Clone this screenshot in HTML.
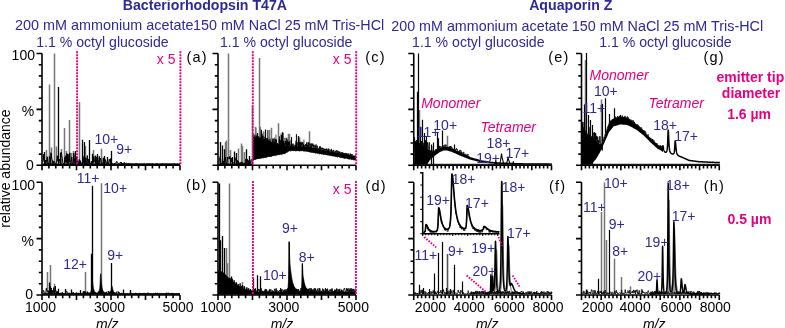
<!DOCTYPE html>
<html><head><meta charset="utf-8"><style>
html,body{margin:0;padding:0;background:#fff;overflow:hidden}
svg{display:block}
</style></head><body>
<svg width="785" height="328" viewBox="0 0 785 328" font-family="'Liberation Sans', sans-serif">
<rect width="785" height="328" fill="#fff"/>
<text x="122.8" y="9.9" font-size="14.15" fill="#2e2a95" font-weight="bold" font-style="normal" text-anchor="start" >Bacteriorhodopsin T47A</text>
<text x="529.15" y="9.9" font-size="14.15" fill="#2e2a95" font-weight="bold" font-style="normal" text-anchor="start" >Aquaporin Z</text>
<text x="15.1" y="30.45" font-size="14.4" fill="#2e2a95" font-weight="normal" font-style="normal" text-anchor="start" >200 mM ammonium acetate</text>
<text x="193.0" y="30.45" font-size="14.35" fill="#2e2a95" font-weight="normal" font-style="normal" text-anchor="start" >150 mM NaCl 25 mM Tris-HCl</text>
<text x="391.3" y="30.5" font-size="14.3" fill="#2e2a95" font-weight="normal" font-style="normal" text-anchor="start" >200 mM ammonium acetate</text>
<text x="571.8" y="30.5" font-size="14.35" fill="#2e2a95" font-weight="normal" font-style="normal" text-anchor="start" >150 mM NaCl 25 mM Tris-HCl</text>
<text x="36.2" y="47.3" font-size="14.1" fill="#2e2a95" font-weight="normal" font-style="normal" text-anchor="start" >1.1 % octyl glucoside</text>
<text x="220" y="47.3" font-size="14.1" fill="#2e2a95" font-weight="normal" font-style="normal" text-anchor="start" >1.1 % octyl glucoside</text>
<text x="412.1" y="47.3" font-size="14.1" fill="#2e2a95" font-weight="normal" font-style="normal" text-anchor="start" >1.1 % octyl glucoside</text>
<text x="599.2" y="47.3" font-size="14.1" fill="#2e2a95" font-weight="normal" font-style="normal" text-anchor="start" >1.1 % octyl glucoside</text>
<text x="11.6" y="59.8" font-size="14" fill="#000" font-weight="normal" font-style="normal" text-anchor="start" >100</text>
<text x="21.7" y="116.0" font-size="14" fill="#000" font-weight="normal" font-style="normal" text-anchor="start" >%</text>
<text x="26.05" y="169.9" font-size="14" fill="#000" font-weight="normal" font-style="normal" text-anchor="start" >0</text>
<text x="11.6" y="189.7" font-size="14" fill="#000" font-weight="normal" font-style="normal" text-anchor="start" >100</text>
<text x="21.6" y="246.1" font-size="14" fill="#000" font-weight="normal" font-style="normal" text-anchor="start" >%</text>
<text x="25.35" y="299.45" font-size="14" fill="#000" font-weight="normal" font-style="normal" text-anchor="start" >0</text>
<text x="10.4" y="168.5" font-size="14" fill="#000" text-anchor="middle" transform="rotate(-90 10.4 168.5)">relative abundance</text>
<text x="24.9" y="312.15" font-size="14" fill="#000" font-weight="normal" font-style="normal" text-anchor="start" >1000</text>
<text x="93.9" y="312.15" font-size="14" fill="#000" font-weight="normal" font-style="normal" text-anchor="start" >3000</text>
<text x="162.4" y="312.15" font-size="14" fill="#000" font-weight="normal" font-style="normal" text-anchor="start" >5000</text>
<text x="200.2" y="312.15" font-size="14" fill="#000" font-weight="normal" font-style="normal" text-anchor="start" >1000</text>
<text x="268.2" y="312.15" font-size="14" fill="#000" font-weight="normal" font-style="normal" text-anchor="start" >3000</text>
<text x="337.8" y="312.15" font-size="14" fill="#000" font-weight="normal" font-style="normal" text-anchor="start" >5000</text>
<text x="414.85" y="312.15" font-size="14" fill="#000" font-weight="normal" font-style="normal" text-anchor="start" >2000</text>
<text x="453.6" y="312.15" font-size="14" fill="#000" font-weight="normal" font-style="normal" text-anchor="start" >4000</text>
<text x="493.75" y="312.15" font-size="14" fill="#000" font-weight="normal" font-style="normal" text-anchor="start" >6000</text>
<text x="532.45" y="312.15" font-size="14" fill="#000" font-weight="normal" font-style="normal" text-anchor="start" >8000</text>
<text x="581.85" y="312.15" font-size="14" fill="#000" font-weight="normal" font-style="normal" text-anchor="start" >2000</text>
<text x="619.55" y="312.15" font-size="14" fill="#000" font-weight="normal" font-style="normal" text-anchor="start" >4000</text>
<text x="660.6" y="312.15" font-size="14" fill="#000" font-weight="normal" font-style="normal" text-anchor="start" >6000</text>
<text x="699.65" y="312.15" font-size="14" fill="#000" font-weight="normal" font-style="normal" text-anchor="start" >8000</text>
<text x="96.05" y="329.1" font-size="14" fill="#000" font-weight="normal" font-style="italic" text-anchor="start" >m/z</text>
<text x="270.7" y="329.1" font-size="14" fill="#000" font-weight="normal" font-style="italic" text-anchor="start" >m/z</text>
<text x="475.9" y="329.1" font-size="14" fill="#000" font-weight="normal" font-style="italic" text-anchor="start" >m/z</text>
<text x="642.95" y="329.1" font-size="14" fill="#000" font-weight="normal" font-style="italic" text-anchor="start" >m/z</text>
<text x="186.5" y="62.3" font-size="14.5" fill="#000" font-weight="normal" font-style="normal" text-anchor="start" letter-spacing="1.2">(a)</text>
<text x="365.2" y="62.3" font-size="14.5" fill="#000" font-weight="normal" font-style="normal" text-anchor="start" letter-spacing="1.2">(c)</text>
<text x="548.2" y="62.3" font-size="14.5" fill="#000" font-weight="normal" font-style="normal" text-anchor="start" letter-spacing="1.2">(e)</text>
<text x="703.5" y="62.3" font-size="14.5" fill="#000" font-weight="normal" font-style="normal" text-anchor="start" letter-spacing="1.2">(g)</text>
<text x="186.1" y="190.3" font-size="14.5" fill="#000" font-weight="normal" font-style="normal" text-anchor="start" letter-spacing="1.2">(b)</text>
<text x="365.4" y="190.5" font-size="14.5" fill="#000" font-weight="normal" font-style="normal" text-anchor="start" letter-spacing="1.2">(d)</text>
<text x="548.9" y="190.5" font-size="14.5" fill="#000" font-weight="normal" font-style="normal" text-anchor="start" letter-spacing="1.2">(f)</text>
<text x="703.7" y="190.5" font-size="14.5" fill="#000" font-weight="normal" font-style="normal" text-anchor="start" letter-spacing="1.2">(h)</text>
<text x="156.75" y="63.9" font-size="14" fill="#e5007e" font-weight="normal" font-style="normal" text-anchor="start" >x 5</text>
<text x="332.85" y="63.9" font-size="14" fill="#e5007e" font-weight="normal" font-style="normal" text-anchor="start" >x 5</text>
<text x="332.85" y="193.6" font-size="14" fill="#e5007e" font-weight="normal" font-style="normal" text-anchor="start" >x 5</text>
<text x="716.55" y="82.4" font-size="14" fill="#e5007e" font-weight="bold" font-style="normal" text-anchor="start" >emitter tip</text>
<text x="721.85" y="97.7" font-size="14" fill="#e5007e" font-weight="bold" font-style="normal" text-anchor="start" >diameter</text>
<text x="727.2" y="119.1" font-size="14" fill="#e5007e" font-weight="bold" font-style="normal" text-anchor="start" >1.6 µm</text>
<text x="727.5" y="223.8" font-size="14" fill="#e5007e" font-weight="bold" font-style="normal" text-anchor="start" >0.5 µm</text>
<path d="M42,53.5V165.3 M36.5,53.50H42 M38.8,64.68H42 M38.8,75.86H42 M38.8,87.04H42 M38.8,98.22H42 M36.5,109.40H42 M38.8,120.58H42 M38.8,131.76H42 M38.8,142.94H42 M38.8,154.12H42 M36.5,165.30H42 M36.5,165.3H180 M42.00,165.3V170.20000000000002 M48.90,165.3V168.60000000000002 M55.80,165.3V168.60000000000002 M62.70,165.3V168.60000000000002 M69.60,165.3V168.60000000000002 M76.50,165.3V170.20000000000002 M83.40,165.3V168.60000000000002 M90.30,165.3V168.60000000000002 M97.20,165.3V168.60000000000002 M104.10,165.3V168.60000000000002 M111.00,165.3V170.20000000000002 M117.90,165.3V168.60000000000002 M124.80,165.3V168.60000000000002 M131.70,165.3V168.60000000000002 M138.60,165.3V168.60000000000002 M145.50,165.3V170.20000000000002 M152.40,165.3V168.60000000000002 M159.30,165.3V168.60000000000002 M166.20,165.3V168.60000000000002 M173.10,165.3V168.60000000000002 M180.00,165.3V170.20000000000002" stroke="#000" stroke-width="1.6" fill="none"/>
<path d="M42,182.3V295.0 M36.5,182.30H42 M38.8,193.57H42 M38.8,204.84H42 M38.8,216.11H42 M38.8,227.38H42 M36.5,238.65H42 M38.8,249.92H42 M38.8,261.19H42 M38.8,272.46H42 M38.8,283.73H42 M36.5,295.00H42 M36.5,295.0H180 M42.00,295.0V299.9 M48.90,295.0V298.3 M55.80,295.0V298.3 M62.70,295.0V298.3 M69.60,295.0V298.3 M76.50,295.0V299.9 M83.40,295.0V298.3 M90.30,295.0V298.3 M97.20,295.0V298.3 M104.10,295.0V298.3 M111.00,295.0V299.9 M117.90,295.0V298.3 M124.80,295.0V298.3 M131.70,295.0V298.3 M138.60,295.0V298.3 M145.50,295.0V299.9 M152.40,295.0V298.3 M159.30,295.0V298.3 M166.20,295.0V298.3 M173.10,295.0V298.3 M180.00,295.0V299.9" stroke="#000" stroke-width="1.6" fill="none"/>
<path d="M218,53.5V165.3 M212.5,53.50H218 M214.8,64.68H218 M214.8,75.86H218 M214.8,87.04H218 M214.8,98.22H218 M212.5,109.40H218 M214.8,120.58H218 M214.8,131.76H218 M214.8,142.94H218 M214.8,154.12H218 M212.5,165.30H218 M212.5,165.3H356 M218.00,165.3V170.20000000000002 M224.90,165.3V168.60000000000002 M231.80,165.3V168.60000000000002 M238.70,165.3V168.60000000000002 M245.60,165.3V168.60000000000002 M252.50,165.3V170.20000000000002 M259.40,165.3V168.60000000000002 M266.30,165.3V168.60000000000002 M273.20,165.3V168.60000000000002 M280.10,165.3V168.60000000000002 M287.00,165.3V170.20000000000002 M293.90,165.3V168.60000000000002 M300.80,165.3V168.60000000000002 M307.70,165.3V168.60000000000002 M314.60,165.3V168.60000000000002 M321.50,165.3V170.20000000000002 M328.40,165.3V168.60000000000002 M335.30,165.3V168.60000000000002 M342.20,165.3V168.60000000000002 M349.10,165.3V168.60000000000002 M356.00,165.3V170.20000000000002" stroke="#000" stroke-width="1.6" fill="none"/>
<path d="M218,182.3V295.0 M212.5,182.30H218 M214.8,193.57H218 M214.8,204.84H218 M214.8,216.11H218 M214.8,227.38H218 M212.5,238.65H218 M214.8,249.92H218 M214.8,261.19H218 M214.8,272.46H218 M214.8,283.73H218 M212.5,295.00H218 M212.5,295.0H356 M218.00,295.0V299.9 M224.90,295.0V298.3 M231.80,295.0V298.3 M238.70,295.0V298.3 M245.60,295.0V298.3 M252.50,295.0V299.9 M259.40,295.0V298.3 M266.30,295.0V298.3 M273.20,295.0V298.3 M280.10,295.0V298.3 M287.00,295.0V299.9 M293.90,295.0V298.3 M300.80,295.0V298.3 M307.70,295.0V298.3 M314.60,295.0V298.3 M321.50,295.0V299.9 M328.40,295.0V298.3 M335.30,295.0V298.3 M342.20,295.0V298.3 M349.10,295.0V298.3 M356.00,295.0V299.9" stroke="#000" stroke-width="1.6" fill="none"/>
<path d="M413.75,53.5V165.3 M408.25,53.50H413.75 M410.55,64.68H413.75 M410.55,75.86H413.75 M410.55,87.04H413.75 M410.55,98.22H413.75 M408.25,109.40H413.75 M410.55,120.58H413.75 M410.55,131.76H413.75 M410.55,142.94H413.75 M410.55,154.12H413.75 M408.25,165.30H413.75 M408.25,165.3H551.5 M413.75,165.3V170.20000000000002 M417.69,165.3V168.60000000000002 M421.62,165.3V168.60000000000002 M425.56,165.3V168.60000000000002 M429.49,165.3V168.60000000000002 M433.43,165.3V170.20000000000002 M437.36,165.3V168.60000000000002 M441.30,165.3V168.60000000000002 M445.24,165.3V168.60000000000002 M449.17,165.3V168.60000000000002 M453.11,165.3V170.20000000000002 M457.04,165.3V168.60000000000002 M460.98,165.3V168.60000000000002 M464.91,165.3V168.60000000000002 M468.85,165.3V168.60000000000002 M472.79,165.3V170.20000000000002 M476.72,165.3V168.60000000000002 M480.66,165.3V168.60000000000002 M484.59,165.3V168.60000000000002 M488.53,165.3V168.60000000000002 M492.46,165.3V170.20000000000002 M496.40,165.3V168.60000000000002 M500.34,165.3V168.60000000000002 M504.27,165.3V168.60000000000002 M508.21,165.3V168.60000000000002 M512.14,165.3V170.20000000000002 M516.08,165.3V168.60000000000002 M520.01,165.3V168.60000000000002 M523.95,165.3V168.60000000000002 M527.89,165.3V168.60000000000002 M531.82,165.3V170.20000000000002 M535.76,165.3V168.60000000000002 M539.69,165.3V168.60000000000002 M543.63,165.3V168.60000000000002 M547.56,165.3V168.60000000000002 M551.50,165.3V170.20000000000002" stroke="#000" stroke-width="1.6" fill="none"/>
<path d="M413.75,182.3V295.0 M408.25,182.30H413.75 M410.55,193.57H413.75 M410.55,204.84H413.75 M410.55,216.11H413.75 M410.55,227.38H413.75 M408.25,238.65H413.75 M410.55,249.92H413.75 M410.55,261.19H413.75 M410.55,272.46H413.75 M410.55,283.73H413.75 M408.25,295.00H413.75 M408.25,295.0H551.5 M413.75,295.0V299.9 M417.69,295.0V298.3 M421.62,295.0V298.3 M425.56,295.0V298.3 M429.49,295.0V298.3 M433.43,295.0V299.9 M437.36,295.0V298.3 M441.30,295.0V298.3 M445.24,295.0V298.3 M449.17,295.0V298.3 M453.11,295.0V299.9 M457.04,295.0V298.3 M460.98,295.0V298.3 M464.91,295.0V298.3 M468.85,295.0V298.3 M472.79,295.0V299.9 M476.72,295.0V298.3 M480.66,295.0V298.3 M484.59,295.0V298.3 M488.53,295.0V298.3 M492.46,295.0V299.9 M496.40,295.0V298.3 M500.34,295.0V298.3 M504.27,295.0V298.3 M508.21,295.0V298.3 M512.14,295.0V299.9 M516.08,295.0V298.3 M520.01,295.0V298.3 M523.95,295.0V298.3 M527.89,295.0V298.3 M531.82,295.0V299.9 M535.76,295.0V298.3 M539.69,295.0V298.3 M543.63,295.0V298.3 M547.56,295.0V298.3 M551.50,295.0V299.9" stroke="#000" stroke-width="1.6" fill="none"/>
<path d="M581.5,53.5V165.3 M576.0,53.50H581.5 M578.3,64.68H581.5 M578.3,75.86H581.5 M578.3,87.04H581.5 M578.3,98.22H581.5 M576.0,109.40H581.5 M578.3,120.58H581.5 M578.3,131.76H581.5 M578.3,142.94H581.5 M578.3,154.12H581.5 M576.0,165.30H581.5 M576.0,165.3H719.25 M581.50,165.3V170.20000000000002 M585.44,165.3V168.60000000000002 M589.37,165.3V168.60000000000002 M593.31,165.3V168.60000000000002 M597.24,165.3V168.60000000000002 M601.18,165.3V170.20000000000002 M605.11,165.3V168.60000000000002 M609.05,165.3V168.60000000000002 M612.99,165.3V168.60000000000002 M616.92,165.3V168.60000000000002 M620.86,165.3V170.20000000000002 M624.79,165.3V168.60000000000002 M628.73,165.3V168.60000000000002 M632.66,165.3V168.60000000000002 M636.60,165.3V168.60000000000002 M640.54,165.3V170.20000000000002 M644.47,165.3V168.60000000000002 M648.41,165.3V168.60000000000002 M652.34,165.3V168.60000000000002 M656.28,165.3V168.60000000000002 M660.21,165.3V170.20000000000002 M664.15,165.3V168.60000000000002 M668.09,165.3V168.60000000000002 M672.02,165.3V168.60000000000002 M675.96,165.3V168.60000000000002 M679.89,165.3V170.20000000000002 M683.83,165.3V168.60000000000002 M687.76,165.3V168.60000000000002 M691.70,165.3V168.60000000000002 M695.64,165.3V168.60000000000002 M699.57,165.3V170.20000000000002 M703.51,165.3V168.60000000000002 M707.44,165.3V168.60000000000002 M711.38,165.3V168.60000000000002 M715.31,165.3V168.60000000000002 M719.25,165.3V170.20000000000002" stroke="#000" stroke-width="1.6" fill="none"/>
<path d="M581.5,182.3V295.0 M576.0,182.30H581.5 M578.3,193.57H581.5 M578.3,204.84H581.5 M578.3,216.11H581.5 M578.3,227.38H581.5 M576.0,238.65H581.5 M578.3,249.92H581.5 M578.3,261.19H581.5 M578.3,272.46H581.5 M578.3,283.73H581.5 M576.0,295.00H581.5 M576.0,295.0H719.25 M581.50,295.0V299.9 M585.44,295.0V298.3 M589.37,295.0V298.3 M593.31,295.0V298.3 M597.24,295.0V298.3 M601.18,295.0V299.9 M605.11,295.0V298.3 M609.05,295.0V298.3 M612.99,295.0V298.3 M616.92,295.0V298.3 M620.86,295.0V299.9 M624.79,295.0V298.3 M628.73,295.0V298.3 M632.66,295.0V298.3 M636.60,295.0V298.3 M640.54,295.0V299.9 M644.47,295.0V298.3 M648.41,295.0V298.3 M652.34,295.0V298.3 M656.28,295.0V298.3 M660.21,295.0V299.9 M664.15,295.0V298.3 M668.09,295.0V298.3 M672.02,295.0V298.3 M675.96,295.0V298.3 M679.89,295.0V299.9 M683.83,295.0V298.3 M687.76,295.0V298.3 M691.70,295.0V298.3 M695.64,295.0V298.3 M699.57,295.0V299.9 M703.51,295.0V298.3 M707.44,295.0V298.3 M711.38,295.0V298.3 M715.31,295.0V298.3 M719.25,295.0V299.9" stroke="#000" stroke-width="1.6" fill="none"/>
<path d="M49.50,164.30V84.50 M51.50,164.30V147.50 M54.50,164.30V53.50 M56.50,164.30V146.50 M64.50,164.30V128.00 M69.50,164.30V120.00 M73.50,164.30V151.00 M79.50,164.30V102.00 M85.50,164.30V145.90 M101.50,164.30V148.75 M46.50,164.30V150.00 M61.50,164.30V149.00 M66.50,164.30V151.00 M71.50,164.30V153.00 M93.50,164.30V150.00" stroke="#767676" stroke-width="1.5" fill="none"/>
<path d="M47.50,294.00V272.00 M50.50,294.00V265.00 M54.50,294.00V283.75 M85.50,294.00V272.00 M101.50,294.00V183.25" stroke="#767676" stroke-width="1.5" fill="none"/>
<path d="M225.50,164.30V142.00 M226.50,164.30V140.50 M228.50,164.30V53.50 M238.50,164.30V148.50 M241.50,164.30V143.40 M242.50,164.30V146.00 M230.50,164.30V150.00 M244.50,164.30V152.00" stroke="#767676" stroke-width="1.5" fill="none"/>
<path d="M299.69,148.82V139.42 M281.65,146.87V139.49 M282.82,147.07V135.16 M293.22,148.41V143.35 M296.05,148.61V142.61 M290.62,148.11V142.66 M260.19,140.53V126.80 M290.41,148.08V140.31 M280.99,146.76V133.50 M255.98,140.80V127.79 M291.57,148.22V142.86 M260.38,140.51V127.13 M275.87,145.82V134.54 M274.53,145.44V137.42 M267.80,143.53V137.55 M300.23,148.85V141.51 M303.88,149.06V139.43 M281.63,146.86V138.35 M283.48,147.18V133.04" stroke="#666" stroke-width="1.1" fill="none"/>
<path d="M252.50,164.30V105.50 M255.50,159.31V126.80 M263.50,157.79V131.20 M269.50,156.64V130.00 M271.50,156.25V127.70 M278.50,154.86V123.30 M282.50,154.07V132.10 M289.50,150.80V133.90 M299.50,150.73V137.40 M309.50,151.81V131.20 M288.50,151.52V133.75" stroke="#767676" stroke-width="1.5" fill="none"/>
<path d="M259.50,158.55V58.00" stroke="#767676" stroke-width="1.5" fill="none"/>
<path d="M226.50,294.00V248.00 M227.50,294.00V263.30 M229.50,294.00V183.50 M242.50,294.00V282.00" stroke="#767676" stroke-width="1.5" fill="none"/>
<path d="M447.50,147.14V135.70 M463.50,153.50V153.40 M419.50,164.30V110.00" stroke="#767676" stroke-width="1.5" fill="none"/>
<path d="M447.50,294.00V254.00" stroke="#555" stroke-width="1.6" fill="none"/>
<path d="M601.50,143.57V99.40 M585.50,164.30V60.00" stroke="#767676" stroke-width="1.5" fill="none"/>
<path d="M601.50,294.00V212.00 M604.50,294.00V182.50 M606.50,294.00V240.00 M614.50,294.00V258.75 M621.50,294.00V277.00 M630.50,294.00V286.25 M641.50,294.00V289.50" stroke="#767676" stroke-width="1.5" fill="none"/>
<path d="M42.80,161.84 L43.30,160.54 L43.80,154.05 L44.30,161.70 L44.80,161.21 L45.30,160.16 L45.80,163.89 L46.30,161.16 L46.80,159.54 L47.30,156.75 L47.80,164.19 L48.30,163.20 L48.80,164.20 L49.30,156.43 L49.80,158.53 L50.30,164.28 L50.80,152.72 L51.30,153.13 L51.80,159.17 L52.30,159.75 L52.80,164.00 L53.30,164.30 L53.80,160.95 L54.30,164.26 L54.80,163.87 L55.30,163.60 L55.80,164.29 L56.30,161.72 L56.80,161.97 L57.30,155.78 L57.80,161.07 L58.30,159.38 L58.80,161.30 L59.30,159.03 L59.80,161.79 L60.30,163.37 L60.80,152.36 L61.30,152.40 L61.80,155.83 L62.30,158.29 L62.80,163.11 L63.30,163.67 L63.80,163.30 L64.30,164.24 L64.80,157.25 L65.30,162.38 L65.80,155.70 L66.30,162.51 L66.80,153.29 L67.30,155.68 L67.80,164.30 L68.30,163.77 L68.80,154.36 L69.30,161.65 L69.80,152.77 L70.30,162.40 L70.80,164.24 L71.30,159.55 L71.80,157.03 L72.30,163.43 L72.80,164.21 L73.30,162.97 L73.80,153.15 L74.30,157.40 L74.80,164.13 L75.30,163.57 L75.80,164.18 L76.30,164.26 L76.80,156.68 L77.30,163.92 L77.80,160.55 L78.30,162.50 L78.80,163.97 L79.30,159.48 L79.80,164.15 L80.30,160.57 L80.80,164.18 L81.30,162.71 L81.80,163.89 L82.30,163.64 L82.80,155.82 L83.30,158.49 L83.80,163.47 L84.30,157.25 L84.80,163.90 L85.30,162.90 L85.80,157.73 L86.30,160.59 L86.80,164.21 L87.30,155.49 L87.80,163.89 L88.30,163.70 L88.80,158.93 L89.30,163.33 L89.80,163.51 L90.30,164.25 L90.80,164.23 L91.30,161.24 L91.80,163.77 L92.30,161.05 L92.80,163.06 L93.30,162.45 L93.80,156.02 L94.30,162.19 L94.80,161.33 L95.30,157.54 L95.80,164.00 L96.30,164.09 L96.80,156.87 L97.30,158.28 L97.80,163.74 L98.30,163.98 L98.80,159.38 L99.30,156.34 L99.80,163.95 L100.30,157.98 L100.80,158.85 L101.30,161.75 L101.80,163.06 L102.30,164.22 L102.80,164.29 L103.30,157.81 L103.80,163.90 L104.30,160.82 L104.80,163.84 L105.30,159.55 L105.80,161.81 L106.30,163.70 L106.80,164.08 L107.30,160.67 L107.80,164.27 L108.30,163.93 L108.80,162.11 L109.30,159.21 L109.80,161.66 L110.30,163.75 L110.80,158.41 L111.30,164.01 L111.80,164.30 L112.30,164.01 L112.80,163.53 L113.30,164.29 L113.80,164.19 L114.30,163.81 L114.80,163.15 L115.30,164.24 L115.80,163.86 L116.30,161.71 L116.80,161.24 L117.30,162.96 L117.80,162.86 L118.30,163.30 L118.80,164.24 L119.30,164.30 L119.80,164.30 L120.30,162.16 L120.80,163.07 L121.30,162.06 L121.80,164.30 L122.30,163.39 L122.80,163.80 L123.30,163.19 L123.80,164.10 L124.30,162.39 L124.80,164.29 L125.30,163.78 L125.80,163.40 L126.30,163.03 L126.80,163.49 L127.30,163.61 L127.80,163.47 L128.30,163.27 L128.80,164.16 L129.30,163.80 L129.80,163.51 L130.30,163.62 L130.80,164.14 L131.30,163.74 L131.80,163.63 L132.30,164.00 L132.80,163.95 L133.30,164.17 L133.80,163.99 L134.30,163.97 L134.80,164.29 L135.30,163.93 L135.80,163.41 L136.30,163.60 L136.80,163.82 L137.30,164.16 L137.80,163.81 L138.30,164.00 L138.80,164.13 L139.30,163.67 L139.80,164.29 L140.30,163.79 L140.80,164.30 L141.30,163.97 L141.80,164.09 L142.30,164.25 L142.80,163.86 L143.30,164.08 L143.80,163.96 L144.30,163.54 L144.80,164.24 L145.30,164.30 L145.80,164.22 L146.30,163.89 L146.80,164.26 L147.30,164.27 L147.80,163.56 L148.30,163.91 L148.80,164.12 L149.30,163.58 L149.80,164.20 L150.30,163.90 L150.80,164.26 L151.30,164.13 L151.80,163.72 L152.30,163.55 L152.80,163.60 L153.30,164.17 L153.80,163.99 L154.30,164.21 L154.80,164.28 L155.30,164.08 L155.80,163.67 L156.30,163.65 L156.80,163.84 L157.30,163.49 L157.80,164.23 L158.30,164.27 L158.80,164.12 L159.30,164.23 L159.80,164.26 L160.30,164.15 L160.80,163.95 L161.30,164.08 L161.80,164.21 L162.30,163.67 L162.80,163.43 L163.30,164.12 L163.80,164.29 L164.30,164.30 L164.80,163.61 L165.30,164.30 L165.80,163.85 L166.30,164.01 L166.80,164.21 L167.30,163.74 L167.80,164.30 L168.30,164.28 L168.80,164.11 L169.30,164.30 L169.80,163.68 L170.30,164.25 L170.80,164.28 L171.30,164.30 L171.80,163.94 L172.30,164.12 L172.80,163.94 L173.30,163.91 L173.80,163.71 L174.30,163.47 L174.80,163.88 L175.30,164.26 L175.80,164.10 L176.30,164.27 L176.80,164.30 L177.30,164.10 L177.80,163.84 L178.30,164.27 L178.80,164.23 L179.30,164.19 L179.80,163.86" stroke="#000" stroke-width="1.0" fill="none" stroke-linejoin="round"/>
<path d="M58.50,164.30V87.00 M82.50,164.30V139.80 M84.50,164.30V142.00 M89.50,164.30V140.00 M92.50,164.30V153.75 M95.50,164.30V155.50 M111.50,164.30V151.00 M97.50,164.30V154.00 M104.50,164.30V156.00 M107.50,164.30V157.00 M44.50,164.30V152.00 M60.50,164.30V153.00 M67.50,164.30V154.00 M75.50,164.30V151.00" stroke="#000" stroke-width="1.3" fill="none"/>
<path d="M42.8,164.3H180" stroke="#000" stroke-width="1.4"/>
<path d="M77.1,51.3V165" stroke="#e5007e" stroke-width="1.9" stroke-dasharray="1.9 1.1" fill="none"/>
<path d="M180.4,51.3V165" stroke="#e5007e" stroke-width="1.9" stroke-dasharray="1.9 1.1" fill="none"/>
<path d="M42.80,292.56 L43.30,290.64 L43.80,290.52 L44.30,293.94 L44.80,294.00 L45.30,293.22 L45.80,293.65 L46.30,288.21 L46.80,290.18 L47.30,291.33 L47.80,291.80 L48.30,290.59 L48.80,293.93 L49.30,292.82 L49.80,293.91 L50.30,286.26 L50.80,293.99 L51.30,288.05 L51.80,293.99 L52.30,290.23 L52.80,293.41 L53.30,293.05 L53.80,287.60 L54.30,294.00 L54.80,293.99 L55.30,286.06 L55.80,292.27 L56.30,293.99 L56.80,291.10 L57.30,291.40 L57.80,293.99 L58.30,293.68 L58.80,293.98 L59.30,293.85 L59.80,293.13 L60.30,293.97 L60.80,292.83 L61.30,294.00 L61.80,293.97 L62.30,292.23 L62.80,293.72 L63.30,293.69 L63.80,293.22 L64.30,293.56 L64.80,293.75 L65.30,294.00 L65.80,292.69 L66.30,291.25 L66.80,291.18 L67.30,292.97 L67.80,293.79 L68.30,293.78 L68.80,292.86 L69.30,292.93 L69.80,293.99 L70.30,293.93 L70.80,293.78 L71.30,293.48 L71.80,292.26 L72.30,293.51 L72.80,294.00 L73.30,292.19 L73.80,293.67 L74.30,293.45 L74.80,293.94 L75.30,293.67 L75.80,293.74 L76.30,292.47 L76.80,293.99 L77.30,293.37 L77.80,293.97 L78.30,292.83 L78.80,294.00 L79.30,293.89 L79.80,293.81 L80.30,293.07 L80.80,294.00 L81.30,293.60 L81.80,293.95 L82.30,293.89 L82.80,293.56 L83.30,291.31 L83.80,293.55 L84.30,291.33 L84.80,293.97 L85.30,291.56 L85.80,293.78 L86.30,293.96 L86.80,292.59 L87.30,291.64 L87.80,294.00 L88.30,293.90 L88.80,292.48 L89.30,293.82 L89.80,293.93 L90.30,294.00 L90.80,294.00 L91.30,293.14 L91.80,291.12 L92.30,291.01 L92.80,293.50 L93.30,294.00 L93.80,293.84 L94.30,292.39 L94.80,292.14 L95.30,293.06 L95.80,293.93 L96.30,293.43 L96.80,293.56 L97.30,293.11 L97.80,293.91 L98.30,291.40 L98.80,291.76 L99.30,293.97 L99.80,293.88 L100.30,291.89 L100.80,293.89 L101.30,291.42 L101.80,293.47 L102.30,292.83 L102.80,292.79 L103.30,293.95 L103.80,293.89 L104.30,293.91 L104.80,292.89 L105.30,292.84 L105.80,293.98 L106.30,291.81 L106.80,293.68 L107.30,293.93 L107.80,293.65 L108.30,291.16 L108.80,293.34 L109.30,293.12 L109.80,291.59 L110.30,291.29 L110.80,292.53 L111.30,293.69 L111.80,293.24 L112.30,291.71 L112.80,292.38 L113.30,293.27 L113.80,293.81 L114.30,293.78 L114.80,292.65 L115.30,293.33 L115.80,294.00 L116.30,292.77 L116.80,291.69 L117.30,292.33 L117.80,291.74 L118.30,291.65 L118.80,293.41 L119.30,292.38 L119.80,293.76 L120.30,294.00 L120.80,293.91 L121.30,293.93 L121.80,292.83 L122.30,293.47 L122.80,293.72 L123.30,293.59 L123.80,293.99 L124.30,293.73 L124.80,293.44 L125.30,293.88 L125.80,293.96 L126.30,293.86 L126.80,293.93 L127.30,293.48 L127.80,293.99 L128.30,294.00 L128.80,293.93 L129.30,293.45 L129.80,293.32 L130.30,293.53 L130.80,292.83 L131.30,293.90 L131.80,294.00 L132.30,293.78 L132.80,293.83 L133.30,293.98 L133.80,293.51 L134.30,293.91 L134.80,293.97 L135.30,293.92 L135.80,292.80 L136.30,294.00 L136.80,293.90 L137.30,293.95 L137.80,293.98 L138.30,293.84 L138.80,293.97 L139.30,292.88 L139.80,293.77 L140.30,293.45 L140.80,293.99 L141.30,293.81 L141.80,293.62 L142.30,293.10 L142.80,293.96 L143.30,293.81 L143.80,293.07 L144.30,293.13 L144.80,293.97 L145.30,293.72 L145.80,293.31 L146.30,293.87 L146.80,293.50 L147.30,293.52 L147.80,292.70 L148.30,293.70 L148.80,293.48 L149.30,293.91 L149.80,293.38 L150.30,293.93 L150.80,293.77 L151.30,293.90 L151.80,293.93 L152.30,293.99 L152.80,293.97 L153.30,293.71 L153.80,293.96 L154.30,294.00 L154.80,293.21 L155.30,293.95 L155.80,292.82 L156.30,293.63 L156.80,293.88 L157.30,293.02 L157.80,292.94 L158.30,293.93 L158.80,293.99 L159.30,293.56 L159.80,293.10 L160.30,293.62 L160.80,293.26 L161.30,293.86 L161.80,293.60 L162.30,293.96 L162.80,293.86 L163.30,293.89 L163.80,293.88 L164.30,293.87 L164.80,293.20 L165.30,293.99 L165.80,293.98 L166.30,293.96 L166.80,292.70 L167.30,293.74 L167.80,294.00 L168.30,293.12 L168.80,293.01 L169.30,293.16 L169.80,293.90 L170.30,293.37 L170.80,293.94 L171.30,293.99 L171.80,293.04 L172.30,293.13 L172.80,293.98 L173.30,293.00 L173.80,294.00 L174.30,293.93 L174.80,294.00 L175.30,293.99 L175.80,293.99 L176.30,293.41 L176.80,293.94 L177.30,293.98 L177.80,293.98 L178.30,293.93 L178.80,293.05 L179.30,293.62 L179.80,294.00" stroke="#000" stroke-width="1.0" fill="none" stroke-linejoin="round"/>
<path d="M49.50,294.00V282.50 M58.50,294.00V288.75 M65.50,294.00V289.00 M71.50,294.00V289.50 M80.50,294.00V290.00 M91.50,294.00V253.75 M92.50,294.00V185.75 M111.50,294.00V263.00 M123.50,294.00V289.50 M130.50,294.00V290.00" stroke="#000" stroke-width="1.3" fill="none"/>
<path d="M88.00,293.68 L88.05,293.67 L88.09,293.66 L88.14,293.66 L88.18,293.65 L88.22,293.64 L88.27,293.63 L88.31,293.63 L88.36,293.62 L88.41,293.61 L88.45,293.60 L88.50,293.59 L88.54,293.58 L88.58,293.57 L88.63,293.56 L88.67,293.55 L88.72,293.54 L88.77,293.53 L88.81,293.52 L88.86,293.51 L88.90,293.49 L88.94,293.48 L88.99,293.47 L89.03,293.45 L89.08,293.44 L89.12,293.42 L89.17,293.41 L89.22,293.39 L89.26,293.38 L89.31,293.36 L89.35,293.34 L89.39,293.32 L89.44,293.30 L89.48,293.28 L89.53,293.26 L89.58,293.23 L89.62,293.21 L89.67,293.19 L89.71,293.16 L89.75,293.13 L89.80,293.10 L89.84,293.07 L89.89,293.04 L89.94,293.01 L89.98,292.97 L90.03,292.94 L90.07,292.90 L90.11,292.86 L90.16,292.81 L90.20,292.77 L90.25,292.72 L90.30,292.67 L90.34,292.62 L90.39,292.56 L90.43,292.50 L90.47,292.44 L90.52,292.37 L90.56,292.30 L90.61,292.22 L90.66,292.14 L90.70,292.06 L90.75,291.96 L90.79,291.87 L90.83,291.76 L90.88,291.65 L90.92,291.53 L90.97,291.40 L91.02,291.26 L91.06,291.11 L91.11,290.96 L91.15,290.78 L91.19,290.60 L91.24,290.40 L91.28,290.19 L91.33,289.96 L91.38,289.71 L91.42,289.44 L91.47,289.15 L91.51,288.83 L91.56,288.49 L91.60,288.12 L91.64,287.73 L91.69,287.30 L91.73,286.84 L91.78,286.35 L91.83,285.83 L91.87,285.28 L91.92,284.71 L91.96,284.12 L92.00,283.52 L92.05,282.93 L92.09,282.38 L92.14,281.88 L92.19,281.48 L92.23,281.18 L92.28,281.02 L92.32,281.01 L92.36,281.06 L92.41,281.17 L92.45,281.33 L92.50,281.54 L92.55,281.79 L92.59,282.07 L92.64,282.38 L92.68,282.71 L92.72,283.06 L92.77,283.41 L92.81,283.77 L92.86,284.13 L92.91,284.49 L92.95,284.84 L93.00,285.18 L93.04,285.51 L93.08,285.84 L93.13,286.15 L93.17,286.45 L93.22,286.73 L93.27,287.01 L93.31,287.27 L93.36,287.53 L93.40,287.77 L93.44,288.00 L93.49,288.22 L93.53,288.44 L93.58,288.64 L93.62,288.83 L93.67,289.02 L93.72,289.19 L93.76,289.36 L93.81,289.52 L93.85,289.68 L93.89,289.82 L93.94,289.96 L93.98,290.10 L94.03,290.23 L94.08,290.35 L94.12,290.47 L94.17,290.58 L94.21,290.69 L94.25,290.80 L94.30,290.89 L94.34,290.99 L94.39,291.08 L94.44,291.17 L94.48,291.25 L94.53,291.33 L94.57,291.41 L94.61,291.49 L94.66,291.56 L94.70,291.63 L94.75,291.69 L94.80,291.76 L94.84,291.82 L94.89,291.88 L94.93,291.93 L94.97,291.99 L95.02,292.04 L95.06,292.09 L95.11,292.14 L95.16,292.19 L95.20,292.23 L95.25,292.28 L95.29,292.32 L95.33,292.36 L95.38,292.40 L95.42,292.44 L95.47,292.48 L95.52,292.51 L95.56,292.55 L95.61,292.58 L95.65,292.61 L95.69,292.64 L95.74,292.67 L95.78,292.70 L95.83,292.73 L95.88,292.76 L95.92,292.79 L95.97,292.81 L96.01,292.84 L96.06,292.86 L96.10,292.89 L96.14,292.91 L96.19,292.93 L96.23,292.95 L96.28,292.97 L96.33,292.99 L96.37,293.01 L96.41,293.03 L96.46,293.05 L96.50,293.07 L96.55,293.09 L96.59,293.10 L96.64,293.12 L96.69,293.14 L96.73,293.15 L96.78,293.17 L96.82,293.18 L96.86,293.20 L96.91,293.21 L96.95,293.23 L97.00,293.24Z" fill="#000" stroke="#000" stroke-width="0.7"/>
<path d="M97.00,293.38 L97.05,293.36 L97.09,293.34 L97.14,293.33 L97.18,293.31 L97.22,293.29 L97.27,293.28 L97.31,293.26 L97.36,293.24 L97.41,293.22 L97.45,293.20 L97.50,293.17 L97.54,293.15 L97.58,293.13 L97.63,293.10 L97.67,293.08 L97.72,293.05 L97.77,293.02 L97.81,292.99 L97.86,292.96 L97.90,292.93 L97.94,292.90 L97.99,292.86 L98.03,292.82 L98.08,292.79 L98.12,292.74 L98.17,292.70 L98.22,292.66 L98.26,292.61 L98.31,292.56 L98.35,292.51 L98.39,292.46 L98.44,292.40 L98.48,292.34 L98.53,292.27 L98.58,292.21 L98.62,292.14 L98.67,292.06 L98.71,291.98 L98.75,291.90 L98.80,291.81 L98.84,291.71 L98.89,291.61 L98.94,291.51 L98.98,291.39 L99.03,291.27 L99.07,291.14 L99.11,291.00 L99.16,290.85 L99.20,290.70 L99.25,290.53 L99.30,290.35 L99.34,290.15 L99.39,289.94 L99.43,289.72 L99.47,289.48 L99.52,289.21 L99.56,288.93 L99.61,288.63 L99.66,288.30 L99.70,287.95 L99.75,287.56 L99.79,287.14 L99.83,286.69 L99.88,286.20 L99.92,285.66 L99.97,285.07 L100.02,284.44 L100.06,283.74 L100.11,282.98 L100.15,282.16 L100.19,281.26 L100.24,280.30 L100.28,279.28 L100.33,278.22 L100.38,277.15 L100.42,276.11 L100.47,275.17 L100.51,274.42 L100.56,273.92 L100.60,273.75 L100.64,273.81 L100.69,273.98 L100.73,274.25 L100.78,274.62 L100.83,275.07 L100.87,275.58 L100.92,276.14 L100.96,276.73 L101.00,277.35 L101.05,277.97 L101.09,278.60 L101.14,279.21 L101.19,279.82 L101.23,280.40 L101.28,280.97 L101.32,281.51 L101.36,282.03 L101.41,282.53 L101.45,283.01 L101.50,283.46 L101.55,283.90 L101.59,284.31 L101.64,284.70 L101.68,285.07 L101.72,285.42 L101.77,285.76 L101.81,286.08 L101.86,286.39 L101.91,286.67 L101.95,286.95 L102.00,287.21 L102.04,287.46 L102.08,287.70 L102.13,287.93 L102.17,288.14 L102.22,288.35 L102.27,288.55 L102.31,288.73 L102.36,288.91 L102.40,289.08 L102.44,289.25 L102.49,289.40 L102.53,289.55 L102.58,289.70 L102.62,289.83 L102.67,289.96 L102.72,290.09 L102.76,290.21 L102.81,290.33 L102.85,290.44 L102.89,290.54 L102.94,290.64 L102.98,290.74 L103.03,290.83 L103.08,290.92 L103.12,291.01 L103.17,291.09 L103.21,291.17 L103.25,291.25 L103.30,291.32 L103.34,291.40 L103.39,291.46 L103.44,291.53 L103.48,291.59 L103.53,291.66 L103.57,291.71 L103.61,291.77 L103.66,291.83 L103.70,291.88 L103.75,291.93 L103.80,291.98 L103.84,292.03 L103.89,292.07 L103.93,292.12 L103.97,292.16 L104.02,292.20 L104.06,292.25 L104.11,292.28 L104.16,292.32 L104.20,292.36 L104.25,292.39 L104.29,292.43 L104.33,292.46 L104.38,292.50 L104.42,292.53 L104.47,292.56 L104.52,292.59 L104.56,292.62 L104.61,292.64 L104.65,292.67 L104.69,292.70 L104.74,292.72 L104.78,292.75 L104.83,292.77 L104.88,292.79 L104.92,292.82 L104.97,292.84 L105.01,292.86 L105.06,292.88 L105.10,292.90 L105.14,292.92 L105.19,292.94 L105.23,292.96 L105.28,292.98 L105.33,293.00 L105.37,293.01 L105.41,293.03 L105.46,293.05 L105.50,293.06 L105.55,293.08 L105.59,293.10 L105.64,293.11 L105.69,293.13 L105.73,293.14 L105.78,293.15 L105.82,293.17 L105.86,293.18 L105.91,293.19 L105.95,293.21 L106.00,293.22Z" fill="#000" stroke="#000" stroke-width="0.7"/>
<path d="M108.50,293.74 L108.54,293.74 L108.58,293.73 L108.61,293.73 L108.65,293.72 L108.69,293.71 L108.72,293.71 L108.76,293.70 L108.80,293.69 L108.84,293.68 L108.88,293.68 L108.91,293.67 L108.95,293.66 L108.99,293.65 L109.03,293.64 L109.06,293.63 L109.10,293.62 L109.14,293.61 L109.17,293.60 L109.21,293.59 L109.25,293.58 L109.29,293.57 L109.33,293.56 L109.36,293.54 L109.40,293.53 L109.44,293.52 L109.47,293.50 L109.51,293.49 L109.55,293.47 L109.59,293.45 L109.62,293.43 L109.66,293.42 L109.70,293.40 L109.74,293.38 L109.78,293.35 L109.81,293.33 L109.85,293.31 L109.89,293.28 L109.92,293.26 L109.96,293.23 L110.00,293.20 L110.04,293.17 L110.08,293.14 L110.11,293.10 L110.15,293.07 L110.19,293.03 L110.22,292.99 L110.26,292.94 L110.30,292.90 L110.34,292.85 L110.38,292.80 L110.41,292.74 L110.45,292.68 L110.49,292.62 L110.53,292.55 L110.56,292.48 L110.60,292.40 L110.64,292.32 L110.67,292.23 L110.71,292.13 L110.75,292.03 L110.79,291.92 L110.83,291.80 L110.86,291.68 L110.90,291.54 L110.94,291.39 L110.97,291.23 L111.01,291.06 L111.05,290.88 L111.09,290.68 L111.12,290.47 L111.16,290.24 L111.20,290.00 L111.24,289.74 L111.28,289.47 L111.31,289.18 L111.35,288.88 L111.39,288.57 L111.42,288.25 L111.46,287.92 L111.50,287.60 L111.54,287.29 L111.58,286.99 L111.61,286.71 L111.65,286.47 L111.69,286.27 L111.72,286.12 L111.76,286.03 L111.80,286.00 L111.84,286.01 L111.88,286.03 L111.91,286.07 L111.95,286.12 L111.99,286.19 L112.03,286.27 L112.06,286.37 L112.10,286.47 L112.14,286.59 L112.17,286.71 L112.21,286.85 L112.25,286.99 L112.29,287.13 L112.33,287.29 L112.36,287.44 L112.40,287.60 L112.44,287.76 L112.47,287.92 L112.51,288.09 L112.55,288.25 L112.59,288.41 L112.62,288.57 L112.66,288.73 L112.70,288.88 L112.74,289.03 L112.78,289.18 L112.81,289.33 L112.85,289.47 L112.89,289.61 L112.92,289.74 L112.96,289.87 L113.00,290.00 L113.04,290.12 L113.08,290.24 L113.11,290.36 L113.15,290.47 L113.19,290.58 L113.22,290.68 L113.26,290.78 L113.30,290.88 L113.34,290.97 L113.38,291.06 L113.41,291.15 L113.45,291.23 L113.49,291.31 L113.53,291.39 L113.56,291.47 L113.60,291.54 L113.64,291.61 L113.67,291.68 L113.71,291.74 L113.75,291.80 L113.79,291.86 L113.83,291.92 L113.86,291.98 L113.90,292.03 L113.94,292.08 L113.97,292.13 L114.01,292.18 L114.05,292.23 L114.09,292.27 L114.12,292.32 L114.16,292.36 L114.20,292.40 L114.24,292.44 L114.28,292.48 L114.31,292.51 L114.35,292.55 L114.39,292.58 L114.42,292.62 L114.46,292.65 L114.50,292.68 L114.54,292.71 L114.58,292.74 L114.61,292.77 L114.65,292.80 L114.69,292.82 L114.72,292.85 L114.76,292.87 L114.80,292.90 L114.84,292.92 L114.88,292.94 L114.91,292.96 L114.95,292.99 L114.99,293.01 L115.03,293.03 L115.06,293.05 L115.10,293.07 L115.14,293.08 L115.17,293.10 L115.21,293.12 L115.25,293.14 L115.29,293.15 L115.33,293.17 L115.36,293.18 L115.40,293.20 L115.44,293.21 L115.47,293.23 L115.51,293.24 L115.55,293.26 L115.59,293.27 L115.62,293.28 L115.66,293.30 L115.70,293.31 L115.74,293.32 L115.78,293.33 L115.81,293.34 L115.85,293.35 L115.89,293.37 L115.92,293.38 L115.96,293.39 L116.00,293.40Z" fill="#000" stroke="#000" stroke-width="0.7"/>
<path d="M42.8,294.0H180" stroke="#000" stroke-width="1.4"/>
<path d="M219.00,163.27 L219.45,158.42 L219.90,158.50 L220.35,155.83 L220.80,163.76 L221.25,163.51 L221.70,163.95 L222.15,163.56 L222.60,158.14 L223.05,164.03 L223.50,160.94 L223.95,163.65 L224.40,163.16 L224.85,162.07 L225.30,157.02 L225.75,160.26 L226.20,164.30 L226.65,163.35 L227.10,164.00 L227.55,156.97 L228.00,157.96 L228.45,158.09 L228.90,157.90 L229.35,159.06 L229.80,156.30 L230.25,158.59 L230.70,163.56 L231.15,158.02 L231.60,162.03 L232.05,159.37 L232.50,161.43 L232.95,162.57 L233.40,163.03 L233.85,162.62 L234.30,163.36 L234.75,164.14 L235.20,159.19 L235.65,159.51 L236.10,157.42 L236.55,160.73 L237.00,161.94 L237.45,160.33 L237.90,164.12 L238.35,161.11 L238.80,162.84 L239.25,164.03 L239.70,163.96 L240.15,162.43 L240.60,163.79 L241.05,162.82 L241.50,161.87 L241.95,163.17 L242.40,164.15 L242.85,162.63 L243.30,163.86 L243.75,163.86 L244.20,163.99 L244.65,163.32 L245.10,164.25 L245.55,161.53 L246.00,158.79 L246.45,163.20 L246.90,160.99 L247.35,159.00 L247.80,164.28 L248.25,164.12 L248.70,160.23 L249.15,159.93 L249.60,161.62 L250.05,164.08 L250.50,163.08 L250.95,159.65 L251.40,159.47 L251.85,160.26 L252.30,163.96" stroke="#000" stroke-width="1.0" fill="none" stroke-linejoin="round"/>
<path d="M220.50,164.30V142.00 M222.50,164.30V145.60 M224.50,164.30V149.30 M232.50,164.30V157.00 M234.50,164.30V151.50 M236.50,164.30V153.00 M246.50,164.30V149.30 M249.50,164.30V156.00" stroke="#000" stroke-width="1.3" fill="none"/>
<path d="M253.00,139.20 L253.50,139.17 L254.00,139.13 L254.50,139.10 L255.00,139.07 L255.50,139.04 L256.00,139.00 L256.50,138.97 L257.00,138.94 L257.50,138.90 L258.00,138.87 L258.50,138.84 L259.00,138.81 L259.50,138.77 L260.00,138.74 L260.50,138.71 L261.00,138.87 L261.50,139.08 L262.00,139.29 L262.50,139.50 L263.00,139.71 L263.50,139.93 L264.00,140.14 L264.50,140.35 L265.00,140.56 L265.50,140.77 L266.00,140.98 L266.50,141.19 L267.00,141.40 L267.50,141.62 L268.00,141.79 L268.50,141.93 L269.00,142.07 L269.50,142.21 L270.00,142.35 L270.50,142.50 L271.00,142.64 L271.50,142.78 L272.00,142.92 L272.50,143.06 L273.00,143.21 L273.50,143.35 L274.00,143.49 L274.50,143.63 L275.00,143.77 L275.50,143.92 L276.00,144.06 L276.50,144.20 L277.00,144.28 L277.50,144.37 L278.00,144.45 L278.50,144.54 L279.00,144.62 L279.50,144.71 L280.00,144.79 L280.50,144.87 L281.00,144.96 L281.50,145.04 L282.00,145.13 L282.50,145.21 L283.00,145.30 L283.50,145.38 L284.00,145.46 L284.50,145.55 L285.00,145.63 L285.50,145.71 L286.00,145.77 L286.50,145.83 L287.00,145.89 L287.50,145.94 L288.00,146.00 L288.50,146.06 L289.00,146.12 L289.50,146.18 L290.00,146.23 L290.50,146.29 L291.00,146.35 L291.50,146.41 L292.00,146.47 L292.50,146.53 L293.00,146.58 L293.50,146.64 L294.00,146.70 L294.50,146.73 L295.00,146.76 L295.50,146.78 L296.00,146.81 L296.50,146.84 L297.00,146.87 L297.50,146.89 L298.00,146.92 L298.50,146.95 L299.00,146.98 L299.50,147.01 L300.00,146.13 L300.50,146.16 L301.00,146.19 L301.50,146.22 L302.00,146.24 L302.50,146.27 L303.00,146.30 L303.50,146.34 L304.00,146.37 L304.50,146.41 L305.00,146.44 L305.50,146.48 L306.00,146.51 L306.50,146.55 L307.00,146.59 L307.50,146.62 L308.00,146.66 L308.50,146.69 L309.00,146.73 L309.50,146.76 L310.00,146.80 L310.50,146.90 L311.00,147.00 L311.50,147.10 L312.00,147.20 L312.50,147.30 L313.00,147.40 L313.50,147.50 L314.00,147.60 L314.50,147.70 L315.00,147.80 L315.50,147.90 L316.00,148.00 L316.50,148.10 L317.00,148.20 L317.50,148.30 L318.00,148.42 L318.50,148.54 L319.00,148.66 L319.50,148.78 L320.00,148.90 L320.50,149.02 L321.00,149.14 L321.50,149.26 L322.00,149.38 L322.50,149.50 L323.00,149.62 L323.50,149.74 L324.00,149.86 L324.50,149.98 L325.00,150.10 L325.50,150.22 L326.00,150.34 L326.50,150.46 L327.00,150.58 L327.50,150.70 L328.00,150.82 L328.50,150.94 L329.00,151.06 L329.50,151.18 L330.00,151.30 L330.50,151.40 L331.00,151.49 L331.50,151.59 L332.00,151.68 L332.50,151.78 L333.00,151.88 L333.50,151.97 L334.00,152.07 L334.50,152.16 L335.00,152.26 L335.50,152.36 L336.00,152.45 L336.50,152.55 L337.00,152.64 L337.50,152.74 L338.00,152.84 L338.50,152.93 L339.00,153.03 L339.50,153.12 L340.00,153.22 L340.50,153.32 L341.00,153.41 L341.50,153.51 L342.00,153.60 L342.50,153.70 L343.00,153.80 L343.50,153.89 L344.00,153.99 L344.50,154.08 L345.00,154.18 L345.50,154.28 L346.00,154.37 L346.50,154.47 L347.00,154.56 L347.50,154.66 L348.00,154.76 L348.50,154.85 L349.00,154.95 L349.50,155.04 L350.00,155.14 L350.50,155.24 L351.00,155.33 L351.50,155.43 L352.00,155.52 L352.50,155.62 L353.00,155.72 L353.50,155.81 L354.00,155.91 L354.50,156.00 L355.00,156.10 L355.50,156.10 L356.00,156.10 L356.00,160.00 L355.50,160.00 L355.00,160.00 L354.50,159.91 L354.00,159.82 L353.50,159.73 L353.00,159.64 L352.50,159.55 L352.00,159.46 L351.50,159.37 L351.00,159.28 L350.50,159.19 L350.00,159.10 L349.50,159.01 L349.00,158.92 L348.50,158.83 L348.00,158.74 L347.50,158.65 L347.00,158.56 L346.50,158.47 L346.00,158.38 L345.50,158.29 L345.00,158.20 L344.50,158.11 L344.00,158.02 L343.50,157.93 L343.00,157.84 L342.50,157.75 L342.00,157.66 L341.50,157.57 L341.00,157.48 L340.50,157.39 L340.00,157.30 L339.50,157.21 L339.00,157.12 L338.50,157.03 L338.00,156.94 L337.50,156.85 L337.00,156.76 L336.50,156.67 L336.00,156.58 L335.50,156.49 L335.00,156.40 L334.50,156.31 L334.00,156.22 L333.50,156.13 L333.00,156.04 L332.50,155.95 L332.00,155.86 L331.50,155.77 L331.00,155.68 L330.50,155.59 L330.00,155.50 L329.50,155.41 L329.00,155.32 L328.50,155.24 L328.00,155.15 L327.50,155.06 L327.00,154.97 L326.50,154.89 L326.00,154.80 L325.50,154.71 L325.00,154.62 L324.50,154.54 L324.00,154.45 L323.50,154.36 L323.00,154.28 L322.50,154.19 L322.00,154.10 L321.50,154.01 L321.00,153.93 L320.50,153.84 L320.00,153.75 L319.50,153.66 L319.00,153.57 L318.50,153.49 L318.00,153.40 L317.50,153.31 L317.00,153.22 L316.50,153.14 L316.00,153.05 L315.50,152.96 L315.00,152.88 L314.50,152.79 L314.00,152.70 L313.50,152.61 L313.00,152.53 L312.50,152.44 L312.00,152.35 L311.50,152.26 L311.00,152.18 L310.50,152.09 L310.00,152.00 L309.50,151.91 L309.00,151.81 L308.50,151.72 L308.00,151.63 L307.50,151.54 L307.00,151.44 L306.50,151.35 L306.00,151.26 L305.50,151.16 L305.00,151.07 L304.50,150.98 L304.00,150.89 L303.50,150.79 L303.00,150.70 L302.50,150.70 L302.00,150.71 L301.50,150.71 L301.00,150.71 L300.50,150.72 L300.00,150.72 L299.50,150.72 L299.00,150.73 L298.50,150.73 L298.00,150.74 L297.50,150.74 L297.00,150.74 L296.50,150.75 L296.00,150.75 L295.50,150.75 L295.00,150.76 L294.50,150.76 L294.00,150.76 L293.50,150.77 L293.00,150.77 L292.50,150.78 L292.00,150.78 L291.50,150.78 L291.00,150.79 L290.50,150.79 L290.00,150.79 L289.50,150.80 L289.00,150.80 L288.50,151.16 L288.00,151.52 L287.50,151.88 L287.00,152.24 L286.50,152.61 L286.00,152.97 L285.50,153.33 L285.00,153.48 L284.50,153.58 L284.00,153.68 L283.50,153.78 L283.00,153.87 L282.50,153.97 L282.00,154.07 L281.50,154.17 L281.00,154.27 L280.50,154.37 L280.00,154.47 L279.50,154.57 L279.00,154.67 L278.50,154.76 L278.00,154.86 L277.50,154.96 L277.00,155.06 L276.50,155.16 L276.00,155.26 L275.50,155.36 L275.00,155.46 L274.50,155.56 L274.00,155.65 L273.50,155.75 L273.00,155.85 L272.50,155.95 L272.00,156.05 L271.50,156.15 L271.00,156.25 L270.50,156.35 L270.00,156.45 L269.50,156.54 L269.00,156.64 L268.50,156.74 L268.00,156.84 L267.50,156.94 L267.00,157.03 L266.50,157.13 L266.00,157.22 L265.50,157.32 L265.00,157.41 L264.50,157.51 L264.00,157.60 L263.50,157.70 L263.00,157.79 L262.50,157.89 L262.00,157.98 L261.50,158.08 L261.00,158.17 L260.50,158.27 L260.00,158.36 L259.50,158.46 L259.00,158.55 L258.50,158.65 L258.00,158.74 L257.50,158.84 L257.00,158.93 L256.50,159.03 L256.00,159.12 L255.50,159.22 L255.00,159.31 L254.50,159.41 L254.00,159.50 L253.50,159.60 L253.00,160.50Z" fill="#000" stroke="none"/>
<path d="M253.00,139.98 L253.30,137.38 L253.60,137.82 L253.90,134.40 L254.20,139.70 L254.50,139.71 L254.80,136.97 L255.10,137.67 L255.40,139.55 L255.70,137.40 L256.00,139.22 L256.30,136.40 L256.60,139.74 L256.90,139.61 L257.20,134.76 L257.50,139.25 L257.80,139.49 L258.10,135.97 L258.40,137.68 L258.70,139.58 L259.00,138.22 L259.30,137.34 L259.60,139.51 L259.90,137.41 L260.20,139.50 L260.50,139.12 L260.80,139.57 L261.10,139.61 L261.40,133.70 L261.70,139.35 L262.00,133.75 L262.30,139.46 L262.60,138.57 L262.90,135.91 L263.20,138.15 L263.50,140.70 L263.80,139.21 L264.10,138.99 L264.40,141.03 L264.70,141.22 L265.00,136.77 L265.30,140.34 L265.60,141.52 L265.90,140.91 L266.20,141.74 L266.50,138.38 L266.80,141.04 L267.10,142.23 L267.40,138.52 L267.70,142.49 L268.00,142.35 L268.30,142.67 L268.60,139.78 L268.90,142.82 L269.20,141.70 L269.50,143.00 L269.80,142.13 L270.10,140.75 L270.40,141.99 L270.70,142.51 L271.00,142.45 L271.30,142.77 L271.60,141.92 L271.90,143.68 L272.20,142.84 L272.50,143.71 L272.80,139.48 L273.10,138.51 L273.40,144.11 L273.70,144.16 L274.00,141.69 L274.30,142.86 L274.60,144.46 L274.90,141.93 L275.20,139.04 L275.50,144.02 L275.80,144.38 L276.10,143.38 L276.40,139.45 L276.70,144.83 L277.00,144.79 L277.30,145.05 L277.60,143.24 L277.90,144.33 L278.20,145.10 L278.50,144.78 L278.80,145.39 L279.10,145.12 L279.40,139.27 L279.70,143.92 L280.00,145.35 L280.30,140.17 L280.60,145.24 L280.90,145.56 L281.20,145.79 L281.50,145.80 L281.80,145.80 L282.10,145.80 L282.40,141.43 L282.70,145.84 L283.00,145.92 L283.30,144.39 L283.60,141.01 L283.90,145.98 L284.20,143.10 L284.50,145.86 L284.80,144.95 L285.10,144.76 L285.40,140.93 L285.70,143.38 L286.00,145.45 L286.30,142.46 L286.60,146.16 L286.90,146.13 L287.20,140.86 L287.50,145.40 L287.80,143.45 L288.10,146.49 L288.40,141.69 L288.70,145.06 L289.00,146.75 L289.30,141.52 L289.60,146.08 L289.90,146.63 L290.20,146.86 L290.50,147.08 L290.80,147.03 L291.10,144.66 L291.40,147.16 L291.70,147.04 L292.00,146.46 L292.30,145.96 L292.60,146.81 L292.90,143.91 L293.20,147.22 L293.50,146.96 L293.80,146.77 L294.10,147.47 L294.40,147.39 L294.70,147.49 L295.00,144.73 L295.30,147.53 L295.60,145.31 L295.90,147.48 L296.20,145.53 L296.50,145.46 L296.80,147.22 L297.10,142.24 L297.40,145.51 L297.70,146.28 L298.00,147.72 L298.30,147.11 L298.60,147.55 L298.90,146.86 L299.20,142.36 L299.50,143.36 L299.80,147.82 L300.10,144.51 L300.40,142.19 L300.70,145.36 L301.00,146.38 L301.30,143.01 L301.60,145.89 L301.90,141.80 L302.20,143.02 L302.50,143.49 L302.80,142.47 L303.10,146.50 L303.40,143.90 L303.70,146.33 L304.00,146.55 L304.30,146.21 L304.60,145.42 L304.90,146.64 L305.20,146.07 L305.50,144.20 L305.80,145.95 L306.10,145.84 L306.40,146.55 L306.70,142.50 L307.00,146.66 L307.30,145.13 L307.60,145.37 L307.90,146.85 L308.20,142.40 L308.50,146.79 L308.80,142.57 L309.10,143.27 L309.40,143.57 L309.70,144.04 L310.00,146.60 L310.30,146.52 L310.60,146.84 L310.90,143.52 L311.20,147.24 L311.50,147.28 L311.80,143.54 L312.10,144.98 L312.40,145.76 L312.70,143.65 L313.00,146.82 L313.30,145.03 L313.60,147.22 L313.90,144.61 L314.20,147.84 L314.50,147.42 L314.80,146.98 L315.10,145.77 L315.40,147.65 L315.70,146.65 L316.00,144.49 L316.30,147.84 L316.60,148.26 L316.90,148.38 L317.20,145.74 L317.50,147.93 L317.80,148.24 L318.10,147.93 L318.40,148.70 L318.70,148.71 L319.00,148.77 L319.30,148.82 L319.60,146.42 L319.90,148.98 L320.20,149.14 L320.50,146.62 L320.80,148.47 L321.10,149.36 L321.40,148.10 L321.70,148.12 L322.00,148.38 L322.30,147.77 L322.60,149.33 L322.90,149.72 L323.20,148.19 L323.50,148.88 L323.80,148.58 L324.10,150.04 L324.40,149.88 L324.70,148.88 L325.00,150.01 L325.30,149.44 L325.60,149.95 L325.90,148.86 L326.20,150.37 L326.50,150.10 L326.80,148.65 L327.10,150.64 L327.40,150.84 L327.70,149.92 L328.00,151.00 L328.30,148.88 L328.60,151.05 L328.90,148.72 L329.20,150.67 L329.50,151.36 L329.80,150.86 L330.10,150.34 L330.40,151.09 L330.70,150.66 L331.00,151.46 L331.30,148.95 L331.60,151.77 L331.90,150.15 L332.20,151.92 L332.50,151.46 L332.80,152.03 L333.10,152.08 L333.40,151.40 L333.70,149.92 L334.00,152.13 L334.30,152.05 L334.60,151.96 L334.90,151.65 L335.20,152.31 L335.50,152.37 L335.80,150.72 L336.10,152.06 L336.40,152.54 L336.70,151.13 L337.00,150.07 L337.30,152.59 L337.60,152.96 L337.90,152.89 L338.20,151.03 L338.50,153.10 L338.80,153.15 L339.10,151.80 L339.40,153.30 L339.70,151.65 L340.00,153.37 L340.30,153.26 L340.60,152.87 L340.90,153.58 L341.20,152.35 L341.50,153.41 L341.80,152.50 L342.10,152.59 L342.40,153.88 L342.70,152.47 L343.00,152.55 L343.30,153.99 L343.60,153.50 L343.90,154.13 L344.20,153.76 L344.50,153.17 L344.80,154.16 L345.10,153.95 L345.40,154.45 L345.70,152.97 L346.00,153.91 L346.30,153.26 L346.60,154.68 L346.90,153.73 L347.20,154.80 L347.50,154.39 L347.80,154.87 L348.10,153.36 L348.40,155.03 L348.70,154.79 L349.00,154.86 L349.30,155.03 L349.60,155.26 L349.90,154.62 L350.20,153.53 L350.50,155.30 L350.80,154.01 L351.10,155.44 L351.40,155.54 L351.70,155.42 L352.00,153.97 L352.30,154.81 L352.60,155.28 L352.90,155.90 L353.20,155.73 L353.50,156.01 L353.80,156.07 L354.10,155.99 L354.40,156.14 L354.70,156.24 L355.00,156.00 L355.30,155.41 L355.60,154.94 L355.90,154.99" stroke="#000" stroke-width="0.9" fill="none" stroke-linejoin="round"/>
<path d="M273.05,145.02V138.91 M295.96,148.61V140.70 M261.49,140.88V129.73 M286.73,147.65V137.76 M303.00,149.00V143.88 M284.99,147.43V137.69 M298.39,148.74V135.96 M261.30,140.79V130.34 M287.17,147.71V139.24 M255.08,140.86V135.37 M270.09,144.18V138.66 M291.48,148.21V138.45 M296.42,148.63V134.20 M267.85,143.54V130.04 M291.56,148.22V136.95 M262.21,141.18V136.13 M287.33,147.72V142.56 M282.35,146.99V141.38 M265.42,142.54V131.98 M298.69,148.76V136.31 M279.65,146.53V136.29" stroke="#000" stroke-width="1.0" fill="none"/>
<path d="M253.00,160.07 L253.40,159.19 L253.80,159.81 L254.20,158.67 L254.60,159.64 L255.00,158.94 L255.40,159.62 L255.80,158.68 L256.20,159.39 L256.60,158.59 L257.00,158.49 L257.40,158.36 L257.80,158.71 L258.20,158.08 L258.60,157.85 L259.00,158.90 L259.40,158.31 L259.80,157.66 L260.20,157.87 L260.60,158.17 L261.00,158.28 L261.40,157.36 L261.80,158.41 L262.20,157.46 L262.60,157.27 L263.00,158.09 L263.40,157.79 L263.80,157.74 L264.20,157.36 L264.60,157.51 L265.00,156.75 L265.40,156.64 L265.80,157.35 L266.20,156.52 L266.60,157.52 L267.00,157.41 L267.40,156.59 L267.80,156.34 L268.20,156.24 L268.60,155.93 L269.00,156.03 L269.40,156.72 L269.80,156.02 L270.20,155.70 L270.60,156.70 L271.00,156.10 L271.40,156.47 L271.80,156.40 L272.20,155.89 L272.60,155.56 L273.00,155.09 L273.40,156.10 L273.80,155.54 L274.20,154.82 L274.60,155.04 L275.00,155.26 L275.40,155.56 L275.80,154.98 L276.20,155.38 L276.60,154.80 L277.00,154.72 L277.40,154.97 L277.80,154.37 L278.20,154.80 L278.60,154.64 L279.00,154.08 L279.40,154.76 L279.80,154.77 L280.20,154.18 L280.60,154.28 L281.00,153.63 L281.40,154.37 L281.80,154.13 L282.20,154.46 L282.60,153.87 L283.00,153.97 L283.40,153.71 L283.80,153.22 L284.20,154.09 L284.60,152.77 L285.00,153.05 L285.40,152.85 L285.80,152.91 L286.20,152.57 L286.60,152.50 L287.00,152.23 L287.40,152.17 L287.80,151.77 L288.20,151.50 L288.60,151.15 L289.00,150.12 L289.40,150.26 L289.80,150.46 L290.20,151.27 L290.60,150.95 L291.00,150.58 L291.40,150.38 L291.80,150.73 L292.20,150.45 L292.60,150.10 L293.00,150.92 L293.40,150.77 L293.80,150.28 L294.20,150.85 L294.60,150.32 L295.00,150.74 L295.40,151.23 L295.80,150.65 L296.20,151.16 L296.60,150.23 L297.00,150.14 L297.40,150.55 L297.80,150.07 L298.20,150.96 L298.60,150.65 L299.00,151.00 L299.40,151.16 L299.80,150.15 L300.20,151.15 L300.60,150.00 L301.00,150.49 L301.40,150.30 L301.80,151.14 L302.20,150.03 L302.60,150.17 L303.00,151.07 L303.40,151.04 L303.80,151.17 L304.20,150.77 L304.60,151.39 L305.00,150.53 L305.40,151.00 L305.80,150.80 L306.20,151.46 L306.60,151.02 L307.00,151.35 L307.40,151.17 L307.80,151.56 L308.20,150.88 L308.60,151.14 L309.00,151.23 L309.40,151.94 L309.80,152.21 L310.20,152.34 L310.60,152.43 L311.00,151.42 L311.40,152.38 L311.80,151.68 L312.20,152.58 L312.60,152.15 L313.00,152.70 L313.40,152.70 L313.80,152.19 L314.20,152.44 L314.60,152.08 L315.00,153.07 L315.40,153.09 L315.80,153.43 L316.20,153.31 L316.60,152.38 L317.00,152.99 L317.40,153.18 L317.80,153.42 L318.20,152.95 L318.60,153.11 L319.00,153.87 L319.40,154.08 L319.80,153.99 L320.20,153.22 L320.60,153.40 L321.00,154.13 L321.40,154.19 L321.80,154.17 L322.20,153.75 L322.60,153.73 L323.00,154.47 L323.40,154.42 L323.80,154.61 L324.20,153.76 L324.60,154.34 L325.00,153.90 L325.40,154.88 L325.80,154.44 L326.20,154.60 L326.60,154.19 L327.00,155.00 L327.40,155.25 L327.80,154.55 L328.20,154.45 L328.60,155.09 L329.00,155.39 L329.40,155.78 L329.80,155.39 L330.20,154.83 L330.60,155.64 L331.00,155.60 L331.40,155.52 L331.80,156.01 L332.20,156.25 L332.60,155.79 L333.00,155.28 L333.40,155.48 L333.80,156.29 L334.20,155.74 L334.60,155.75 L335.00,156.14 L335.40,156.50 L335.80,156.79 L336.20,156.20 L336.60,156.30 L337.00,156.98 L337.40,157.15 L337.80,157.26 L338.20,156.40 L338.60,156.40 L339.00,156.95 L339.40,156.90 L339.80,156.84 L340.20,157.63 L340.60,157.23 L341.00,157.40 L341.40,156.92 L341.80,157.91 L342.20,157.09 L342.60,158.08 L343.00,157.55 L343.40,157.25 L343.80,158.38 L344.20,157.93 L344.60,158.62 L345.00,158.04 L345.40,158.14 L345.80,157.60 L346.20,158.28 L346.60,157.81 L347.00,158.11 L347.40,158.04 L347.80,158.75 L348.20,159.15 L348.60,158.52 L349.00,159.27 L349.40,158.68 L349.80,159.33 L350.20,158.85 L350.60,158.71 L351.00,158.53 L351.40,159.59 L351.80,159.70 L352.20,159.45 L352.60,158.80 L353.00,159.81 L353.40,159.59 L353.80,159.79 L354.20,160.28 L354.60,159.73 L355.00,160.10 L355.40,159.89 L355.80,159.54" stroke="#000" stroke-width="0.8" fill="none" stroke-linejoin="round"/>
<path d="M265.50,157.41V129.50 M257.50,158.93V133.00 M281.50,154.27V135.00 M298.50,150.74V137.50 M282.50,154.07V132.50" stroke="#000" stroke-width="1.2" fill="none"/>
<path d="M218.8,164.3H253" stroke="#000" stroke-width="1.4"/>
<path d="M252.8,51.3V165" stroke="#e5007e" stroke-width="1.9" stroke-dasharray="1.9 1.1" fill="none"/>
<path d="M356.2,51.3V165" stroke="#e5007e" stroke-width="1.9" stroke-dasharray="1.9 1.1" fill="none"/>
<path d="M218.50,270.79 L218.90,293.93 L219.30,278.01 L219.70,291.86 L220.10,271.07 L220.50,293.89 L220.90,274.65 L221.30,280.26 L221.70,275.68 L222.10,271.87 L222.50,290.58 L222.90,288.71 L223.30,280.32 L223.70,289.94 L224.10,290.31 L224.50,290.96 L224.90,277.24 L225.30,277.01 L225.70,279.11 L226.10,291.19 L226.50,276.38 L226.90,285.95 L227.30,291.16 L227.70,287.24 L228.10,288.00 L228.50,293.33 L228.90,285.41 L229.30,289.28 L229.70,285.54 L230.10,278.22 L230.50,284.32 L230.90,288.79 L231.30,280.27 L231.70,277.72 L232.10,287.61 L232.50,279.23 L232.90,293.91 L233.30,292.80 L233.70,292.46 L234.10,280.25 L234.50,284.92 L234.90,284.58 L235.30,291.20 L235.70,288.40 L236.10,282.24 L236.50,293.32 L236.90,293.19 L237.30,293.75 L237.70,289.23 L238.10,284.00 L238.50,288.28 L238.90,290.32 L239.30,289.17 L239.70,292.76 L240.10,283.42 L240.50,291.12 L240.90,292.34 L241.30,291.67 L241.70,285.92 L242.10,291.71 L242.50,285.31 L242.90,291.66 L243.30,290.75 L243.70,293.69 L244.10,286.12 L244.50,287.53 L244.90,290.79 L245.30,293.50 L245.70,290.82 L246.10,291.83 L246.50,288.02 L246.90,287.41 L247.30,289.24 L247.70,292.66 L248.10,293.90 L248.50,288.55 L248.90,288.37 L249.30,293.47 L249.70,291.73 L250.10,291.94 L250.50,289.06 L250.90,293.92 L251.30,293.88 L251.70,290.49 L252.10,292.01 L252.50,292.57 L252.90,291.36" stroke="#000" stroke-width="1.0" fill="none" stroke-linejoin="round"/>
<path d="M253.00,291.40 L356.00,291.40 L356.00,294.00 L253.00,294.00Z" fill="#000" stroke="none"/>
<path d="M253.00,291.43 L253.35,288.56 L253.70,289.15 L254.05,291.82 L254.40,288.96 L254.75,290.38 L255.10,291.99 L255.45,288.37 L255.80,291.74 L256.15,291.63 L256.50,291.28 L256.85,290.61 L257.20,291.94 L257.55,290.11 L257.90,289.23 L258.25,290.95 L258.60,289.48 L258.95,290.44 L259.30,289.28 L259.65,291.87 L260.00,291.49 L260.35,291.12 L260.70,291.96 L261.05,288.21 L261.40,290.38 L261.75,291.96 L262.10,290.64 L262.45,291.31 L262.80,291.86 L263.15,291.90 L263.50,291.15 L263.85,291.98 L264.20,290.73 L264.55,290.94 L264.90,291.94 L265.25,288.94 L265.60,291.99 L265.95,291.88 L266.30,289.33 L266.65,291.80 L267.00,291.28 L267.35,290.75 L267.70,291.24 L268.05,291.02 L268.40,290.98 L268.75,291.07 L269.10,291.99 L269.45,289.33 L269.80,291.68 L270.15,291.99 L270.50,291.33 L270.85,289.35 L271.20,290.42 L271.55,291.16 L271.90,291.09 L272.25,291.81 L272.60,290.47 L272.95,291.51 L273.30,291.98 L273.65,291.93 L274.00,291.97 L274.35,290.13 L274.70,288.89 L275.05,289.72 L275.40,291.81 L275.75,291.91 L276.10,288.39 L276.45,291.44 L276.80,291.89 L277.15,290.69 L277.50,290.47 L277.85,290.83 L278.20,291.18 L278.55,291.63 L278.90,291.02 L279.25,291.16 L279.60,290.14 L279.95,291.20 L280.30,291.50 L280.65,288.11 L281.00,291.95 L281.35,289.72 L281.70,291.30 L282.05,289.41 L282.40,289.99 L282.75,290.72 L283.10,290.51 L283.45,291.79 L283.80,292.00 L284.15,289.77 L284.50,291.73 L284.85,291.95 L285.20,289.37 L285.55,290.60 L285.90,292.00 L286.25,290.92 L286.60,291.89 L286.95,289.01 L287.30,291.71 L287.65,288.47 L288.00,290.50 L288.35,291.98 L288.70,291.33 L289.05,288.26 L289.40,290.03 L289.75,291.90 L290.10,291.46 L290.45,291.70 L290.80,291.97 L291.15,290.59 L291.50,290.07 L291.85,291.81 L292.20,290.78 L292.55,289.03 L292.90,288.81 L293.25,291.88 L293.60,291.98 L293.95,288.67 L294.30,291.57 L294.65,291.89 L295.00,289.45 L295.35,291.72 L295.70,289.94 L296.05,290.09 L296.40,291.66 L296.75,291.15 L297.10,291.66 L297.45,289.40 L297.80,291.68 L298.15,291.70 L298.50,289.06 L298.85,291.69 L299.20,291.24 L299.55,290.94 L299.90,292.00 L300.25,291.67 L300.60,289.79 L300.95,288.15 L301.30,291.53 L301.65,291.09 L302.00,291.99 L302.35,291.05 L302.70,291.48 L303.05,290.99 L303.40,291.64 L303.75,291.61 L304.10,288.66 L304.45,289.58 L304.80,291.48 L305.15,291.98 L305.50,291.99 L305.85,291.96 L306.20,291.93 L306.55,290.64 L306.90,290.91 L307.25,291.93 L307.60,288.92 L307.95,290.20 L308.30,289.99 L308.65,288.79 L309.00,291.61 L309.35,288.74 L309.70,288.19 L310.05,288.70 L310.40,291.99 L310.75,289.10 L311.10,288.12 L311.45,291.95 L311.80,289.00 L312.15,289.34 L312.50,292.00 L312.85,290.00 L313.20,289.69 L313.55,289.75 L313.90,291.99 L314.25,288.24 L314.60,291.98 L314.95,291.97 L315.30,288.41 L315.65,291.07 L316.00,291.87 L316.35,291.38 L316.70,290.44 L317.05,291.71 L317.40,288.65 L317.75,290.17 L318.10,291.40 L318.45,291.46 L318.80,291.95 L319.15,288.11 L319.50,291.62 L319.85,288.50 L320.20,290.83 L320.55,290.84 L320.90,291.88 L321.25,290.99 L321.60,291.96 L321.95,291.20 L322.30,290.49 L322.65,288.57 L323.00,291.80 L323.35,291.87 L323.70,289.52 L324.05,291.93 L324.40,291.85 L324.75,291.08 L325.10,291.27 L325.45,288.06 L325.80,291.98 L326.15,288.97 L326.50,291.14 L326.85,291.92 L327.20,291.77 L327.55,288.70 L327.90,291.87 L328.25,291.28 L328.60,291.99 L328.95,291.05 L329.30,290.04 L329.65,289.83 L330.00,291.54 L330.35,291.27 L330.70,289.27 L331.05,288.92 L331.40,291.21 L331.75,291.99 L332.10,288.47 L332.45,291.52 L332.80,291.09 L333.15,291.99 L333.50,292.00 L333.85,291.95 L334.20,290.82 L334.55,291.73 L334.90,289.48 L335.25,291.91 L335.60,290.28 L335.95,292.00 L336.30,291.48 L336.65,288.45 L337.00,291.74 L337.35,291.61 L337.70,292.00 L338.05,288.96 L338.40,291.03 L338.75,291.75 L339.10,290.74 L339.45,291.71 L339.80,288.85 L340.15,291.28 L340.50,291.98 L340.85,291.81 L341.20,291.99 L341.55,289.67 L341.90,291.96 L342.25,291.06 L342.60,290.59 L342.95,291.96 L343.30,290.35 L343.65,290.42 L344.00,288.53 L344.35,288.49 L344.70,288.17 L345.05,290.89 L345.40,291.05 L345.75,291.26 L346.10,291.93 L346.45,290.58 L346.80,288.01 L347.15,290.99 L347.50,289.09 L347.85,291.72 L348.20,291.44 L348.55,291.28 L348.90,288.23 L349.25,291.45 L349.60,289.69 L349.95,291.91 L350.30,289.70 L350.65,291.10 L351.00,288.07 L351.35,292.00 L351.70,291.73 L352.05,288.85 L352.40,291.22 L352.75,291.69 L353.10,288.97 L353.45,291.27 L353.80,288.91 L354.15,290.81 L354.50,291.99 L354.85,291.96 L355.20,288.99 L355.55,288.67 L355.90,291.89" stroke="#000" stroke-width="0.9" fill="none" stroke-linejoin="round"/>
<path d="M218.50,270.00 L223.00,272.00 L227.00,276.00 L236.00,284.50 L245.00,289.00 L253.00,291.00 L253.00,294.00 L218.50,294.00Z" fill="#000" stroke="none"/>
<path d="M289.50,272.77 L289.80,287.75 L290.10,288.05 L290.40,279.76 L290.70,291.87 L291.00,279.17 L291.30,280.84 L291.60,292.41 L291.90,284.31 L292.20,287.25 L292.50,286.43 L292.80,284.04 L293.10,284.53 L293.40,289.77 L293.70,286.85 L294.00,287.68 L294.30,286.87 L294.60,292.83 L294.90,287.78 L295.20,291.83 L295.50,292.35 L295.80,290.16 L296.10,289.18 L296.40,288.83 L296.70,291.47" stroke="#000" stroke-width="0.9" fill="none" stroke-linejoin="round"/>
<path d="M302.60,282.38 L302.90,281.93 L303.20,278.83 L303.50,290.33 L303.80,292.19 L304.10,283.87 L304.40,289.69 L304.70,289.68 L305.00,286.44 L305.30,291.66 L305.60,286.95 L305.90,290.00 L306.20,292.60 L306.50,288.19 L306.80,290.19 L307.10,292.64 L307.40,289.35 L307.70,289.80 L308.00,290.08 L308.30,290.52 L308.60,289.40 L308.90,292.96" stroke="#000" stroke-width="0.9" fill="none" stroke-linejoin="round"/>
<path d="M219.50,294.00V183.50 M220.50,294.00V240.30 M222.50,294.00V235.90 M224.50,294.00V248.00 M231.50,294.00V276.40 M233.50,294.00V282.00 M236.50,294.00V283.00 M253.50,294.00V278.20 M244.50,294.00V287.00 M257.50,294.00V275.30 M260.50,294.00V276.25" stroke="#000" stroke-width="1.3" fill="none"/>
<path d="M285.00,293.37 L285.07,293.35 L285.15,293.32 L285.23,293.30 L285.30,293.27 L285.38,293.25 L285.45,293.22 L285.52,293.18 L285.60,293.15 L285.68,293.11 L285.75,293.08 L285.82,293.04 L285.90,292.99 L285.98,292.95 L286.05,292.90 L286.12,292.85 L286.20,292.79 L286.27,292.73 L286.35,292.66 L286.43,292.59 L286.50,292.52 L286.57,292.44 L286.65,292.35 L286.73,292.25 L286.80,292.15 L286.88,292.03 L286.95,291.91 L287.02,291.77 L287.10,291.62 L287.18,291.45 L287.25,291.27 L287.32,291.06 L287.40,290.84 L287.48,290.58 L287.55,290.30 L287.62,289.98 L287.70,289.62 L287.77,289.21 L287.85,288.75 L287.93,288.22 L288.00,287.61 L288.07,286.91 L288.15,286.10 L288.23,285.15 L288.30,284.04 L288.38,282.74 L288.45,281.21 L288.52,279.40 L288.60,277.26 L288.68,274.73 L288.75,271.71 L288.82,268.10 L288.90,263.75 L288.98,258.39 L289.05,251.86 L289.12,245.04 L289.20,241.70 L289.27,242.75 L289.35,245.43 L289.43,248.77 L289.50,251.99 L289.57,254.78 L289.65,257.09 L289.73,258.97 L289.80,260.52 L289.88,261.83 L289.95,262.95 L290.02,263.94 L290.10,264.84 L290.18,265.66 L290.25,266.43 L290.32,267.16 L290.40,267.85 L290.48,268.53 L290.55,269.18 L290.62,269.81 L290.70,270.43 L290.77,271.04 L290.85,271.64 L290.93,272.22 L291.00,272.79 L291.07,273.35 L291.15,273.90 L291.23,274.43 L291.30,274.95 L291.38,275.47 L291.45,275.97 L291.52,276.45 L291.60,276.93 L291.68,277.39 L291.75,277.84 L291.82,278.28 L291.90,278.71 L291.98,279.12 L292.05,279.52 L292.12,279.91 L292.20,280.29 L292.27,280.66 L292.35,281.02 L292.43,281.36 L292.50,281.70 L292.57,282.02 L292.65,282.34 L292.73,282.64 L292.80,282.94 L292.88,283.22 L292.95,283.50 L293.02,283.77 L293.10,284.03 L293.18,284.28 L293.25,284.52 L293.32,284.76 L293.40,284.99 L293.48,285.21 L293.55,285.42 L293.62,285.63 L293.70,285.83 L293.77,286.02 L293.85,286.21 L293.93,286.40 L294.00,286.57 L294.07,286.74 L294.15,286.91 L294.23,287.07 L294.30,287.23 L294.38,287.38 L294.45,287.53 L294.52,287.67 L294.60,287.81 L294.68,287.94 L294.75,288.07 L294.82,288.20 L294.90,288.32 L294.98,288.44 L295.05,288.55 L295.12,288.67 L295.20,288.78 L295.27,288.88 L295.35,288.99 L295.43,289.09 L295.50,289.18 L295.57,289.28 L295.65,289.37 L295.73,289.46 L295.80,289.55 L295.88,289.63 L295.95,289.71 L296.02,289.79 L296.10,289.87 L296.18,289.95 L296.25,290.02 L296.32,290.10 L296.40,290.17 L296.48,290.23 L296.55,290.30 L296.62,290.37 L296.70,290.43 L296.77,290.49 L296.85,290.55 L296.93,290.61 L297.00,290.67 L297.07,290.73 L297.15,290.78 L297.23,290.83 L297.30,290.89 L297.38,290.94 L297.45,290.99 L297.52,291.04 L297.60,291.08 L297.68,291.13 L297.75,291.17 L297.82,291.22 L297.90,291.26 L297.98,291.30 L298.05,291.35 L298.12,291.39 L298.20,291.43 L298.27,291.46 L298.35,291.50 L298.43,291.54 L298.50,291.58 L298.57,291.61 L298.65,291.65 L298.73,291.68 L298.80,291.71 L298.88,291.75 L298.95,291.78 L299.02,291.81 L299.10,291.84 L299.18,291.87 L299.25,291.90 L299.32,291.93 L299.40,291.96 L299.48,291.98 L299.55,292.01 L299.62,292.04 L299.70,292.06 L299.77,292.09 L299.85,292.11 L299.93,292.14 L300.00,292.16Z" fill="#000" stroke="#000" stroke-width="0.7"/>
<path d="M299.00,293.44 L299.06,293.42 L299.13,293.40 L299.19,293.38 L299.26,293.35 L299.32,293.32 L299.39,293.30 L299.45,293.27 L299.52,293.23 L299.58,293.20 L299.65,293.16 L299.71,293.12 L299.78,293.08 L299.85,293.04 L299.91,292.99 L299.98,292.94 L300.04,292.88 L300.11,292.82 L300.17,292.75 L300.24,292.68 L300.30,292.61 L300.37,292.52 L300.43,292.43 L300.50,292.33 L300.56,292.22 L300.62,292.10 L300.69,291.97 L300.75,291.82 L300.82,291.66 L300.88,291.48 L300.95,291.28 L301.01,291.06 L301.08,290.81 L301.14,290.53 L301.21,290.21 L301.27,289.85 L301.34,289.44 L301.40,288.98 L301.47,288.44 L301.54,287.83 L301.60,287.13 L301.67,286.32 L301.73,285.38 L301.80,284.30 L301.86,283.04 L301.93,281.58 L301.99,279.88 L302.06,277.89 L302.12,275.53 L302.19,272.70 L302.25,269.35 L302.31,265.84 L302.38,263.56 L302.44,263.63 L302.51,264.67 L302.57,266.23 L302.64,267.95 L302.70,269.57 L302.77,271.00 L302.83,272.22 L302.90,273.24 L302.96,274.11 L303.03,274.86 L303.10,275.51 L303.16,276.09 L303.23,276.61 L303.29,277.09 L303.36,277.54 L303.42,277.96 L303.49,278.37 L303.55,278.76 L303.62,279.13 L303.68,279.50 L303.75,279.85 L303.81,280.20 L303.88,280.53 L303.94,280.86 L304.00,281.19 L304.07,281.51 L304.13,281.82 L304.20,282.12 L304.26,282.42 L304.33,282.71 L304.39,283.00 L304.46,283.27 L304.52,283.55 L304.59,283.81 L304.65,284.07 L304.72,284.32 L304.79,284.57 L304.85,284.81 L304.92,285.04 L304.98,285.27 L305.05,285.49 L305.11,285.71 L305.18,285.92 L305.24,286.12 L305.31,286.32 L305.37,286.51 L305.44,286.70 L305.50,286.88 L305.56,287.05 L305.63,287.22 L305.69,287.39 L305.76,287.55 L305.82,287.70 L305.89,287.86 L305.95,288.00 L306.02,288.15 L306.08,288.28 L306.15,288.42 L306.21,288.55 L306.28,288.67 L306.35,288.80 L306.41,288.91 L306.48,289.03 L306.54,289.14 L306.61,289.25 L306.67,289.36 L306.74,289.46 L306.80,289.56 L306.87,289.65 L306.93,289.75 L307.00,289.84 L307.06,289.93 L307.12,290.01 L307.19,290.10 L307.25,290.18 L307.32,290.26 L307.38,290.33 L307.45,290.41 L307.51,290.48 L307.58,290.55 L307.64,290.62 L307.71,290.69 L307.77,290.75 L307.84,290.81 L307.90,290.88 L307.97,290.93 L308.04,290.99 L308.10,291.05 L308.17,291.10 L308.23,291.16 L308.30,291.21 L308.36,291.26 L308.43,291.31 L308.49,291.36 L308.56,291.41 L308.62,291.45 L308.69,291.50 L308.75,291.54 L308.81,291.58 L308.88,291.63 L308.94,291.67 L309.01,291.71 L309.07,291.75 L309.14,291.78 L309.20,291.82 L309.27,291.86 L309.33,291.89 L309.40,291.93 L309.46,291.96 L309.53,291.99 L309.60,292.02 L309.66,292.05 L309.73,292.09 L309.79,292.12 L309.86,292.14 L309.92,292.17 L309.99,292.20 L310.05,292.23 L310.12,292.26 L310.18,292.28 L310.25,292.31 L310.31,292.33 L310.38,292.36 L310.44,292.38 L310.50,292.40 L310.57,292.43 L310.63,292.45 L310.70,292.47 L310.76,292.49 L310.83,292.51 L310.89,292.54 L310.96,292.56 L311.02,292.58 L311.09,292.59 L311.15,292.61 L311.22,292.63 L311.29,292.65 L311.35,292.67 L311.42,292.69 L311.48,292.70 L311.55,292.72 L311.61,292.74 L311.68,292.75 L311.74,292.77 L311.81,292.79 L311.87,292.80 L311.94,292.82 L312.00,292.83Z" fill="#000" stroke="#000" stroke-width="0.7"/>
<path d="M289.20,294.00V241.70 M302.40,294.00V263.40" stroke="#000" stroke-width="1.2" fill="none"/>
<path d="M218.5,294.0H356" stroke="#000" stroke-width="1.4"/>
<path d="M252.9,181V294.5" stroke="#e5007e" stroke-width="1.9" stroke-dasharray="1.9 1.1" fill="none"/>
<path d="M355.9,181V294.5" stroke="#e5007e" stroke-width="1.9" stroke-dasharray="1.9 1.1" fill="none"/>
<path d="M414.20,140.00 L415.30,141.00 L420.60,144.50 L424.00,146.50 L427.70,149.00 L431.00,151.50 L433.00,152.50 L433.50,151.70 L434.00,151.30 L434.50,150.90 L435.00,150.50 L435.50,150.23 L436.00,149.96 L436.50,149.69 L437.00,149.42 L437.50,149.15 L438.00,148.88 L438.50,148.61 L439.00,148.34 L439.50,148.07 L440.00,147.80 L440.50,147.66 L441.00,147.52 L441.50,147.38 L442.00,147.24 L442.50,147.11 L443.00,146.97 L443.50,146.83 L444.00,146.82 L444.50,146.85 L445.00,146.88 L445.50,146.91 L446.00,146.94 L446.50,146.97 L447.00,147.00 L447.50,147.14 L448.00,147.28 L448.50,147.42 L449.00,147.56 L449.50,147.70 L450.00,147.84 L450.50,147.98 L451.00,148.12 L451.50,148.26 L452.00,148.40 L452.50,148.62 L453.00,148.85 L453.50,149.08 L454.00,149.30 L454.50,149.53 L455.00,149.75 L455.50,149.97 L456.00,150.20 L456.50,150.43 L457.00,150.65 L457.50,150.88 L458.00,151.10 L458.50,151.32 L459.00,151.55 L459.50,151.78 L460.00,152.00 L460.50,152.25 L461.00,152.50 L461.50,152.75 L462.00,153.00 L462.50,153.25 L463.00,153.50 L463.50,153.75 L464.00,154.00 L464.50,154.25 L465.00,154.50 L465.50,154.75 L466.00,155.00 L466.50,155.25 L467.00,155.50 L467.50,155.75 L468.00,156.00 L468.50,156.25 L469.00,156.50 L469.50,156.75 L470.00,157.00 L470.50,157.14 L471.00,157.28 L471.50,157.43 L472.00,157.57 L472.50,157.71 L473.00,157.85 L473.50,157.99 L474.00,158.13 L474.50,158.28 L475.00,158.42 L475.50,158.56 L476.00,158.70 L476.50,158.84 L477.00,158.98 L477.50,159.12 L478.00,159.27 L478.50,159.41 L479.00,159.55 L479.50,159.69 L480.00,159.83 L480.50,159.97 L481.00,160.12 L481.50,160.26 L482.00,160.40 L482.50,160.47 L483.00,160.55 L483.50,160.62 L484.00,160.70 L484.50,160.78 L485.00,160.85 L485.50,160.93 L486.00,161.00 L486.50,161.07 L487.00,161.15 L487.50,161.22 L488.00,161.30 L488.50,161.38 L489.00,161.45 L489.50,161.53 L490.00,161.60 L490.50,161.64 L491.00,161.68 L491.50,161.72 L492.00,161.76 L492.50,161.80 L493.00,161.84 L493.50,161.88 L494.00,161.92 L494.50,161.96 L495.00,162.00 L495.50,162.04 L496.00,162.08 L496.50,162.12 L497.00,162.16 L497.50,162.20 L498.00,162.24 L498.50,162.28 L499.00,162.32 L499.50,162.36 L500.00,162.40 L500.50,162.42 L501.00,162.44 L501.50,162.45 L502.00,162.47 L502.50,162.49 L503.00,162.50 L503.50,162.52 L504.00,162.54 L504.50,162.56 L505.00,162.57 L505.50,162.59 L506.00,162.61 L506.50,162.63 L507.00,162.65 L507.50,162.66 L508.00,162.68 L508.50,162.70 L509.00,162.72 L509.50,162.73 L510.00,162.75 L510.50,162.77 L511.00,162.78 L511.50,162.80 L512.00,162.82 L512.50,162.84 L513.00,162.85 L513.50,162.87 L514.00,162.89 L514.50,162.91 L515.00,162.93 L515.50,162.94 L516.00,162.96 L516.50,162.98 L517.00,163.00 L517.50,163.01 L518.00,163.03 L518.50,163.05 L519.00,163.06 L519.50,163.08 L520.00,163.10 L520.50,163.10 L521.00,163.11 L521.50,163.11 L522.00,163.12 L522.50,163.12 L523.00,163.13 L523.50,163.13 L524.00,163.14 L524.50,163.14 L525.00,163.15 L525.50,163.15 L526.00,163.16 L526.50,163.16 L527.00,163.17 L527.50,163.17 L528.00,163.18 L528.50,163.18 L529.00,163.18 L529.50,163.19 L530.00,163.19 L530.50,163.20 L531.00,163.20 L531.50,163.21 L532.00,163.21 L532.50,163.22 L533.00,163.22 L533.50,163.23 L534.00,163.23 L534.50,163.24 L535.00,163.24 L535.50,163.25 L536.00,163.25 L536.50,163.25 L537.00,163.26 L537.50,163.26 L538.00,163.27 L538.50,163.27 L539.00,163.28 L539.50,163.28 L540.00,163.29 L540.50,163.29 L541.00,163.30 L541.50,163.30 L542.00,163.31 L542.50,163.31 L543.00,163.32 L543.50,163.32 L544.00,163.32 L544.50,163.33 L545.00,163.33 L545.50,163.34 L546.00,163.34 L546.50,163.35 L547.00,163.35 L547.50,163.36 L548.00,163.36 L548.50,163.37 L549.00,163.37 L549.50,163.38 L550.00,163.38 L550.50,163.39 L551.00,163.39 L551.50,163.40 L552.00,163.40 L552.00,164.30 L551.50,164.30 L551.00,164.29 L550.50,164.29 L550.00,164.28 L549.50,164.28 L549.00,164.28 L548.50,164.27 L548.00,164.27 L547.50,164.27 L547.00,164.26 L546.50,164.26 L546.00,164.25 L545.50,164.25 L545.00,164.25 L544.50,164.24 L544.00,164.24 L543.50,164.23 L543.00,164.23 L542.50,164.23 L542.00,164.22 L541.50,164.22 L541.00,164.22 L540.50,164.21 L540.00,164.21 L539.50,164.20 L539.00,164.20 L538.50,164.20 L538.00,164.19 L537.50,164.19 L537.00,164.18 L536.50,164.18 L536.00,164.18 L535.50,164.17 L535.00,164.17 L534.50,164.17 L534.00,164.16 L533.50,164.16 L533.00,164.15 L532.50,164.15 L532.00,164.15 L531.50,164.14 L531.00,164.14 L530.50,164.13 L530.00,164.13 L529.50,164.13 L529.00,164.12 L528.50,164.12 L528.00,164.12 L527.50,164.11 L527.00,164.11 L526.50,164.10 L526.00,164.10 L525.50,164.10 L525.00,164.09 L524.50,164.09 L524.00,164.08 L523.50,164.08 L523.00,164.08 L522.50,164.07 L522.00,164.07 L521.50,164.07 L521.00,164.06 L520.50,164.06 L520.00,164.05 L519.50,164.05 L519.00,164.05 L518.50,164.04 L518.00,164.04 L517.50,164.03 L517.00,164.03 L516.50,164.03 L516.00,164.02 L515.50,164.02 L515.00,164.02 L514.50,164.01 L514.00,164.01 L513.50,164.00 L513.00,164.00 L512.50,164.00 L512.00,163.99 L511.50,163.99 L511.00,163.98 L510.50,163.98 L510.00,163.98 L509.50,163.97 L509.00,163.97 L508.50,163.97 L508.00,163.96 L507.50,163.96 L507.00,163.95 L506.50,163.95 L506.00,163.95 L505.50,163.94 L505.00,163.94 L504.50,163.93 L504.00,163.93 L503.50,163.93 L503.00,163.92 L502.50,163.92 L502.00,163.92 L501.50,163.91 L501.00,163.91 L500.50,163.90 L500.00,163.90 L499.50,163.88 L499.00,163.85 L498.50,163.83 L498.00,163.80 L497.50,163.78 L497.00,163.75 L496.50,163.72 L496.00,163.70 L495.50,163.68 L495.00,163.65 L494.50,163.62 L494.00,163.60 L493.50,163.58 L493.00,163.55 L492.50,163.53 L492.00,163.50 L491.50,163.47 L491.00,163.45 L490.50,163.43 L490.00,163.40 L489.50,163.34 L489.00,163.29 L488.50,163.23 L488.00,163.18 L487.50,163.12 L487.00,163.06 L486.50,163.01 L486.00,162.95 L485.50,162.89 L485.00,162.84 L484.50,162.78 L484.00,162.72 L483.50,162.67 L483.00,162.61 L482.50,162.56 L482.00,162.50 L481.50,162.38 L481.00,162.26 L480.50,162.14 L480.00,162.02 L479.50,161.90 L479.00,161.78 L478.50,161.65 L478.00,161.53 L477.50,161.41 L477.00,161.29 L476.50,161.17 L476.00,161.05 L475.50,160.93 L475.00,160.81 L474.50,160.69 L474.00,160.57 L473.50,160.45 L473.00,160.32 L472.50,160.20 L472.00,160.08 L471.50,159.96 L471.00,159.84 L470.50,159.72 L470.00,159.60 L469.50,159.40 L469.00,159.20 L468.50,159.00 L468.00,158.80 L467.50,158.60 L467.00,158.40 L466.50,158.20 L466.00,158.00 L465.50,157.80 L465.00,157.60 L464.50,157.40 L464.00,157.20 L463.50,157.00 L463.00,156.80 L462.50,156.60 L462.00,156.40 L461.50,156.20 L461.00,156.00 L460.50,155.80 L460.00,155.60 L459.50,155.38 L459.00,155.15 L458.50,154.92 L458.00,154.70 L457.50,154.47 L457.00,154.25 L456.50,154.03 L456.00,153.80 L455.50,153.57 L455.00,153.35 L454.50,153.12 L454.00,152.90 L453.50,152.68 L453.00,152.45 L452.50,152.22 L452.00,152.00 L451.50,151.85 L451.00,151.70 L450.50,151.55 L450.00,151.40 L449.50,151.25 L449.00,151.10 L448.50,150.95 L448.00,150.80 L447.50,150.65 L447.00,150.50 L446.50,150.50 L446.00,150.50 L445.50,150.50 L445.00,150.50 L444.50,150.50 L444.00,150.50 L443.50,150.54 L443.00,150.75 L442.50,150.96 L442.00,151.17 L441.50,151.38 L441.00,151.58 L440.50,151.79 L440.00,152.00 L439.50,152.35 L439.00,152.70 L438.50,153.05 L438.00,153.40 L437.50,153.75 L437.00,154.10 L436.50,154.45 L436.00,154.80 L435.50,155.15 L435.00,155.50 L434.50,155.95 L434.00,156.40 L433.50,156.85 L433.00,157.30 L432.50,157.75 L432.00,158.20 L431.50,158.65 L431.00,159.10 L430.50,159.55 L430.00,160.00 L429.50,160.77 L429.00,161.53 L428.50,162.30 L428.00,163.07 L427.50,163.83 L427.00,164.60 L427.00,164.30 L414.20,164.30Z" fill="#000" stroke="none"/>
<path d="M414.20,137.85 L414.55,137.17 L414.90,145.27 L415.25,147.94 L415.60,148.86 L415.95,142.30 L416.30,146.09 L416.65,140.22 L417.00,147.61 L417.35,140.34 L417.70,148.76 L418.05,139.86 L418.40,141.97 L418.75,147.84 L419.10,146.24 L419.45,143.65 L419.80,149.97 L420.15,146.46 L420.50,141.22 L420.85,149.97 L421.20,141.68 L421.55,144.65 L421.90,141.01 L422.25,149.99 L422.60,151.25 L422.95,142.79 L423.30,142.89 L423.65,149.48 L424.00,151.74 L424.35,151.59 L424.70,147.22 L425.05,151.37 L425.40,140.31 L425.75,148.48 L426.10,152.21 L426.45,147.73 L426.80,151.55 L427.15,142.05 L427.50,142.89 L427.85,150.44 L428.20,148.78 L428.55,148.07 L428.90,146.19 L429.25,142.37 L429.60,153.76 L429.95,152.76 L430.30,150.44 L430.65,153.39 L431.00,150.93 L431.35,154.33 L431.70,146.36 L432.05,152.17 L432.40,154.66 L432.75,150.79 L433.10,154.27 L433.45,154.87 L433.80,153.33" stroke="#000" stroke-width="0.9" fill="none" stroke-linejoin="round"/>
<path d="M434.00,151.41 L434.35,150.83 L434.70,150.72 L435.05,150.37 L435.40,150.28 L435.75,149.30 L436.10,150.20 L436.45,149.01 L436.80,150.03 L437.15,149.57 L437.50,149.31 L437.85,149.40 L438.20,147.61 L438.55,148.79 L438.90,147.03 L439.25,145.96 L439.60,148.32 L439.95,145.93 L440.30,146.26 L440.65,146.78 L441.00,148.02 L441.35,147.30 L441.70,146.65 L442.05,147.47 L442.40,147.48 L442.75,147.25 L443.10,147.24 L443.45,145.48 L443.80,146.95 L444.15,146.80 L444.50,146.11 L444.85,144.68 L445.20,147.14 L445.55,147.41 L445.90,144.59 L446.25,145.38 L446.60,145.60 L446.95,146.68 L447.30,147.42 L447.65,147.61 L448.00,147.50 L448.35,147.24 L448.70,147.96 L449.05,146.61 L449.40,146.58 L449.75,148.27 L450.10,146.24 L450.45,147.74 L450.80,146.03 L451.15,147.98 L451.50,146.86 L451.85,148.24 L452.20,147.86 L452.55,148.40 L452.90,149.30 L453.25,149.40 L453.60,149.46 L453.95,149.28 L454.30,149.53 L454.65,149.22 L455.00,148.95 L455.35,149.93 L455.70,150.26 L456.05,149.94 L456.40,148.16 L456.75,149.20 L457.10,149.91 L457.45,149.35 L457.80,151.35 L458.15,151.64 L458.50,151.80 L458.85,151.94 L459.20,152.14 L459.55,151.12 L459.90,149.92 L460.25,152.59 L460.60,151.38 L460.95,150.32 L461.30,151.39 L461.65,153.25 L462.00,152.28 L462.35,153.48 L462.70,153.75 L463.05,154.02 L463.40,153.37 L463.75,151.84 L464.10,154.52 L464.45,154.66 L464.80,154.45 L465.15,155.07 L465.50,154.60 L465.85,153.83 L466.20,154.96 L466.55,155.77 L466.90,155.95 L467.25,156.01 L467.60,154.96 L467.95,153.91 L468.30,155.89 L468.65,156.79 L469.00,156.86 L469.35,156.66 L469.70,157.31" stroke="#000" stroke-width="0.8" fill="none" stroke-linejoin="round"/>
<path d="M418.50,164.30V53.50 M417.50,164.30V91.75 M422.50,164.30V119.70 M420.50,164.30V126.80 M424.50,164.30V133.00 M426.50,164.30V137.00 M431.50,164.30V144.50 M433.50,164.30V142.50 M437.50,149.20V133.00 M438.50,148.50V138.30 M442.50,147.05V130.40 M454.50,149.39V144.50" stroke="#000" stroke-width="1.2" fill="none"/>
<path d="M494.00,164.00 L495.20,163.20 L495.60,160.20 L496.10,163.20 L497.80,163.90" stroke="#000" stroke-width="1.1" fill="none" stroke-linejoin="round"/>
<path d="M499.90,164.00 L501.10,156.80 L501.50,153.80 L502.00,156.80 L503.70,163.90" stroke="#000" stroke-width="1.1" fill="none" stroke-linejoin="round"/>
<path d="M506.40,164.00 L507.60,159.80 L508.00,156.80 L508.50,159.80 L510.20,163.90" stroke="#000" stroke-width="1.1" fill="none" stroke-linejoin="round"/>
<path d="M511.70,164.00 L512.90,164.50 L513.30,161.50 L513.80,164.50 L515.50,163.90" stroke="#000" stroke-width="1.1" fill="none" stroke-linejoin="round"/>
<path d="M414,164.3H552" stroke="#000" stroke-width="1.0"/>
<text x="421.2" y="108.2" font-size="14" fill="#e5007e" font-weight="normal" font-style="italic" text-anchor="start" >Monomer</text>
<text x="480.5" y="131.8" font-size="14" fill="#e5007e" font-weight="normal" font-style="italic" text-anchor="start" >Tetramer</text>
<path d="M414.20,293.62 L414.60,293.93 L415.00,292.25 L415.40,293.99 L415.80,292.86 L416.20,293.51 L416.60,293.99 L417.00,292.99 L417.40,294.00 L417.80,293.28 L418.20,293.99 L418.60,293.98 L419.00,293.32 L419.40,291.04 L419.80,293.95 L420.20,293.83 L420.60,292.39 L421.00,290.00 L421.40,292.66 L421.80,293.41 L422.20,289.73 L422.60,293.99 L423.00,290.78 L423.40,293.71 L423.80,293.94 L424.20,293.96 L424.60,293.66 L425.00,291.12 L425.40,293.90 L425.80,292.63 L426.20,292.32 L426.60,293.49 L427.00,292.80 L427.40,293.99 L427.80,293.99 L428.20,293.86 L428.60,292.07 L429.00,293.31 L429.40,293.65 L429.80,292.61 L430.20,293.21 L430.60,293.68 L431.00,291.29 L431.40,291.95 L431.80,293.80 L432.20,292.67 L432.60,292.91 L433.00,290.64 L433.40,291.75 L433.80,293.71 L434.20,289.69 L434.60,293.96 L435.00,293.34 L435.40,291.56 L435.80,293.93 L436.20,293.07 L436.60,294.00 L437.00,292.15 L437.40,291.51 L437.80,292.68 L438.20,290.64 L438.60,293.65 L439.00,291.98 L439.40,292.57 L439.80,292.64 L440.20,293.20 L440.60,290.93 L441.00,290.03 L441.40,293.13 L441.80,292.17 L442.20,293.99 L442.60,291.94 L443.00,292.27 L443.40,289.57 L443.80,291.08 L444.20,293.72 L444.60,293.45 L445.00,292.14 L445.40,294.00 L445.80,293.18 L446.20,293.91 L446.60,293.96 L447.00,293.99 L447.40,291.48 L447.80,293.95 L448.20,293.79 L448.60,293.43 L449.00,290.68 L449.40,293.98 L449.80,293.23 L450.20,292.79 L450.60,290.57 L451.00,291.10 L451.40,290.74 L451.80,293.73 L452.20,293.35 L452.60,293.53 L453.00,290.57 L453.40,289.91 L453.80,293.93 L454.20,293.90 L454.60,293.82 L455.00,293.82 L455.40,293.08 L455.80,292.60 L456.20,293.76 L456.60,294.00 L457.00,293.34 L457.40,293.50 L457.80,292.71 L458.20,289.95 L458.60,292.01 L459.00,292.95 L459.40,292.44 L459.80,292.10 L460.20,293.99 L460.60,290.44 L461.00,291.40 L461.40,290.65 L461.80,291.26 L462.20,293.43 L462.60,293.40 L463.00,293.97 L463.40,292.35 L463.80,293.99 L464.20,293.99 L464.60,293.86 L465.00,293.92 L465.40,293.58 L465.80,293.99 L466.20,294.00 L466.60,293.93 L467.00,293.97 L467.40,293.51 L467.80,294.00 L468.20,290.65 L468.60,292.46 L469.00,293.93 L469.40,293.78 L469.80,293.56 L470.20,293.73 L470.60,293.98 L471.00,292.26 L471.40,291.54 L471.80,293.53 L472.20,293.49 L472.60,293.99 L473.00,293.98 L473.40,293.76 L473.80,293.87 L474.20,292.35 L474.60,293.95 L475.00,294.00 L475.40,291.76 L475.80,293.39 L476.20,293.96 L476.60,293.35 L477.00,294.00 L477.40,293.39 L477.80,291.62 L478.20,292.19 L478.60,292.87 L479.00,293.87 L479.40,293.72 L479.80,293.95 L480.20,292.59 L480.60,293.37 L481.00,292.56 L481.40,293.78 L481.80,293.91 L482.20,292.42 L482.60,291.58 L483.00,292.24 L483.40,292.44 L483.80,292.39 L484.20,292.71 L484.60,293.90 L485.00,293.41 L485.40,293.74 L485.80,294.00 L486.20,294.00 L486.60,293.85 L487.00,293.87 L487.40,292.89 L487.80,291.73 L488.20,293.57 L488.60,291.83 L489.00,291.57 L489.40,291.74 L489.80,293.73 L490.20,293.91 L490.60,293.90 L491.00,293.93 L491.40,293.92 L491.80,293.11 L492.20,292.02 L492.60,292.29 L493.00,293.50 L493.40,293.02 L493.80,292.47 L494.20,293.99 L494.60,293.00 L495.00,291.97 L495.40,292.54 L495.80,292.67 L496.20,293.51 L496.60,293.94 L497.00,292.52 L497.40,293.78 L497.80,292.47 L498.20,291.65 L498.60,293.67 L499.00,293.66 L499.40,291.78 L499.80,292.77 L500.20,293.95 L500.60,293.97 L501.00,293.96 L501.40,291.99 L501.80,292.44 L502.20,293.96 L502.60,292.36 L503.00,291.61 L503.40,293.01 L503.80,293.75 L504.20,293.33 L504.60,293.97 L505.00,294.00 L505.40,291.66 L505.80,293.03 L506.20,293.39 L506.60,291.85 L507.00,293.60 L507.40,292.15 L507.80,292.36 L508.20,293.92 L508.60,293.88 L509.00,293.83 L509.40,293.89 L509.80,293.23 L510.20,293.87 L510.60,293.63 L511.00,293.97 L511.40,291.97 L511.80,293.75 L512.20,293.55 L512.60,293.24 L513.00,292.00 L513.40,293.63 L513.80,291.93 L514.20,293.45 L514.60,293.38 L515.00,293.40 L515.40,294.00 L515.80,293.59 L516.20,293.94 L516.60,294.00 L517.00,292.47 L517.40,293.95 L517.80,293.52 L518.20,292.77 L518.60,293.31 L519.00,293.79 L519.40,293.41 L519.80,293.31 L520.20,293.30 L520.60,293.99 L521.00,293.66 L521.40,293.94 L521.80,293.93 L522.20,293.32 L522.60,293.73 L523.00,293.66 L523.40,293.34 L523.80,293.02 L524.20,293.80 L524.60,293.59 L525.00,293.73 L525.40,293.72 L525.80,293.46 L526.20,293.79 L526.60,293.70 L527.00,293.76 L527.40,292.95 L527.80,293.45 L528.20,293.10 L528.60,292.95 L529.00,293.94 L529.40,293.67 L529.80,292.94 L530.20,293.18 L530.60,293.98 L531.00,293.99 L531.40,293.80 L531.80,294.00 L532.20,293.95 L532.60,294.00 L533.00,293.50 L533.40,293.30 L533.80,293.06 L534.20,293.98 L534.60,293.42 L535.00,293.52 L535.40,293.98 L535.80,293.09 L536.20,292.88 L536.60,293.96 L537.00,292.92 L537.40,293.84 L537.80,293.75 L538.20,292.83 L538.60,293.20 L539.00,293.98 L539.40,293.81 L539.80,293.72 L540.20,293.89 L540.60,293.97 L541.00,293.90 L541.40,293.41 L541.80,294.00 L542.20,293.67 L542.60,293.80 L543.00,294.00 L543.40,293.89 L543.80,293.57 L544.20,293.72 L544.60,294.00 L545.00,292.84 L545.40,293.29 L545.80,292.87 L546.20,293.99 L546.60,293.94 L547.00,294.00 L547.40,293.31 L547.80,293.93 L548.20,293.99 L548.60,293.82 L549.00,293.02 L549.40,293.23 L549.80,293.94 L550.20,293.98 L550.60,293.00 L551.00,293.65 L551.40,293.45 L551.80,293.99" stroke="#000" stroke-width="0.8" fill="none" stroke-linejoin="round"/>
<path d="M419.50,294.00V284.80 M434.50,294.00V273.40 M438.50,294.00V253.00 M442.50,294.00V242.00 M454.50,294.00V264.70 M462.50,294.00V281.40 M423.50,294.00V288.00 M429.50,294.00V289.00 M446.50,294.00V288.00 M450.50,294.00V289.00" stroke="#000" stroke-width="1.2" fill="none"/>
<path d="M485.00,293.99 L485.10,293.99 L485.20,293.99 L485.30,293.99 L485.40,293.98 L485.50,293.98 L485.60,293.98 L485.70,293.98 L485.80,293.98 L485.90,293.98 L486.00,293.98 L486.10,293.98 L486.20,293.98 L486.30,293.98 L486.40,293.98 L486.50,293.98 L486.60,293.98 L486.70,293.98 L486.80,293.98 L486.90,293.98 L487.00,293.98 L487.10,293.98 L487.20,293.98 L487.30,293.97 L487.40,293.97 L487.50,293.97 L487.60,293.97 L487.70,293.97 L487.80,293.97 L487.90,293.97 L488.00,293.97 L488.10,293.97 L488.20,293.97 L488.30,293.97 L488.40,293.96 L488.50,293.96 L488.60,293.96 L488.70,293.96 L488.80,293.96 L488.90,293.96 L489.00,293.96 L489.10,293.95 L489.20,293.95 L489.30,293.95 L489.40,293.95 L489.50,293.95 L489.60,293.94 L489.70,293.94 L489.80,293.94 L489.90,293.94 L490.00,293.93 L490.10,293.93 L490.20,293.93 L490.30,293.93 L490.40,293.92 L490.50,293.92 L490.60,293.91 L490.70,293.91 L490.80,293.91 L490.90,293.90 L491.00,293.90 L491.10,293.89 L491.20,293.89 L491.30,293.88 L491.40,293.87 L491.50,293.87 L491.60,293.86 L491.70,293.85 L491.80,293.84 L491.90,293.83 L492.00,293.82 L492.10,293.81 L492.20,293.79 L492.30,293.78 L492.40,293.77 L492.50,293.75 L492.60,293.73 L492.70,293.71 L492.80,293.69 L492.90,293.66 L493.00,293.63 L493.10,293.60 L493.20,293.57 L493.30,293.53 L493.40,293.49 L493.50,293.44 L493.60,293.38 L493.70,293.32 L493.80,293.25 L493.90,293.17 L494.00,293.08 L494.10,292.97 L494.20,292.84 L494.30,292.70 L494.40,292.53 L494.50,292.33 L494.60,292.09 L494.70,291.81 L494.80,291.47 L494.90,291.07 L495.00,290.58 L495.10,289.98 L495.20,289.25 L495.30,288.35 L495.40,287.24 L495.50,285.86 L495.60,284.15 L495.70,282.02 L495.80,279.39 L495.90,276.18 L496.00,272.35 L496.10,267.93 L496.20,263.09 L496.30,258.23 L496.40,253.94 L496.50,250.94 L496.60,249.85 L496.70,250.70 L496.80,253.11 L496.90,256.66 L497.00,260.85 L497.10,265.20 L497.20,269.37 L497.30,273.15 L497.40,276.44 L497.50,279.25 L497.60,281.59 L497.70,283.53 L497.80,285.13 L497.90,286.44 L498.00,287.52 L498.10,288.40 L498.20,289.13 L498.30,289.73 L498.40,290.22 L498.50,290.62 L498.60,290.96 L498.70,291.23 L498.80,291.45 L498.90,291.63 L499.00,291.77 L499.10,291.88 L499.20,291.95 L499.30,292.01 L499.40,292.03 L499.50,292.03 L499.60,292.01 L499.70,291.96 L499.80,291.88 L499.90,291.78 L500.00,291.64 L500.10,291.48 L500.20,291.27 L500.30,291.01 L500.40,290.71 L500.50,290.34 L500.60,289.89 L500.70,289.35 L500.80,288.69 L500.90,287.90 L501.00,286.93 L501.10,285.75 L501.20,284.29 L501.30,282.49 L501.40,280.26 L501.50,277.49 L501.60,274.04 L501.70,269.74 L501.80,264.44 L501.90,257.97 L502.00,250.23 L502.10,241.31 L502.20,231.54 L502.30,221.72 L502.40,213.06 L502.50,207.01 L502.60,204.83 L502.70,206.24 L502.80,210.25 L502.90,216.30 L503.00,223.65 L503.10,231.56 L503.20,239.42 L503.30,246.81 L503.40,253.50 L503.50,259.38 L503.60,264.46 L503.70,268.79 L503.80,272.45 L503.90,275.53 L504.00,278.12 L504.10,280.29 L504.20,282.11 L504.30,283.64 L504.40,284.94 L504.50,286.03 L504.60,286.95 L504.70,287.74 L504.80,288.41 L504.90,288.98 L505.00,289.47 L505.10,289.89 L505.20,290.25 L505.30,290.55 L505.40,290.81 L505.50,291.03 L505.60,291.21 L505.70,291.36 L505.80,291.48 L505.90,291.57 L506.00,291.64 L506.10,291.68 L506.20,291.69 L506.30,291.68 L506.40,291.63 L506.50,291.56 L506.60,291.45 L506.70,291.30 L506.80,291.10 L506.90,290.84 L507.00,290.52 L507.10,290.13 L507.20,289.63 L507.30,289.01 L507.40,288.23 L507.50,287.27 L507.60,286.07 L507.70,284.56 L507.80,282.68 L507.90,280.34 L508.00,277.44 L508.10,273.89 L508.20,269.65 L508.30,264.75 L508.40,259.39 L508.50,254.00 L508.60,249.24 L508.70,245.93 L508.80,244.74 L508.90,245.29 L509.00,246.87 L509.10,249.31 L509.20,252.39 L509.30,255.87 L509.40,259.52 L509.50,263.15 L509.60,266.61 L509.70,269.84 L509.80,272.76 L509.90,275.38 L510.00,277.69 L510.10,279.71 L510.20,281.47 L510.30,282.99 L510.40,284.32 L510.50,285.46 L510.60,286.45 L510.70,287.30 L510.80,288.05 L510.90,288.69 L511.00,289.25 L511.10,289.74 L511.20,290.17 L511.30,290.55 L511.40,290.88 L511.50,291.17 L511.60,291.43 L511.70,291.66 L511.80,291.86 L511.90,292.05 L512.00,292.21 L512.10,292.35 L512.20,292.48 L512.30,292.60 L512.40,292.71 L512.50,292.80 L512.60,292.89 L512.70,292.97 L512.80,293.04 L512.90,293.10 L513.00,293.16 L513.10,293.22 L513.20,293.27 L513.30,293.31 L513.40,293.35 L513.50,293.39 L513.60,293.43 L513.70,293.46 L513.80,293.49 L513.90,293.52 L514.00,293.55 L514.10,293.57 L514.20,293.59 L514.30,293.61 L514.40,293.63 L514.50,293.65 L514.60,293.67 L514.70,293.69 L514.80,293.70 L514.90,293.71 L515.00,293.73 L515.10,293.74 L515.20,293.75 L515.30,293.76 L515.40,293.77 L515.50,293.78 L515.60,293.79 L515.70,293.80 L515.80,293.81 L515.90,293.82 L516.00,293.82 L516.10,293.83 L516.20,293.84 L516.30,293.84 L516.40,293.85 L516.50,293.86 L516.60,293.86 L516.70,293.87 L516.80,293.87 L516.90,293.88 L517.00,293.88 L517.10,293.88 L517.20,293.89 L517.30,293.89 L517.40,293.90 L517.50,293.90 L517.60,293.90 L517.70,293.91 L517.80,293.91 L517.90,293.91 L518.00,293.91 L518.10,293.92 L518.20,293.92 L518.30,293.92 L518.40,293.92 L518.50,293.93 L518.60,293.93 L518.70,293.93 L518.80,293.93 L518.90,293.93 L519.00,293.94 L519.10,293.94 L519.20,293.94 L519.30,293.94 L519.40,293.94 L519.50,293.94 L519.60,293.95 L519.70,293.95 L519.80,293.95 L519.90,293.95 L520.00,293.95 L520.10,293.95 L520.20,293.95 L520.30,293.95 L520.40,293.96 L520.50,293.96 L520.60,293.96 L520.70,293.96 L520.80,293.96 L520.90,293.96 L521.00,293.96 L521.10,293.96 L521.20,293.96 L521.30,293.96 L521.40,293.97 L521.50,293.97 L521.60,293.97 L521.70,293.97 L521.80,293.97 L521.90,293.97 L522.00,293.97 L522.10,293.97 L522.20,293.97 L522.30,293.97 L522.40,293.97 L522.50,293.97 L522.60,293.97 L522.70,293.97 L522.80,293.97 L522.90,293.98 L523.00,293.98 L523.10,293.98 L523.20,293.98 L523.30,293.98 L523.40,293.98 L523.50,293.98 L523.60,293.98 L523.70,293.98 L523.80,293.98 L523.90,293.98 L524.00,293.98 L524.10,293.98 L524.20,293.98 L524.30,293.98 L524.40,293.98 L524.50,293.98 L524.60,293.98 L524.70,293.98 L524.80,293.98 L524.90,293.98" stroke="#777" stroke-width="1.1" fill="none" stroke-linejoin="round"/>
<path d="M485.00,293.98 L485.10,293.97 L485.20,293.97 L485.30,293.97 L485.40,293.97 L485.50,293.97 L485.60,293.97 L485.70,293.97 L485.80,293.97 L485.90,293.97 L486.00,293.97 L486.10,293.97 L486.20,293.96 L486.30,293.96 L486.40,293.96 L486.50,293.96 L486.60,293.96 L486.70,293.96 L486.80,293.96 L486.90,293.96 L487.00,293.95 L487.10,293.95 L487.20,293.95 L487.30,293.95 L487.40,293.95 L487.50,293.94 L487.60,293.94 L487.70,293.94 L487.80,293.93 L487.90,293.93 L488.00,293.93 L488.10,293.92 L488.20,293.92 L488.30,293.92 L488.40,293.91 L488.50,293.90 L488.60,293.90 L488.70,293.89 L488.80,293.88 L488.90,293.87 L489.00,293.86 L489.10,293.85 L489.20,293.83 L489.30,293.81 L489.40,293.79 L489.50,293.76 L489.60,293.72 L489.70,293.67 L489.80,293.60 L489.90,293.51 L490.00,293.37 L490.10,293.18 L490.20,292.87 L490.30,292.37 L490.40,291.54 L490.50,290.09 L490.60,287.51 L490.70,283.21 L490.80,277.69 L490.90,274.72 L491.00,276.45 L491.10,280.37 L491.20,284.32 L491.30,287.31 L491.40,289.30 L491.50,290.56 L491.60,291.32 L491.70,291.75 L491.80,291.94 L491.90,291.90 L492.00,291.62 L492.10,290.98 L492.20,289.75 L492.30,287.48 L492.40,283.64 L492.50,278.70 L492.60,276.02 L492.70,277.53 L492.80,280.99 L492.90,284.47 L493.00,287.07 L493.10,288.77 L493.20,289.80 L493.30,290.38 L493.40,290.66 L493.50,290.72 L493.60,290.63 L493.70,290.40 L493.80,290.04 L493.90,289.55 L494.00,288.91 L494.10,288.09 L494.20,287.06 L494.30,285.76 L494.40,284.14 L494.50,282.12 L494.60,279.59 L494.70,276.47 L494.80,272.65 L494.90,268.09 L495.00,262.83 L495.10,257.07 L495.20,251.27 L495.30,246.15 L495.40,242.58 L495.50,241.29 L495.60,242.31 L495.70,245.18 L495.80,249.42 L495.90,254.42 L496.00,259.62 L496.10,264.60 L496.20,269.11 L496.30,273.05 L496.40,276.39 L496.50,279.19 L496.60,281.51 L496.70,283.42 L496.80,284.99 L496.90,286.28 L497.00,287.34 L497.10,288.21 L497.20,288.93 L497.30,289.52 L497.40,290.01 L497.50,290.41 L497.60,290.74 L497.70,291.01 L497.80,291.23 L497.90,291.41 L498.00,291.55 L498.10,291.65 L498.20,291.73 L498.30,291.78 L498.40,291.79 L498.50,291.79 L498.60,291.76 L498.70,291.70 L498.80,291.61 L498.90,291.50 L499.00,291.35 L499.10,291.16 L499.20,290.93 L499.30,290.66 L499.40,290.33 L499.50,289.93 L499.60,289.45 L499.70,288.88 L499.80,288.19 L499.90,287.36 L500.00,286.36 L500.10,285.13 L500.20,283.63 L500.30,281.79 L500.40,279.52 L500.50,276.70 L500.60,273.20 L500.70,268.84 L500.80,263.43 L500.90,256.74 L501.00,248.57 L501.10,238.81 L501.20,227.55 L501.30,215.24 L501.40,202.85 L501.50,191.92 L501.60,184.29 L501.70,181.54 L501.80,183.32 L501.90,188.37 L502.00,196.00 L502.10,205.27 L502.20,215.24 L502.30,225.15 L502.40,234.48 L502.50,242.91 L502.60,250.33 L502.70,256.74 L502.80,262.20 L502.90,266.81 L503.00,270.70 L503.10,273.96 L503.20,276.69 L503.30,278.99 L503.40,280.92 L503.50,282.55 L503.60,283.93 L503.70,285.10 L503.80,286.09 L503.90,286.94 L504.00,287.66 L504.10,288.27 L504.20,288.80 L504.30,289.25 L504.40,289.64 L504.50,289.96 L504.60,290.24 L504.70,290.47 L504.80,290.67 L504.90,290.82 L505.00,290.94 L505.10,291.03 L505.20,291.08 L505.30,291.10 L505.40,291.09 L505.50,291.05 L505.60,290.96 L505.70,290.84 L505.80,290.67 L505.90,290.44 L506.00,290.14 L506.10,289.77 L506.20,289.31 L506.30,288.73 L506.40,288.00 L506.50,287.10 L506.60,285.98 L506.70,284.58 L506.80,282.83 L506.90,280.65 L507.00,277.93 L507.10,274.56 L507.20,270.44 L507.30,265.52 L507.40,259.83 L507.50,253.61 L507.60,247.35 L507.70,241.82 L507.80,237.95 L507.90,236.55 L508.00,237.16 L508.10,238.94 L508.20,241.73 L508.30,245.25 L508.40,249.23 L508.50,253.39 L508.60,257.53 L508.70,261.48 L508.80,265.13 L508.90,268.43 L509.00,271.36 L509.10,273.93 L509.20,276.15 L509.30,278.05 L509.40,279.67 L509.50,281.03 L509.60,282.16 L509.70,283.09 L509.80,283.84 L509.90,284.43 L510.00,284.88 L510.10,285.20 L510.20,285.39 L510.30,285.48 L510.40,285.48 L510.50,285.39 L510.60,285.22 L510.70,284.99 L510.80,284.72 L510.90,284.42 L511.00,284.13 L511.10,283.86 L511.20,283.63 L511.30,283.49 L511.40,283.44 L511.50,283.50 L511.60,283.62 L511.70,283.75 L511.80,283.90 L511.90,284.07 L512.00,284.24 L512.10,284.43 L512.20,284.64 L512.30,284.85 L512.40,285.08 L512.50,285.31 L512.60,285.55 L512.70,285.80 L512.80,286.05 L512.90,286.31 L513.00,286.57 L513.10,286.83 L513.20,287.09 L513.30,287.34 L513.40,287.60 L513.50,287.85 L513.60,288.09 L513.70,288.33 L513.80,288.57 L513.90,288.79 L514.00,289.01 L514.10,289.23 L514.20,289.43 L514.30,289.63 L514.40,289.82 L514.50,290.01 L514.60,290.18 L514.70,290.35 L514.80,290.51 L514.90,290.67 L515.00,290.82 L515.10,290.96 L515.20,291.09 L515.30,291.22 L515.40,291.34 L515.50,291.46 L515.60,291.57 L515.70,291.68 L515.80,291.78 L515.90,291.87 L516.00,291.96 L516.10,292.05 L516.20,292.13 L516.30,292.21 L516.40,292.29 L516.50,292.36 L516.60,292.43 L516.70,292.49 L516.80,292.55 L516.90,292.61 L517.00,292.67 L517.10,292.72 L517.20,292.77 L517.30,292.82 L517.40,292.86 L517.50,292.91 L517.60,292.95 L517.70,292.99 L517.80,293.03 L517.90,293.06 L518.00,293.10 L518.10,293.13 L518.20,293.16 L518.30,293.19 L518.40,293.22 L518.50,293.25 L518.60,293.27 L518.70,293.30 L518.80,293.32 L518.90,293.35 L519.00,293.37 L519.10,293.39 L519.20,293.41 L519.30,293.43 L519.40,293.45 L519.50,293.47 L519.60,293.48 L519.70,293.50 L519.80,293.51 L519.90,293.53 L520.00,293.54 L520.10,293.56 L520.20,293.57 L520.30,293.58 L520.40,293.60 L520.50,293.61 L520.60,293.62 L520.70,293.63 L520.80,293.64 L520.90,293.65 L521.00,293.66 L521.10,293.67 L521.20,293.68 L521.30,293.69 L521.40,293.70 L521.50,293.71 L521.60,293.72 L521.70,293.72 L521.80,293.73 L521.90,293.74 L522.00,293.74 L522.10,293.75 L522.20,293.76 L522.30,293.76 L522.40,293.77 L522.50,293.78 L522.60,293.78 L522.70,293.79 L522.80,293.79 L522.90,293.80 L523.00,293.80 L523.10,293.81 L523.20,293.81 L523.30,293.82 L523.40,293.82 L523.50,293.82 L523.60,293.83 L523.70,293.83 L523.80,293.84 L523.90,293.84 L524.00,293.84 L524.10,293.85 L524.20,293.85 L524.30,293.85 L524.40,293.86 L524.50,293.86 L524.60,293.86 L524.70,293.87 L524.80,293.87 L524.90,293.87" stroke="#000" stroke-width="1.5" fill="none" stroke-linejoin="round"/>
<path d="M501.70,205.00V181.75" stroke="#000" stroke-width="1.3" fill="none"/>
<path d="M470.00,294.00 L470.40,293.90 L470.80,293.28 L471.20,292.26 L471.60,293.86 L472.00,293.90 L472.40,293.69 L472.80,291.95 L473.20,293.85 L473.60,292.02 L474.00,292.35 L474.40,293.87 L474.80,292.82 L475.20,293.12 L475.60,293.22 L476.00,290.82 L476.40,293.93 L476.80,293.99 L477.20,291.10 L477.60,293.25 L478.00,293.76 L478.40,293.46 L478.80,293.36 L479.20,291.03 L479.60,293.74 L480.00,293.72 L480.40,292.64 L480.80,292.78 L481.20,291.03 L481.60,291.59 L482.00,293.39 L482.40,293.75 L482.80,291.60 L483.20,290.86 L483.60,293.99 L484.00,292.04 L484.40,291.45 L484.80,292.39 L485.20,293.72 L485.60,291.78 L486.00,292.07 L486.40,293.77 L486.80,292.43 L487.20,293.72 L487.60,293.98 L488.00,293.44 L488.40,293.45 L488.80,293.27 L489.20,292.41 L489.60,291.60 L490.00,291.00 L490.40,290.92 L490.80,290.83 L491.20,291.81 L491.60,293.52 L492.00,293.80 L492.40,292.50 L492.80,292.79 L493.20,292.30 L493.60,293.93 L494.00,293.77 L494.40,291.19 L494.80,292.58 L495.20,292.21 L495.60,293.93 L496.00,293.26 L496.40,291.25 L496.80,292.40 L497.20,290.84 L497.60,293.76 L498.00,293.09 L498.40,291.76 L498.80,293.12 L499.20,291.81 L499.60,292.73 L500.00,293.90 L500.40,293.92 L500.80,290.89 L501.20,293.89 L501.60,293.77 L502.00,293.44 L502.40,292.14 L502.80,291.51 L503.20,293.03 L503.60,292.95 L504.00,291.81 L504.40,293.59 L504.80,293.34 L505.20,292.54 L505.60,292.45 L506.00,293.98 L506.40,293.90 L506.80,293.87 L507.20,292.09 L507.60,292.22 L508.00,290.94 L508.40,291.90 L508.80,293.64 L509.20,291.91 L509.60,290.88 L510.00,293.41 L510.40,294.00 L510.80,293.33 L511.20,293.58 L511.60,293.80 L512.00,293.98 L512.40,293.89 L512.80,291.46 L513.20,293.97 L513.60,292.53 L514.00,293.74 L514.40,293.77 L514.80,291.67 L515.20,293.54 L515.60,293.79 L516.00,293.09 L516.40,292.21 L516.80,292.86 L517.20,291.49 L517.60,293.26 L518.00,292.86 L518.40,292.12 L518.80,293.07 L519.20,292.12 L519.60,293.05 L520.00,293.87 L520.40,293.89 L520.80,291.84 L521.20,292.00 L521.60,291.09 L522.00,292.23 L522.40,292.66 L522.80,293.82 L523.20,291.52 L523.60,293.89 L524.00,293.19 L524.40,293.86 L524.80,293.32 L525.20,293.52 L525.60,293.18 L526.00,292.15 L526.40,292.80 L526.80,293.67 L527.20,291.85 L527.60,292.04 L528.00,291.64 L528.40,293.99 L528.80,292.53 L529.20,291.32 L529.60,293.63 L530.00,293.75 L530.40,291.70 L530.80,293.37 L531.20,293.26 L531.60,291.68 L532.00,293.31 L532.40,293.76 L532.80,293.73 L533.20,293.42 L533.60,292.20 L534.00,293.35 L534.40,291.89 L534.80,293.96 L535.20,293.65 L535.60,292.49 L536.00,293.01 L536.40,292.94 L536.80,291.12 L537.20,293.59 L537.60,293.79 L538.00,293.99 L538.40,293.00 L538.80,293.54 L539.20,293.03 L539.60,294.00 L540.00,294.00 L540.40,293.32 L540.80,291.95 L541.20,293.53 L541.60,291.24 L542.00,292.66 L542.40,293.25 L542.80,291.86 L543.20,293.69 L543.60,292.57 L544.00,291.55 L544.40,292.80 L544.80,293.48 L545.20,293.92 L545.60,292.68 L546.00,293.78 L546.40,293.34 L546.80,292.80 L547.20,291.10 L547.60,292.30 L548.00,292.88 L548.40,291.49 L548.80,293.51 L549.20,293.30 L549.60,292.28 L550.00,292.76 L550.40,293.71 L550.80,293.23 L551.20,291.65 L551.60,293.67 L552.00,292.17" stroke="#000" stroke-width="0.9" fill="none" stroke-linejoin="round"/>
<path d="M420.3,172.8H422.7V233.8H499.5" stroke="#000" stroke-width="1.5" fill="none"/>
<path d="M420.3,172.8H422.7 M420.3,185.0H422.7 M420.3,197.2H422.7 M420.3,209.4H422.7 M420.3,221.6H422.7 M420.3,233.8H422.7 M422.7,233.8V236.0 M425.7,233.8V235.3 M428.7,233.8V235.3 M431.7,233.8V235.3 M434.7,233.8V235.3 M437.7,233.8V236.0 M440.7,233.8V235.3 M443.7,233.8V235.3 M446.7,233.8V235.3 M449.7,233.8V235.3 M452.7,233.8V236.0 M455.7,233.8V235.3 M458.7,233.8V235.3 M461.7,233.8V235.3 M464.7,233.8V235.3 M467.7,233.8V236.0 M470.7,233.8V235.3 M473.7,233.8V235.3 M476.7,233.8V235.3 M479.7,233.8V235.3 M482.7,233.8V236.0 M485.7,233.8V235.3 M488.7,233.8V235.3 M491.7,233.8V235.3 M494.7,233.8V235.3 M497.7,233.8V236.0" stroke="#000" stroke-width="1.1" fill="none"/>
<path d="M423.50,232.63 L423.80,232.49 L424.10,232.37 L424.40,231.54 L424.70,231.90 L425.00,231.13 L425.30,232.12 L425.60,228.71 L425.90,224.89 L426.20,225.60 L426.50,224.58 L426.80,225.20 L427.10,227.29 L427.40,229.01 L427.70,227.36 L428.00,229.83 L428.30,230.73 L428.60,229.05 L428.90,229.14 L429.20,229.53 L429.50,229.50 L429.80,232.04 L430.10,232.47 L430.40,232.39 L430.70,230.33 L431.00,232.45 L431.30,232.36 L431.60,232.66 L431.90,232.60 L432.20,232.63 L432.50,232.07 L432.80,232.42 L433.10,232.19 L433.40,231.19 L433.70,232.43 L434.00,231.41 L434.30,231.54 L434.60,231.80 L434.90,231.78 L435.20,231.43 L435.50,231.69 L435.80,232.28 L436.10,232.06 L436.40,232.17 L436.70,231.71 L437.00,229.76 L437.30,230.64 L437.60,230.31 L437.90,226.42 L438.20,220.06 L438.50,212.33 L438.80,208.23 L439.10,210.60 L439.40,211.77 L439.70,211.48 L440.00,215.05 L440.30,216.12 L440.60,217.66 L440.90,219.92 L441.20,221.93 L441.50,223.39 L441.80,221.77 L442.10,223.63 L442.40,223.76 L442.70,225.95 L443.00,225.26 L443.30,226.14 L443.60,227.40 L443.90,228.13 L444.20,228.58 L444.50,229.77 L444.80,229.61 L445.10,228.82 L445.40,230.61 L445.70,228.82 L446.00,229.98 L446.30,229.80 L446.60,229.23 L446.90,229.79 L447.20,231.32 L447.50,230.95 L447.80,231.60 L448.10,231.37 L448.40,228.37 L448.70,229.13 L449.00,227.54 L449.30,227.47 L449.60,227.94 L449.90,224.65 L450.20,222.79 L450.50,221.07 L450.80,217.17 L451.10,208.14 L451.40,195.48 L451.70,179.82 L452.00,176.43 L452.30,175.52 L452.60,176.72 L452.90,181.85 L453.20,183.52 L453.50,187.78 L453.80,191.85 L454.10,194.25 L454.40,199.33 L454.70,201.23 L455.00,206.54 L455.30,206.41 L455.60,211.14 L455.90,213.80 L456.20,213.07 L456.50,215.23 L456.80,216.87 L457.10,217.93 L457.40,220.28 L457.70,222.13 L458.00,222.47 L458.30,221.41 L458.60,222.09 L458.90,225.03 L459.20,225.02 L459.50,225.55 L459.80,224.70 L460.10,227.86 L460.40,225.80 L460.70,227.91 L461.00,227.37 L461.30,228.94 L461.60,229.36 L461.90,227.23 L462.20,228.60 L462.50,227.40 L462.80,227.91 L463.10,228.40 L463.40,230.57 L463.70,229.13 L464.00,228.00 L464.30,229.49 L464.60,230.78 L464.90,230.33 L465.20,227.71 L465.50,227.35 L465.80,228.82 L466.10,227.27 L466.40,223.46 L466.70,218.74 L467.00,210.81 L467.30,205.11 L467.60,206.74 L467.90,208.55 L468.20,211.00 L468.50,211.20 L468.80,212.25 L469.10,215.75 L469.40,217.72 L469.70,217.41 L470.00,218.27 L470.30,221.21 L470.60,222.09 L470.90,222.64 L471.20,223.91 L471.50,225.90 L471.80,226.18 L472.10,227.02 L472.40,227.62 L472.70,228.45 L473.00,227.99 L473.30,228.91 L473.60,227.39 L473.90,229.29 L474.20,227.66 L474.50,228.38 L474.80,230.25 L475.10,230.82 L475.40,229.76 L475.70,230.24 L476.00,230.22 L476.30,231.61 L476.60,230.53 L476.90,229.97 L477.20,231.03 L477.50,231.71 L477.80,229.80 L478.10,231.77 L478.40,229.75 L478.70,230.71 L479.00,232.69 L479.30,231.46 L479.60,232.29 L479.90,230.59 L480.20,231.58 L480.50,232.47 L480.80,230.17 L481.10,230.56 L481.40,231.04 L481.70,231.10 L482.00,232.48 L482.30,229.59 L482.60,231.32 L482.90,230.18 L483.20,229.61 L483.50,228.78 L483.80,229.27 L484.10,226.27 L484.40,227.53 L484.70,227.94 L485.00,226.70 L485.30,226.90 L485.60,227.56 L485.90,227.24 L486.20,229.18 L486.50,230.18 L486.80,229.72 L487.10,229.21 L487.40,228.91 L487.70,229.30 L488.00,229.83 L488.30,230.12 L488.60,230.12 L488.90,230.57 L489.20,232.41 L489.50,230.96 L489.80,231.88 L490.10,232.50 L490.40,231.04 L490.70,230.51 L491.00,231.99 L491.30,231.08 L491.60,231.24 L491.90,231.17 L492.20,230.80 L492.50,231.24 L492.80,232.54 L493.10,231.48 L493.40,232.03 L493.70,231.92 L494.00,231.47 L494.30,232.39 L494.60,231.61 L494.90,231.11 L495.20,232.57 L495.50,231.32 L495.80,231.58 L496.10,232.07 L496.40,231.53 L496.70,232.58 L497.00,232.46 L497.30,231.26 L497.60,231.82 L497.90,232.47 L498.20,232.52 L498.50,232.10 L498.80,231.97" stroke="#000" stroke-width="0.8" fill="none" stroke-linejoin="round"/>
<path d="M423.50,232.33 L423.60,232.30 L423.70,232.27 L423.80,232.24 L423.90,232.20 L424.00,232.16 L424.10,232.11 L424.20,232.06 L424.30,231.99 L424.40,231.92 L424.50,231.83 L424.60,231.72 L424.70,231.59 L424.80,231.44 L424.90,231.25 L425.00,231.02 L425.10,230.74 L425.20,230.37 L425.30,229.92 L425.40,229.34 L425.50,228.62 L425.60,227.74 L425.70,226.74 L425.80,225.72 L425.90,224.92 L426.00,224.62 L426.10,224.63 L426.20,224.66 L426.30,224.73 L426.40,224.81 L426.50,224.92 L426.60,225.04 L426.70,225.19 L426.80,225.35 L426.90,225.52 L427.00,225.71 L427.10,225.90 L427.20,226.10 L427.30,226.30 L427.40,226.51 L427.50,226.72 L427.60,226.92 L427.70,227.13 L427.80,227.33 L427.90,227.52 L428.00,227.71 L428.10,227.90 L428.20,228.08 L428.30,228.25 L428.40,228.42 L428.50,228.58 L428.60,228.74 L428.70,228.89 L428.80,229.03 L428.90,229.17 L429.00,229.30 L429.10,229.42 L429.20,229.54 L429.30,229.65 L429.40,229.76 L429.50,229.86 L429.60,229.96 L429.70,230.05 L429.80,230.14 L429.90,230.23 L430.00,230.31 L430.10,230.38 L430.20,230.46 L430.30,230.53 L430.40,230.59 L430.50,230.65 L430.60,230.71 L430.70,230.77 L430.80,230.83 L430.90,230.88 L431.00,230.93 L431.10,230.97 L431.20,231.02 L431.30,231.06 L431.40,231.10 L431.50,231.14 L431.60,231.17 L431.70,231.21 L431.80,231.24 L431.90,231.27 L432.00,231.30 L432.10,231.33 L432.20,231.36 L432.30,231.38 L432.40,231.41 L432.50,231.43 L432.60,231.45 L432.70,231.47 L432.80,231.49 L432.90,231.51 L433.00,231.52 L433.10,231.54 L433.20,231.55 L433.30,231.56 L433.40,231.58 L433.50,231.59 L433.60,231.59 L433.70,231.60 L433.80,231.61 L433.90,231.62 L434.00,231.62 L434.10,231.62 L434.20,231.62 L434.30,231.62 L434.40,231.62 L434.50,231.62 L434.60,231.62 L434.70,231.61 L434.80,231.60 L434.90,231.59 L435.00,231.58 L435.10,231.57 L435.20,231.55 L435.30,231.53 L435.40,231.51 L435.50,231.49 L435.60,231.46 L435.70,231.43 L435.80,231.39 L435.90,231.35 L436.00,231.30 L436.10,231.25 L436.20,231.18 L436.30,231.11 L436.40,231.03 L436.50,230.94 L436.60,230.84 L436.70,230.72 L436.80,230.58 L436.90,230.42 L437.00,230.23 L437.10,230.00 L437.20,229.74 L437.30,229.42 L437.40,229.04 L437.50,228.58 L437.60,228.01 L437.70,227.32 L437.80,226.44 L437.90,225.35 L438.00,223.96 L438.10,222.20 L438.20,220.00 L438.30,217.32 L438.40,214.26 L438.50,211.17 L438.60,208.74 L438.70,207.80 L438.80,207.84 L438.90,207.95 L439.00,208.13 L439.10,208.37 L439.20,208.68 L439.30,209.04 L439.40,209.46 L439.50,209.92 L439.60,210.43 L439.70,210.96 L439.80,211.52 L439.90,212.10 L440.00,212.70 L440.10,213.30 L440.20,213.91 L440.30,214.52 L440.40,215.13 L440.50,215.73 L440.60,216.32 L440.70,216.89 L440.80,217.45 L440.90,218.00 L441.00,218.53 L441.10,219.04 L441.20,219.54 L441.30,220.01 L441.40,220.47 L441.50,220.91 L441.60,221.34 L441.70,221.74 L441.80,222.13 L441.90,222.50 L442.00,222.85 L442.10,223.19 L442.20,223.52 L442.30,223.82 L442.40,224.12 L442.50,224.40 L442.60,224.67 L442.70,224.92 L442.80,225.17 L442.90,225.40 L443.00,225.62 L443.10,225.83 L443.20,226.04 L443.30,226.23 L443.40,226.41 L443.50,226.59 L443.60,226.75 L443.70,226.91 L443.80,227.06 L443.90,227.21 L444.00,227.35 L444.10,227.48 L444.20,227.60 L444.30,227.72 L444.40,227.84 L444.50,227.94 L444.60,228.05 L444.70,228.14 L444.80,228.24 L444.90,228.32 L445.00,228.41 L445.10,228.48 L445.20,228.56 L445.30,228.63 L445.40,228.70 L445.50,228.76 L445.60,228.82 L445.70,228.87 L445.80,228.92 L445.90,228.97 L446.00,229.01 L446.10,229.05 L446.20,229.09 L446.30,229.12 L446.40,229.15 L446.50,229.17 L446.60,229.19 L446.70,229.21 L446.80,229.22 L446.90,229.23 L447.00,229.23 L447.10,229.24 L447.20,229.23 L447.30,229.22 L447.40,229.21 L447.50,229.19 L447.60,229.17 L447.70,229.14 L447.80,229.10 L447.90,229.06 L448.00,229.01 L448.10,228.95 L448.20,228.89 L448.30,228.81 L448.40,228.73 L448.50,228.63 L448.60,228.53 L448.70,228.41 L448.80,228.27 L448.90,228.12 L449.00,227.95 L449.10,227.76 L449.20,227.55 L449.30,227.31 L449.40,227.04 L449.50,226.73 L449.60,226.39 L449.70,226.00 L449.80,225.56 L449.90,225.06 L450.00,224.48 L450.10,223.82 L450.20,223.05 L450.30,222.17 L450.40,221.14 L450.50,219.94 L450.60,218.54 L450.70,216.88 L450.80,214.92 L450.90,212.60 L451.00,209.84 L451.10,206.60 L451.20,202.79 L451.30,198.40 L451.40,193.48 L451.50,188.22 L451.60,183.00 L451.70,178.42 L451.80,175.24 L451.90,174.10 L452.00,174.18 L452.10,174.38 L452.20,174.71 L452.30,175.16 L452.40,175.72 L452.50,176.39 L452.60,177.16 L452.70,178.02 L452.80,178.97 L452.90,179.98 L453.00,181.06 L453.10,182.19 L453.20,183.36 L453.30,184.56 L453.40,185.79 L453.50,187.04 L453.60,188.29 L453.70,189.55 L453.80,190.80 L453.90,192.04 L454.00,193.27 L454.10,194.47 L454.20,195.66 L454.30,196.83 L454.40,197.96 L454.50,199.07 L454.60,200.15 L454.70,201.19 L454.80,202.21 L454.90,203.19 L455.00,204.14 L455.10,205.06 L455.20,205.95 L455.30,206.80 L455.40,207.63 L455.50,208.42 L455.60,209.19 L455.70,209.92 L455.80,210.63 L455.90,211.32 L456.00,211.97 L456.10,212.60 L456.20,213.21 L456.30,213.79 L456.40,214.35 L456.50,214.89 L456.60,215.41 L456.70,215.91 L456.80,216.39 L456.90,216.85 L457.00,217.30 L457.10,217.72 L457.20,218.14 L457.30,218.53 L457.40,218.91 L457.50,219.28 L457.60,219.63 L457.70,219.97 L457.80,220.30 L457.90,220.62 L458.00,220.92 L458.10,221.21 L458.20,221.50 L458.30,221.77 L458.40,222.04 L458.50,222.29 L458.60,222.54 L458.70,222.77 L458.80,223.00 L458.90,223.22 L459.00,223.44 L459.10,223.64 L459.20,223.84 L459.30,224.04 L459.40,224.22 L459.50,224.40 L459.60,224.58 L459.70,224.75 L459.80,224.91 L459.90,225.07 L460.00,225.22 L460.10,225.37 L460.20,225.52 L460.30,225.66 L460.40,225.79 L460.50,225.92 L460.60,226.05 L460.70,226.17 L460.80,226.29 L460.90,226.41 L461.00,226.52 L461.10,226.63 L461.20,226.73 L461.30,226.83 L461.40,226.93 L461.50,227.02 L461.60,227.12 L461.70,227.21 L461.80,227.29 L461.90,227.37 L462.00,227.46 L462.10,227.53 L462.20,227.61 L462.30,227.68 L462.40,227.75 L462.50,227.82 L462.60,227.88 L462.70,227.94 L462.80,228.00 L462.90,228.06 L463.00,228.11 L463.10,228.16 L463.20,228.21 L463.30,228.25 L463.40,228.29 L463.50,228.33 L463.60,228.37 L463.70,228.40 L463.80,228.43 L463.90,228.45 L464.00,228.47 L464.10,228.49 L464.20,228.50 L464.30,228.50 L464.40,228.50 L464.50,228.50 L464.60,228.48 L464.70,228.46 L464.80,228.43 L464.90,228.38 L465.00,228.33 L465.10,228.26 L465.20,228.17 L465.30,228.07 L465.40,227.94 L465.50,227.78 L465.60,227.58 L465.70,227.35 L465.80,227.06 L465.90,226.71 L466.00,226.27 L466.10,225.73 L466.20,225.05 L466.30,224.19 L466.40,223.10 L466.50,221.72 L466.60,219.97 L466.70,217.76 L466.80,215.07 L466.90,211.98 L467.00,208.87 L467.10,206.43 L467.20,205.50 L467.30,205.56 L467.40,205.68 L467.50,205.86 L467.60,206.10 L467.70,206.40 L467.80,206.75 L467.90,207.14 L468.00,207.58 L468.10,208.06 L468.20,208.57 L468.30,209.10 L468.40,209.66 L468.50,210.23 L468.60,210.81 L468.70,211.40 L468.80,212.00 L468.90,212.60 L469.00,213.19 L469.10,213.78 L469.20,214.36 L469.30,214.93 L469.40,215.49 L469.50,216.03 L469.60,216.56 L469.70,217.08 L469.80,217.58 L469.90,218.06 L470.00,218.53 L470.10,218.98 L470.20,219.42 L470.30,219.84 L470.40,220.25 L470.50,220.64 L470.60,221.01 L470.70,221.37 L470.80,221.72 L470.90,222.05 L471.00,222.37 L471.10,222.68 L471.20,222.97 L471.30,223.25 L471.40,223.52 L471.50,223.78 L471.60,224.03 L471.70,224.27 L471.80,224.50 L471.90,224.73 L472.00,224.94 L472.10,225.14 L472.20,225.34 L472.30,225.53 L472.40,225.71 L472.50,225.88 L472.60,226.05 L472.70,226.21 L472.80,226.37 L472.90,226.52 L473.00,226.67 L473.10,226.80 L473.20,226.94 L473.30,227.07 L473.40,227.19 L473.50,227.31 L473.60,227.43 L473.70,227.54 L473.80,227.65 L473.90,227.76 L474.00,227.86 L474.10,227.96 L474.20,228.05 L474.30,228.14 L474.40,228.23 L474.50,228.32 L474.60,228.40 L474.70,228.48 L474.80,228.56 L474.90,228.63 L475.00,228.71 L475.10,228.78 L475.20,228.85 L475.30,228.91 L475.40,228.98 L475.50,229.04 L475.60,229.10 L475.70,229.16 L475.80,229.22 L475.90,229.27 L476.00,229.33 L476.10,229.38 L476.20,229.43 L476.30,229.48 L476.40,229.53 L476.50,229.57 L476.60,229.62 L476.70,229.66 L476.80,229.71 L476.90,229.75 L477.00,229.79 L477.10,229.83 L477.20,229.86 L477.30,229.90 L477.40,229.94 L477.50,229.97 L477.60,230.01 L477.70,230.04 L477.80,230.07 L477.90,230.10 L478.00,230.13 L478.10,230.16 L478.20,230.19 L478.30,230.21 L478.40,230.24 L478.50,230.26 L478.60,230.29 L478.70,230.31 L478.80,230.33 L478.90,230.36 L479.00,230.38 L479.10,230.40 L479.20,230.41 L479.30,230.43 L479.40,230.45 L479.50,230.46 L479.60,230.48 L479.70,230.49 L479.80,230.50 L479.90,230.51 L480.00,230.52 L480.10,230.53 L480.20,230.54 L480.30,230.54 L480.40,230.55 L480.50,230.55 L480.60,230.55 L480.70,230.55 L480.80,230.55 L480.90,230.54 L481.00,230.53 L481.10,230.52 L481.20,230.51 L481.30,230.49 L481.40,230.47 L481.50,230.45 L481.60,230.42 L481.70,230.39 L481.80,230.35 L481.90,230.30 L482.00,230.25 L482.10,230.19 L482.20,230.12 L482.30,230.04 L482.40,229.95 L482.50,229.84 L482.60,229.72 L482.70,229.58 L482.80,229.43 L482.90,229.25 L483.00,229.05 L483.10,228.83 L483.20,228.58 L483.30,228.30 L483.40,228.01 L483.50,227.70 L483.60,227.39 L483.70,227.09 L483.80,226.83 L483.90,226.62 L484.00,226.49 L484.10,226.45 L484.20,226.46 L484.30,226.48 L484.40,226.51 L484.50,226.54 L484.60,226.58 L484.70,226.62 L484.80,226.67 L484.90,226.72 L485.00,226.78 L485.10,226.84 L485.20,226.91 L485.30,226.98 L485.40,227.06 L485.50,227.13 L485.60,227.21 L485.70,227.30 L485.80,227.38 L485.90,227.47 L486.00,227.55 L486.10,227.64 L486.20,227.73 L486.30,227.82 L486.40,227.91 L486.50,228.00 L486.60,228.09 L486.70,228.17 L486.80,228.26 L486.90,228.35 L487.00,228.43 L487.10,228.52 L487.20,228.60 L487.30,228.69 L487.40,228.77 L487.50,228.85 L487.60,228.92 L487.70,229.00 L487.80,229.07 L487.90,229.15 L488.00,229.22 L488.10,229.29 L488.20,229.36 L488.30,229.42 L488.40,229.49 L488.50,229.55 L488.60,229.61 L488.70,229.67 L488.80,229.73 L488.90,229.79 L489.00,229.85 L489.10,229.90 L489.20,229.95 L489.30,230.00 L489.40,230.05 L489.50,230.10 L489.60,230.15 L489.70,230.20 L489.80,230.24 L489.90,230.28 L490.00,230.33 L490.10,230.37 L490.20,230.41 L490.30,230.45 L490.40,230.49 L490.50,230.52 L490.60,230.56 L490.70,230.59 L490.80,230.63 L490.90,230.66 L491.00,230.69 L491.10,230.73 L491.20,230.76 L491.30,230.79 L491.40,230.82 L491.50,230.84 L491.60,230.87 L491.70,230.90 L491.80,230.93 L491.90,230.95 L492.00,230.98 L492.10,231.00 L492.20,231.03 L492.30,231.05 L492.40,231.07 L492.50,231.09 L492.60,231.12 L492.70,231.14 L492.80,231.16 L492.90,231.18 L493.00,231.20 L493.10,231.22 L493.20,231.24 L493.30,231.26 L493.40,231.27 L493.50,231.29 L493.60,231.31 L493.70,231.33 L493.80,231.34 L493.90,231.36 L494.00,231.37 L494.10,231.39 L494.20,231.41 L494.30,231.42 L494.40,231.44 L494.50,231.45 L494.60,231.46 L494.70,231.48 L494.80,231.49 L494.90,231.50 L495.00,231.52 L495.10,231.53 L495.20,231.54 L495.30,231.55 L495.40,231.57 L495.50,231.58 L495.60,231.59 L495.70,231.60 L495.80,231.61 L495.90,231.62 L496.00,231.63 L496.10,231.64 L496.20,231.66 L496.30,231.67 L496.40,231.68 L496.50,231.69 L496.60,231.70 L496.70,231.70 L496.80,231.71 L496.90,231.72 L497.00,231.73 L497.10,231.74 L497.20,231.75 L497.30,231.76 L497.40,231.77 L497.50,231.78 L497.60,231.78 L497.70,231.79 L497.80,231.80 L497.90,231.81 L498.00,231.81 L498.10,231.82 L498.20,231.83 L498.30,231.84 L498.40,231.84 L498.50,231.85 L498.60,231.86 L498.70,231.87 L498.80,231.87 L498.90,231.88 L499.00,231.89 L499.10,231.89 L499.20,231.90 L499.30,231.90 L499.40,231.91" stroke="#000" stroke-width="1.6" fill="none" stroke-linejoin="round"/>
<path d="M424.2,237L436.2,247.4" stroke="#e5007e" stroke-width="1.9" stroke-dasharray="1.6 1.3" fill="none"/>
<path d="M498.5,237L502.2,246" stroke="#e5007e" stroke-width="1.9" stroke-dasharray="1.6 1.3" fill="none"/>
<path d="M466.7,275.5L485.5,291.5" stroke="#e5007e" stroke-width="1.9" stroke-dasharray="1.6 1.3" fill="none"/>
<path d="M512.6,275.5L519.5,286.5" stroke="#e5007e" stroke-width="1.9" stroke-dasharray="1.6 1.3" fill="none"/>
<path d="M582.00,125.00 L584.00,128.00 L586.90,133.40 L591.30,136.10 L595.80,141.20 L599.00,144.00 L600.50,144.61 L601.00,143.96 L601.50,143.30 L602.00,142.65 L602.50,142.00 L603.00,140.75 L603.50,139.50 L604.00,138.25 L604.50,137.00 L605.00,135.58 L605.50,134.05 L606.00,132.51 L606.50,130.98 L607.00,129.44 L607.50,127.91 L608.00,126.38 L608.50,124.84 L609.00,123.31 L609.50,122.60 L610.00,122.10 L610.50,121.60 L611.00,121.10 L611.50,120.60 L612.00,120.10 L612.50,119.60 L613.00,119.10 L613.50,118.60 L614.00,118.38 L614.50,118.23 L615.00,118.09 L615.50,117.94 L616.00,117.79 L616.50,117.64 L617.00,117.50 L617.50,117.35 L618.00,117.20 L618.50,117.18 L619.00,117.15 L619.50,117.13 L620.00,117.11 L620.50,117.09 L621.00,117.06 L621.50,117.04 L622.00,117.02 L622.50,117.02 L623.00,117.10 L623.50,117.18 L624.00,117.27 L624.50,117.35 L625.00,117.43 L625.50,117.52 L626.00,117.60 L626.50,117.88 L627.00,118.15 L627.50,118.42 L628.00,118.70 L628.50,118.97 L629.00,119.25 L629.50,119.52 L630.00,119.80 L630.50,120.15 L631.00,120.51 L631.50,120.86 L632.00,121.21 L632.50,121.56 L633.00,121.92 L633.50,122.27 L634.00,122.62 L634.50,122.98 L635.00,123.33 L635.50,123.68 L636.00,124.04 L636.50,124.39 L637.00,124.80 L637.50,125.29 L638.00,125.78 L638.50,126.28 L639.00,126.77 L639.50,127.26 L640.00,127.75 L640.50,128.25 L641.00,128.74 L641.50,129.23 L642.00,129.72 L642.50,130.22 L643.00,130.71 L643.50,131.20 L644.00,131.70 L644.50,132.21 L645.00,132.72 L645.50,133.23 L646.00,133.73 L646.50,134.24 L647.00,134.75 L647.50,135.26 L648.00,135.76 L648.50,136.27 L649.00,136.78 L649.50,137.29 L650.00,137.79 L650.50,138.30 L651.00,138.75 L651.50,139.20 L652.00,139.65 L652.50,140.10 L653.00,140.55 L653.50,141.00 L654.00,141.44 L654.50,141.89 L655.00,142.34 L655.50,142.79 L656.00,143.24 L656.50,143.69 L657.00,144.14 L657.50,144.58 L658.00,145.00 L658.50,145.41 L659.00,145.83 L659.50,146.24 L660.00,146.66 L660.50,147.07 L661.00,147.49 L661.50,147.90 L662.00,148.27 L662.50,148.63 L663.00,149.00 L663.00,152.00 L662.50,151.63 L662.00,151.27 L661.50,150.90 L661.00,150.62 L660.50,150.34 L660.00,150.06 L659.50,149.78 L659.00,149.50 L658.50,149.22 L658.00,148.94 L657.50,148.66 L657.00,148.24 L656.50,147.79 L656.00,147.34 L655.50,146.89 L655.00,146.44 L654.50,145.99 L654.00,145.54 L653.50,145.10 L653.00,144.65 L652.50,144.20 L652.00,143.75 L651.50,143.30 L651.00,142.85 L650.50,142.40 L650.00,141.89 L649.50,141.39 L649.00,140.88 L648.50,140.37 L648.00,139.86 L647.50,139.36 L647.00,138.85 L646.50,138.34 L646.00,137.83 L645.50,137.33 L645.00,136.82 L644.50,136.31 L644.00,135.80 L643.50,135.34 L643.00,134.94 L642.50,134.54 L642.00,134.14 L641.50,133.75 L641.00,133.35 L640.50,132.95 L640.00,132.55 L639.50,132.15 L639.00,131.75 L638.50,131.36 L638.00,130.96 L637.50,130.56 L637.00,130.16 L636.50,129.83 L636.00,129.55 L635.50,129.27 L635.00,128.99 L634.50,128.71 L634.00,128.44 L633.50,128.16 L633.00,127.88 L632.50,127.60 L632.00,127.32 L631.50,127.04 L631.00,126.76 L630.50,126.48 L630.00,126.20 L629.50,126.01 L629.00,125.81 L628.50,125.62 L628.00,125.43 L627.50,125.23 L627.00,125.04 L626.50,124.96 L626.00,124.92 L625.50,124.87 L625.00,124.83 L624.50,124.79 L624.00,124.74 L623.50,124.70 L623.00,124.65 L622.50,124.61 L622.00,124.56 L621.50,124.52 L621.00,124.47 L620.50,124.43 L620.00,124.46 L619.50,124.62 L619.00,124.78 L618.50,124.94 L618.00,125.10 L617.50,125.26 L617.00,125.42 L616.50,125.58 L616.00,125.74 L615.50,125.90 L615.00,126.05 L614.50,126.21 L614.00,126.37 L613.50,126.62 L613.00,127.23 L612.50,127.84 L612.00,128.46 L611.50,129.07 L611.00,129.68 L610.50,130.29 L610.00,130.90 L609.50,131.51 L609.00,132.23 L608.50,133.36 L608.00,134.50 L607.50,135.64 L607.00,136.77 L606.50,137.91 L606.00,139.05 L605.50,140.18 L605.00,141.32 L604.50,142.44 L604.00,143.56 L603.50,144.67 L603.00,145.78 L602.50,146.89 L602.00,148.00 L601.50,149.11 L601.00,150.22 L600.50,151.33 L600.00,152.34 L599.50,153.18 L599.00,154.02 L598.50,154.86 L598.00,155.70 L597.50,156.54 L597.00,157.38 L596.50,158.22 L596.00,159.06 L595.50,159.73 L595.00,160.27 L594.50,160.82 L594.00,161.36 L593.50,161.90 L593.00,162.45 L592.50,162.99 L592.00,163.54 L591.30,164.30 L582.00,164.30Z" fill="#000" stroke="none"/>
<path d="M582.00,137.71 L582.35,122.10 L582.70,138.57 L583.05,130.97 L583.40,139.08 L583.75,138.64 L584.10,122.02 L584.45,139.29 L584.80,133.69 L585.15,137.29 L585.50,137.60 L585.85,137.19 L586.20,140.43 L586.55,129.88 L586.90,141.17 L587.25,140.85 L587.60,141.66 L587.95,141.07 L588.30,139.95 L588.65,129.14 L589.00,140.72 L589.35,142.60 L589.70,142.19 L590.05,127.05 L590.40,143.31 L590.75,138.13 L591.10,142.04 L591.45,137.76 L591.80,142.85 L592.15,137.56 L592.50,141.41 L592.85,138.94 L593.20,132.61 L593.55,140.72 L593.90,145.26 L594.25,145.62 L594.60,132.23 L594.95,143.10 L595.30,145.93 L595.65,133.05 L596.00,142.38 L596.35,139.60 L596.70,135.87 L597.05,146.49 L597.40,146.15 L597.75,136.74 L598.10,147.81 L598.45,140.24 L598.80,148.31 L599.15,142.38 L599.50,142.37 L599.85,136.19 L600.20,139.51 L600.55,146.48 L600.90,149.30 L601.25,149.67 L601.60,146.81 L601.95,147.30 L602.30,150.45 L602.65,139.72" stroke="#000" stroke-width="0.9" fill="none" stroke-linejoin="round"/>
<path d="M603.00,141.05 L603.35,140.40 L603.70,139.92 L604.05,136.96 L604.40,138.25 L604.75,136.53 L605.10,133.96 L605.45,135.17 L605.80,133.16 L606.15,131.88 L606.50,131.97 L606.85,130.42 L607.20,128.34 L607.55,128.09 L607.90,126.11 L608.25,126.51 L608.60,125.32 L608.95,124.41 L609.30,122.98 L609.65,121.02 L610.00,122.02 L610.35,120.98 L610.70,121.90 L611.05,120.40 L611.40,121.65 L611.75,121.05 L612.10,119.62 L612.45,119.08 L612.80,119.71 L613.15,119.91 L613.50,119.34 L613.85,119.26 L614.20,119.04 L614.55,117.31 L614.90,118.96 L615.25,116.76 L615.60,116.69 L615.95,118.79 L616.30,118.21 L616.65,117.82 L617.00,118.49 L617.35,117.79 L617.70,115.94 L618.05,118.14 L618.40,117.08 L618.75,118.10 L619.10,117.10 L619.45,115.84 L619.80,117.96 L620.15,118.10 L620.50,118.05 L620.85,117.15 L621.20,118.05 L621.55,118.01 L621.90,117.23 L622.25,115.59 L622.60,117.45 L622.95,117.56 L623.30,116.90 L623.65,118.17 L624.00,117.22 L624.35,118.21 L624.70,117.24 L625.05,115.85 L625.40,118.49 L625.75,117.59 L626.10,117.52 L626.45,118.76 L626.80,118.78 L627.15,116.46 L627.50,116.64 L627.85,119.55 L628.20,118.32 L628.55,117.44 L628.90,119.99 L629.25,119.23 L629.60,120.57 L629.95,120.31 L630.30,119.63 L630.65,120.17 L631.00,119.74 L631.35,121.72 L631.70,121.58 L632.05,120.09 L632.40,121.43 L632.75,122.07 L633.10,122.44 L633.45,120.51 L633.80,122.45 L634.15,123.73 L634.50,122.11 L634.85,123.85 L635.20,123.85 L635.55,124.54 L635.90,124.32 L636.25,124.84 L636.60,125.42 L636.95,124.53 L637.30,126.05 L637.65,124.63 L638.00,126.78 L638.35,125.33 L638.70,125.57 L639.05,127.02 L639.40,126.65 L639.75,128.28 L640.10,127.23 L640.45,128.60 L640.80,129.34 L641.15,127.27 L641.50,129.69 L641.85,130.10 L642.20,128.79 L642.55,130.80 L642.90,130.26 L643.25,131.84 L643.60,130.24 L643.95,132.41 L644.30,133.00 L644.65,130.69 L645.00,133.60 L645.35,131.54 L645.70,131.70 L646.05,133.65 L646.40,135.14 L646.75,135.48 L647.10,135.68 L647.45,135.69 L647.80,135.40 L648.15,134.28 L648.50,136.84 L648.85,137.54 L649.20,136.99 L649.55,138.26 L649.90,138.66 L650.25,138.07 L650.60,137.93 L650.95,139.68 L651.30,139.35 L651.65,138.85 L652.00,138.92 L652.35,140.46 L652.70,139.02 L653.05,141.48 L653.40,140.37 L653.75,140.46 L654.10,140.31 L654.45,142.06 L654.80,143.12 L655.15,143.47 L655.50,142.90 L655.85,143.99 L656.20,143.20 L656.55,144.70 L656.90,143.26 L657.25,145.18 L657.60,145.66 L657.95,145.83 L658.30,145.56 L658.65,145.55 L659.00,146.32 L659.35,147.00 L659.70,146.65 L660.05,145.16 L660.40,147.08 L660.75,145.77 L661.10,148.56 L661.45,146.09 L661.80,146.85 L662.15,148.44 L662.50,148.76 L662.85,148.98" stroke="#000" stroke-width="0.8" fill="none" stroke-linejoin="round"/>
<path d="M586.50,164.30V53.00 M588.50,164.30V115.00 M590.50,164.30V120.00 M592.50,164.30V125.00 M605.50,133.13V98.30 M602.50,141.00V103.90 M609.50,123.00V113.90 M614.50,118.17V108.30 M620.50,117.10V115.00 M584.50,164.30V105.00" stroke="#000" stroke-width="1.2" fill="none"/>
<path d="M658.00,146.94 L658.10,147.01 L658.20,147.07 L658.30,147.14 L658.40,147.21 L658.50,147.28 L658.60,147.35 L658.70,147.42 L658.80,147.48 L658.90,147.55 L659.00,147.62 L659.10,147.69 L659.20,147.75 L659.30,147.82 L659.40,147.89 L659.50,147.95 L659.60,148.02 L659.70,148.09 L659.80,148.15 L659.90,148.22 L660.00,148.28 L660.10,148.35 L660.20,148.41 L660.30,148.47 L660.40,148.53 L660.50,148.60 L660.60,148.66 L660.70,148.71 L660.80,148.77 L660.90,148.83 L661.00,148.88 L661.10,148.93 L661.20,148.97 L661.30,149.01 L661.40,149.05 L661.50,149.08 L661.60,149.10 L661.70,149.10 L661.80,149.09 L661.90,149.06 L662.00,148.99 L662.10,148.88 L662.20,148.70 L662.30,148.45 L662.40,148.08 L662.50,147.59 L662.60,146.98 L662.70,146.33 L662.80,145.81 L662.90,145.64 L663.00,145.63 L663.10,146.07 L663.20,146.65 L663.30,147.28 L663.40,147.89 L663.50,148.45 L663.60,148.95 L663.70,149.38 L663.80,149.75 L663.90,150.07 L664.00,150.35 L664.10,150.59 L664.20,150.81 L664.30,151.01 L664.40,151.19 L664.50,151.35 L664.60,151.50 L664.70,151.65 L664.80,151.78 L664.90,151.91 L665.00,152.03 L665.10,152.14 L665.20,152.25 L665.30,152.35 L665.40,152.35 L665.50,152.35 L665.60,152.34 L665.70,152.33 L665.80,152.30 L665.90,152.27 L666.00,152.22 L666.10,152.16 L666.20,152.09 L666.30,152.00 L666.40,151.89 L666.50,151.74 L666.60,151.57 L666.70,151.35 L666.80,151.08 L666.90,150.74 L667.00,150.32 L667.10,149.78 L667.20,149.09 L667.30,148.21 L667.40,147.09 L667.50,145.64 L667.60,143.82 L667.70,141.54 L667.80,138.84 L667.90,135.85 L668.00,132.96 L668.10,130.80 L668.20,130.00 L668.30,130.49 L668.40,131.82 L668.50,133.76 L668.60,136.00 L668.70,138.30 L668.80,140.48 L668.90,142.43 L669.00,144.13 L669.10,145.58 L669.20,146.80 L669.30,147.83 L669.40,148.68 L669.50,149.40 L669.60,150.01 L669.70,150.51 L669.80,150.95 L669.90,151.31 L670.00,151.63 L670.10,151.90 L670.20,152.14 L670.30,152.34 L670.40,152.53 L670.50,152.69 L670.60,152.83 L670.70,152.95 L670.80,153.07 L670.90,153.17 L671.00,153.26 L671.10,153.34 L671.20,153.42 L671.30,153.49 L671.40,153.55 L671.50,153.61 L671.60,153.66 L671.70,153.71 L671.80,153.75 L671.90,153.79 L672.00,153.83 L672.10,153.87 L672.20,153.90 L672.30,153.94 L672.40,153.96 L672.50,153.99 L672.60,154.01 L672.70,154.02 L672.80,154.03 L672.90,154.03 L673.00,154.03 L673.10,154.01 L673.20,153.99 L673.30,153.96 L673.40,153.91 L673.50,153.84 L673.60,153.76 L673.70,153.64 L673.80,153.50 L673.90,153.31 L674.00,153.07 L674.10,152.76 L674.20,152.35 L674.30,151.83 L674.40,151.16 L674.50,150.29 L674.60,149.18 L674.70,147.79 L674.80,146.14 L674.90,144.32 L675.00,142.56 L675.10,141.24 L675.20,140.77 L675.30,140.98 L675.40,141.55 L675.50,142.40 L675.60,143.44 L675.70,144.58 L675.80,145.74 L675.90,146.86 L676.00,147.90 L676.10,148.85 L676.20,149.70 L676.30,150.45 L676.40,151.10 L676.50,151.68 L676.60,152.17 L676.70,152.61 L676.80,152.99 L676.90,153.33 L677.00,153.62 L677.10,153.88 L677.20,154.11 L677.30,154.31 L677.40,154.50 L677.50,154.66 L677.60,154.81 L677.70,154.95 L677.80,155.07 L677.90,155.19 L678.00,155.29 L678.10,155.39 L678.20,155.48 L678.30,155.56 L678.40,155.64 L678.50,155.72 L678.60,155.78 L678.70,155.85 L678.80,155.91 L678.90,155.97 L679.00,156.03 L679.10,156.08 L679.20,156.13 L679.30,156.18 L679.40,156.23 L679.50,156.28 L679.60,156.32 L679.70,156.36 L679.80,156.41 L679.90,156.45 L680.00,156.49 L680.10,156.53 L680.20,156.57 L680.30,156.61 L680.40,156.64 L680.50,156.68 L680.60,156.72 L680.70,156.75 L680.80,156.79 L680.90,156.82 L681.00,156.86 L681.10,156.89 L681.20,156.93 L681.30,156.96 L681.40,156.99 L681.50,157.03 L681.60,157.06 L681.70,157.09 L681.80,157.12 L681.90,157.16 L682.00,157.19 L682.10,157.24 L682.20,157.28 L682.30,157.33 L682.40,157.38 L682.50,157.43 L682.60,157.47 L682.70,157.52 L682.80,157.57 L682.90,157.62 L683.00,157.66 L683.10,157.71 L683.20,157.76 L683.30,157.80 L683.40,157.85 L683.50,157.89 L683.60,157.94 L683.70,157.99 L683.80,158.03 L683.90,158.08 L684.00,158.13 L684.10,158.17 L684.20,158.22 L684.30,158.26 L684.40,158.31 L684.50,158.35 L684.60,158.40 L684.70,158.45 L684.80,158.49 L684.90,158.54 L685.00,158.58 L685.10,158.63 L685.20,158.67 L685.30,158.72 L685.40,158.76 L685.50,158.81 L685.60,158.85 L685.70,158.90 L685.80,158.94 L685.90,158.99 L686.00,159.03 L686.10,159.08 L686.20,159.12 L686.30,159.17 L686.40,159.21 L686.50,159.26 L686.60,159.30 L686.70,159.35 L686.80,159.39 L686.90,159.44 L687.00,159.48 L687.10,159.53 L687.20,159.57 L687.30,159.62 L687.40,159.66 L687.50,159.71 L687.60,159.75 L687.70,159.80 L687.80,159.84 L687.90,159.89 L688.00,159.93 L688.10,159.98 L688.20,160.02 L688.30,160.07 L688.40,160.11 L688.50,160.16 L688.60,160.20 L688.70,160.25 L688.80,160.29 L688.90,160.33 L689.00,160.38 L689.10,160.39 L689.20,160.41 L689.30,160.42 L689.40,160.43 L689.50,160.45 L689.60,160.46 L689.70,160.48 L689.80,160.49 L689.90,160.50 L690.00,160.52 L690.10,160.53 L690.20,160.55 L690.30,160.56 L690.40,160.57 L690.50,160.59 L690.60,160.60 L690.70,160.62 L690.80,160.63 L690.90,160.64 L691.00,160.66 L691.10,160.67 L691.20,160.69 L691.30,160.70 L691.40,160.71 L691.50,160.73 L691.60,160.74 L691.70,160.75 L691.80,160.77 L691.90,160.78 L692.00,160.80 L692.10,160.81 L692.20,160.82 L692.30,160.84 L692.40,160.85 L692.50,160.86 L692.60,160.88 L692.70,160.89 L692.80,160.91 L692.90,160.92 L693.00,160.93 L693.10,160.95 L693.20,160.96 L693.30,160.98 L693.40,160.99 L693.50,161.00 L693.60,161.02 L693.70,161.03 L693.80,161.04 L693.90,161.06 L694.00,161.07 L694.10,161.09 L694.20,161.10 L694.30,161.11 L694.40,161.13 L694.50,161.14 L694.60,161.15 L694.70,161.17 L694.80,161.18 L694.90,161.20 L695.00,161.21 L695.10,161.22 L695.20,161.24 L695.30,161.25 L695.40,161.26 L695.50,161.28 L695.60,161.29 L695.70,161.31 L695.80,161.32 L695.90,161.33 L696.00,161.35 L696.10,161.36 L696.20,161.37 L696.30,161.39 L696.40,161.40 L696.50,161.42 L696.60,161.43 L696.70,161.44 L696.80,161.46 L696.90,161.47 L697.00,161.48 L697.10,161.50 L697.20,161.51 L697.30,161.52 L697.40,161.54 L697.50,161.55 L697.60,161.57 L697.70,161.58 L697.80,161.59 L697.90,161.60 L698.00,161.60 L698.10,161.61 L698.20,161.62 L698.30,161.62 L698.40,161.63 L698.50,161.63 L698.60,161.64 L698.70,161.64 L698.80,161.65 L698.90,161.66 L699.00,161.66 L699.10,161.67 L699.20,161.67 L699.30,161.68 L699.40,161.68 L699.50,161.69 L699.60,161.70 L699.70,161.70 L699.80,161.71 L699.90,161.71 L700.00,161.72 L700.10,161.72 L700.20,161.73 L700.30,161.74 L700.40,161.74 L700.50,161.75 L700.60,161.75 L700.70,161.76 L700.80,161.76 L700.90,161.77 L701.00,161.78 L701.10,161.78 L701.20,161.79 L701.30,161.79 L701.40,161.80 L701.50,161.80 L701.60,161.81 L701.70,161.81 L701.80,161.82 L701.90,161.83 L702.00,161.83 L702.10,161.84 L702.20,161.84 L702.30,161.85 L702.40,161.85 L702.50,161.86 L702.60,161.87 L702.70,161.87 L702.80,161.88 L702.90,161.88 L703.00,161.89 L703.10,161.89 L703.20,161.90 L703.30,161.91 L703.40,161.91 L703.50,161.92 L703.60,161.92 L703.70,161.93 L703.80,161.93 L703.90,161.94 L704.00,161.94 L704.10,161.95 L704.20,161.96 L704.30,161.96 L704.40,161.97 L704.50,161.97 L704.60,161.98 L704.70,161.98 L704.80,161.99 L704.90,162.00 L705.00,162.00 L705.10,162.01 L705.20,162.01 L705.30,162.02 L705.40,162.02 L705.50,162.03 L705.60,162.04 L705.70,162.04 L705.80,162.05 L705.90,162.05 L706.00,162.06 L706.10,162.06 L706.20,162.07 L706.30,162.07 L706.40,162.08 L706.50,162.09 L706.60,162.09 L706.70,162.10 L706.80,162.10 L706.90,162.10 L707.00,162.11 L707.10,162.11 L707.20,162.12 L707.30,162.12 L707.40,162.12 L707.50,162.13 L707.60,162.13 L707.70,162.13 L707.80,162.14 L707.90,162.14 L708.00,162.15 L708.10,162.15 L708.20,162.15 L708.30,162.16 L708.40,162.16 L708.50,162.17 L708.60,162.17 L708.70,162.17 L708.80,162.18 L708.90,162.18 L709.00,162.18 L709.10,162.19 L709.20,162.19 L709.30,162.20 L709.40,162.20 L709.50,162.20 L709.60,162.21 L709.70,162.21 L709.80,162.21 L709.90,162.22 L710.00,162.22 L710.10,162.23 L710.20,162.23 L710.30,162.23 L710.40,162.24 L710.50,162.24 L710.60,162.24 L710.70,162.25 L710.80,162.25 L710.90,162.26 L711.00,162.26 L711.10,162.26 L711.20,162.27 L711.30,162.27 L711.40,162.27 L711.50,162.28 L711.60,162.28 L711.70,162.29 L711.80,162.29 L711.90,162.29 L712.00,162.30 L712.10,162.30 L712.20,162.30 L712.30,162.31 L712.40,162.31 L712.50,162.32 L712.60,162.32 L712.70,162.32 L712.80,162.33 L712.90,162.33 L713.00,162.33 L713.10,162.34 L713.20,162.34 L713.30,162.35 L713.40,162.35 L713.50,162.35 L713.60,162.36 L713.70,162.36 L713.80,162.37 L713.90,162.37 L714.00,162.37 L714.10,162.38 L714.20,162.38 L714.30,162.38 L714.40,162.39 L714.50,162.39 L714.60,162.40 L714.70,162.40 L714.80,162.40 L714.90,162.41 L715.00,162.41 L715.10,162.41 L715.20,162.42 L715.30,162.42 L715.40,162.43 L715.50,162.43 L715.60,162.43 L715.70,162.44 L715.80,162.44 L715.90,162.44 L716.00,162.45 L716.10,162.45 L716.20,162.46 L716.30,162.46 L716.40,162.46 L716.50,162.47 L716.60,162.47 L716.70,162.47 L716.80,162.48 L716.90,162.48 L717.00,162.49 L717.10,162.49 L717.20,162.49 L717.30,162.50 L717.40,162.50 L717.50,162.50 L717.60,162.51 L717.70,162.51 L717.80,162.52 L717.90,162.52 L718.00,162.52 L718.10,162.53 L718.20,162.53 L718.30,162.53 L718.40,162.54 L718.50,162.54 L718.60,162.55 L718.70,162.55 L718.80,162.55 L718.90,162.56 L719.00,162.56 L719.10,162.56 L719.20,162.57 L719.30,162.57 L719.40,162.58 L719.50,162.58 L719.60,162.58 L719.70,162.59 L719.80,162.59 L719.90,162.59" stroke="#000" stroke-width="1.5" fill="none" stroke-linejoin="round"/>
<path d="M582,164.3H720" stroke="#000" stroke-width="1.0"/>
<text x="589.5" y="80.1" font-size="14" fill="#e5007e" font-weight="normal" font-style="italic" text-anchor="start" >Monomer</text>
<text x="648.4" y="107.9" font-size="14" fill="#e5007e" font-weight="normal" font-style="italic" text-anchor="start" >Tetramer</text>
<path d="M582.00,292.69 L582.40,293.30 L582.80,292.65 L583.20,293.86 L583.60,291.14 L584.00,291.06 L584.40,292.24 L584.80,293.92 L585.20,292.93 L585.60,293.61 L586.00,293.79 L586.40,289.95 L586.80,289.53 L587.20,294.00 L587.60,290.77 L588.00,292.52 L588.40,293.46 L588.80,293.72 L589.20,292.10 L589.60,293.20 L590.00,292.04 L590.40,292.18 L590.80,293.95 L591.20,291.48 L591.60,289.67 L592.00,289.80 L592.40,292.46 L592.80,294.00 L593.20,294.00 L593.60,293.95 L594.00,290.06 L594.40,293.67 L594.80,293.51 L595.20,290.45 L595.60,293.65 L596.00,292.80 L596.40,293.28 L596.80,293.99 L597.20,292.62 L597.60,290.90 L598.00,293.92 L598.40,293.83 L598.80,293.36 L599.20,294.00 L599.60,293.04 L600.00,291.11 L600.40,292.21 L600.80,292.87 L601.20,290.81 L601.60,293.93 L602.00,292.71 L602.40,293.48 L602.80,292.53 L603.20,293.96 L603.60,291.43 L604.00,293.97 L604.40,293.91 L604.80,291.19 L605.20,290.00 L605.60,293.29 L606.00,293.35 L606.40,293.80 L606.80,293.74 L607.20,292.44 L607.60,293.90 L608.00,293.96 L608.40,293.20 L608.80,293.91 L609.20,292.26 L609.60,291.08 L610.00,291.41 L610.40,293.10 L610.80,293.56 L611.20,293.28 L611.60,294.00 L612.00,291.86 L612.40,293.60 L612.80,293.63 L613.20,293.98 L613.60,293.23 L614.00,292.63 L614.40,293.43 L614.80,290.69 L615.20,292.11 L615.60,293.80 L616.00,292.91 L616.40,290.34 L616.80,292.93 L617.20,292.53 L617.60,293.99 L618.00,293.07 L618.40,293.18 L618.80,293.40 L619.20,293.33 L619.60,292.62 L620.00,292.85 L620.40,293.06 L620.80,293.91 L621.20,293.26 L621.60,289.80 L622.00,293.35 L622.40,294.00 L622.80,294.00 L623.20,292.86 L623.60,293.99 L624.00,293.98 L624.40,293.97 L624.80,293.21 L625.20,289.57 L625.60,293.08 L626.00,293.19 L626.40,293.27 L626.80,293.02 L627.20,293.23 L627.60,291.77 L628.00,290.45 L628.40,291.96 L628.80,293.32 L629.20,292.26 L629.60,290.35 L630.00,293.93 L630.40,293.81 L630.80,292.43 L631.20,292.03 L631.60,292.30 L632.00,292.60 L632.40,291.02 L632.80,293.11 L633.20,291.19 L633.60,289.86 L634.00,293.28 L634.40,290.78 L634.80,291.83 L635.20,290.53 L635.60,293.99 L636.00,290.32 L636.40,291.49 L636.80,289.86 L637.20,289.68 L637.60,293.71 L638.00,292.14 L638.40,293.94 L638.80,292.56 L639.20,290.26 L639.60,293.88 L640.00,293.55 L640.40,293.98 L640.80,293.88 L641.20,293.86 L641.60,293.97 L642.00,289.50 L642.40,290.54 L642.80,293.17 L643.20,291.65 L643.60,291.98 L644.00,292.92 L644.40,293.32 L644.80,292.17 L645.20,292.77 L645.60,293.76 L646.00,293.51 L646.40,292.39 L646.80,292.39 L647.20,293.86 L647.60,292.48 L648.00,290.65 L648.40,290.68 L648.80,292.24 L649.20,293.99 L649.60,293.32 L650.00,293.98 L650.40,293.99 L650.80,293.85 L651.20,293.46 L651.60,292.36 L652.00,292.92 L652.40,293.81 L652.80,292.65 L653.20,293.33 L653.60,293.33 L654.00,293.84 L654.40,293.50 L654.80,293.72 L655.20,292.51 L655.60,293.40 L656.00,293.49 L656.40,293.41 L656.80,293.40 L657.20,292.68 L657.60,292.54 L658.00,292.16 L658.40,293.59 L658.80,292.20 L659.20,291.23 L659.60,291.05 L660.00,292.54 L660.40,293.99 L660.80,291.92 L661.20,291.97 L661.60,294.00 L662.00,293.74 L662.40,293.75 L662.80,292.45 L663.20,292.99 L663.60,293.81 L664.00,293.93 L664.40,293.94 L664.80,293.98 L665.20,292.21 L665.60,291.41 L666.00,293.89 L666.40,292.43 L666.80,291.31 L667.20,293.92 L667.60,293.12 L668.00,293.51 L668.40,291.16 L668.80,291.79 L669.20,294.00 L669.60,293.91 L670.00,291.91 L670.40,293.11 L670.80,293.28 L671.20,292.11 L671.60,292.34 L672.00,291.29 L672.40,293.74 L672.80,294.00 L673.20,292.66 L673.60,294.00 L674.00,293.15 L674.40,291.85 L674.80,293.61 L675.20,293.02 L675.60,293.94 L676.00,293.95 L676.40,293.00 L676.80,291.82 L677.20,291.00 L677.60,294.00 L678.00,291.50 L678.40,293.31 L678.80,293.70 L679.20,293.61 L679.60,293.10 L680.00,293.71 L680.40,293.96 L680.80,291.82 L681.20,292.60 L681.60,292.99 L682.00,292.53 L682.40,291.09 L682.80,293.94 L683.20,292.04 L683.60,292.05 L684.00,293.71 L684.40,293.17 L684.80,293.46 L685.20,293.92 L685.60,293.52 L686.00,293.95 L686.40,291.43 L686.80,293.92 L687.20,292.90 L687.60,293.13 L688.00,291.16 L688.40,292.20 L688.80,293.68 L689.20,293.65 L689.60,294.00 L690.00,294.00 L690.40,293.89 L690.80,292.66 L691.20,294.00 L691.60,293.97 L692.00,293.45 L692.40,293.84 L692.80,293.96 L693.20,292.67 L693.60,294.00 L694.00,293.52 L694.40,293.77 L694.80,293.86 L695.20,293.96 L695.60,293.97 L696.00,293.79 L696.40,293.20 L696.80,293.72 L697.20,293.14 L697.60,292.87 L698.00,293.97 L698.40,292.87 L698.80,293.55 L699.20,293.78 L699.60,293.65 L700.00,292.84 L700.40,293.81 L700.80,293.99 L701.20,292.63 L701.60,293.99 L702.00,293.99 L702.40,293.27 L702.80,293.89 L703.20,293.90 L703.60,293.42 L704.00,292.84 L704.40,293.86 L704.80,292.79 L705.20,293.48 L705.60,293.50 L706.00,293.62 L706.40,294.00 L706.80,293.97 L707.20,293.36 L707.60,293.33 L708.00,293.99 L708.40,293.44 L708.80,293.71 L709.20,293.55 L709.60,293.80 L710.00,293.95 L710.40,293.85 L710.80,292.60 L711.20,293.96 L711.60,292.92 L712.00,293.63 L712.40,293.99 L712.80,293.05 L713.20,294.00 L713.60,292.99 L714.00,293.86 L714.40,292.76 L714.80,293.26 L715.20,293.84 L715.60,293.47 L716.00,292.54 L716.40,293.97 L716.80,293.95 L717.20,293.90 L717.60,293.03 L718.00,293.93 L718.40,293.93 L718.80,293.49 L719.20,293.54 L719.60,293.78 L720.00,293.60" stroke="#000" stroke-width="0.8" fill="none" stroke-linejoin="round"/>
<path d="M598.50,294.00V278.75 M609.50,294.00V230.00 M586.50,294.00V290.00" stroke="#000" stroke-width="1.2" fill="none"/>
<path d="M660.00,293.93 L660.10,293.92 L660.20,293.92 L660.30,293.92 L660.40,293.92 L660.50,293.91 L660.60,293.91 L660.70,293.91 L660.80,293.90 L660.90,293.90 L661.00,293.90 L661.10,293.89 L661.20,293.89 L661.30,293.88 L661.40,293.88 L661.50,293.87 L661.60,293.87 L661.70,293.86 L661.80,293.86 L661.90,293.85 L662.00,293.84 L662.10,293.84 L662.20,293.83 L662.30,293.82 L662.40,293.81 L662.50,293.81 L662.60,293.80 L662.70,293.79 L662.80,293.78 L662.90,293.76 L663.00,293.75 L663.10,293.74 L663.20,293.73 L663.30,293.71 L663.40,293.69 L663.50,293.68 L663.60,293.66 L663.70,293.64 L663.80,293.62 L663.90,293.60 L664.00,293.57 L664.10,293.54 L664.20,293.51 L664.30,293.48 L664.40,293.45 L664.50,293.41 L664.60,293.37 L664.70,293.32 L664.80,293.27 L664.90,293.22 L665.00,293.16 L665.10,293.09 L665.20,293.02 L665.30,292.93 L665.40,292.84 L665.50,292.74 L665.60,292.63 L665.70,292.50 L665.80,292.36 L665.90,292.19 L666.00,292.01 L666.10,291.80 L666.20,291.56 L666.30,291.29 L666.40,290.98 L666.50,290.61 L666.60,290.19 L666.70,289.70 L666.80,289.13 L666.90,288.46 L667.00,287.67 L667.10,286.73 L667.20,285.61 L667.30,284.27 L667.40,282.67 L667.50,280.72 L667.60,278.37 L667.70,275.52 L667.80,272.06 L667.90,267.87 L668.00,262.82 L668.10,256.80 L668.20,249.72 L668.30,241.61 L668.40,232.67 L668.50,223.34 L668.60,214.36 L668.70,206.74 L668.80,201.57 L668.90,199.73 L669.00,200.95 L669.10,204.47 L669.20,209.88 L669.30,216.60 L669.40,224.04 L669.50,231.65 L669.60,239.03 L669.70,245.91 L669.80,252.13 L669.90,257.65 L670.00,262.46 L670.10,266.61 L670.20,270.17 L670.30,273.21 L670.40,275.79 L670.50,277.98 L670.60,279.83 L670.70,281.40 L670.80,282.73 L670.90,283.85 L671.00,284.79 L671.10,285.59 L671.20,286.24 L671.30,286.78 L671.40,287.22 L671.50,287.57 L671.60,287.83 L671.70,288.00 L671.80,288.10 L671.90,288.13 L672.00,288.07 L672.10,287.94 L672.20,287.72 L672.30,287.40 L672.40,286.98 L672.50,286.44 L672.60,285.76 L672.70,284.93 L672.80,283.90 L672.90,282.64 L673.00,281.12 L673.10,279.29 L673.20,277.08 L673.30,274.43 L673.40,271.28 L673.50,267.57 L673.60,263.26 L673.70,258.35 L673.80,252.92 L673.90,247.13 L674.00,241.31 L674.10,235.89 L674.20,231.44 L674.30,228.50 L674.40,227.49 L674.50,228.05 L674.60,229.64 L674.70,232.14 L674.80,235.38 L674.90,239.14 L675.00,243.23 L675.10,247.46 L675.20,251.67 L675.30,255.73 L675.40,259.57 L675.50,263.13 L675.60,266.38 L675.70,269.33 L675.80,271.97 L675.90,274.34 L676.00,276.43 L676.10,278.29 L676.20,279.93 L676.30,281.39 L676.40,282.67 L676.50,283.80 L676.60,284.80 L676.70,285.69 L676.80,286.47 L676.90,287.17 L677.00,287.79 L677.10,288.34 L677.20,288.83 L677.30,289.27 L677.40,289.67 L677.50,290.02 L677.60,290.34 L677.70,290.62 L677.80,290.88 L677.90,291.12 L678.00,291.33 L678.10,291.52 L678.20,291.70 L678.30,291.86 L678.40,292.00 L678.50,292.13 L678.60,292.26 L678.70,292.37 L678.80,292.47 L678.90,292.56 L679.00,292.65 L679.10,292.73 L679.20,292.80 L679.30,292.87 L679.40,292.94 L679.50,293.00 L679.60,293.05 L679.70,293.10 L679.80,293.15 L679.90,293.19 L680.00,293.23 L680.10,293.27 L680.20,293.31 L680.30,293.34 L680.40,293.37 L680.50,293.40 L680.60,293.43 L680.70,293.46 L680.80,293.48 L680.90,293.50 L681.00,293.53 L681.10,293.55 L681.20,293.57 L681.30,293.58 L681.40,293.60 L681.50,293.62 L681.60,293.63 L681.70,293.65 L681.80,293.66 L681.90,293.68 L682.00,293.69 L682.10,293.70 L682.20,293.71 L682.30,293.72 L682.40,293.73 L682.50,293.74 L682.60,293.75 L682.70,293.76 L682.80,293.77 L682.90,293.78 L683.00,293.78 L683.10,293.79 L683.20,293.80 L683.30,293.80 L683.40,293.81 L683.50,293.82 L683.60,293.82 L683.70,293.83 L683.80,293.83 L683.90,293.84 L684.00,293.84 L684.10,293.85 L684.20,293.85 L684.30,293.86 L684.40,293.86 L684.50,293.87 L684.60,293.87 L684.70,293.87 L684.80,293.88 L684.90,293.88 L685.00,293.88 L685.10,293.89 L685.20,293.89 L685.30,293.89 L685.40,293.90 L685.50,293.90 L685.60,293.90 L685.70,293.90 L685.80,293.91 L685.90,293.91 L686.00,293.91 L686.10,293.91 L686.20,293.92 L686.30,293.92 L686.40,293.92 L686.50,293.92 L686.60,293.92 L686.70,293.93 L686.80,293.93 L686.90,293.93 L687.00,293.93 L687.10,293.93 L687.20,293.93 L687.30,293.94 L687.40,293.94 L687.50,293.94 L687.60,293.94 L687.70,293.94 L687.80,293.94 L687.90,293.94 L688.00,293.94 L688.10,293.95 L688.20,293.95 L688.30,293.95 L688.40,293.95 L688.50,293.95 L688.60,293.95 L688.70,293.95 L688.80,293.95 L688.90,293.95 L689.00,293.96 L689.10,293.96 L689.20,293.96 L689.30,293.96 L689.40,293.96 L689.50,293.96 L689.60,293.96 L689.70,293.96 L689.80,293.96 L689.90,293.96Z" fill="#9a9a9a" stroke="#777" stroke-width="1.0"/>
<path d="M650.00,293.99 L650.10,293.99 L650.20,293.99 L650.30,293.99 L650.40,293.99 L650.50,293.99 L650.60,293.99 L650.70,293.99 L650.80,293.99 L650.90,293.99 L651.00,293.99 L651.10,293.99 L651.20,293.99 L651.30,293.99 L651.40,293.99 L651.50,293.99 L651.60,293.99 L651.70,293.99 L651.80,293.99 L651.90,293.99 L652.00,293.99 L652.10,293.99 L652.20,293.99 L652.30,293.99 L652.40,293.98 L652.50,293.98 L652.60,293.98 L652.70,293.98 L652.80,293.98 L652.90,293.98 L653.00,293.98 L653.10,293.98 L653.20,293.98 L653.30,293.97 L653.40,293.97 L653.50,293.97 L653.60,293.97 L653.70,293.97 L653.80,293.96 L653.90,293.96 L654.00,293.96 L654.10,293.95 L654.20,293.95 L654.30,293.94 L654.40,293.94 L654.50,293.93 L654.60,293.92 L654.70,293.92 L654.80,293.90 L654.90,293.89 L655.00,293.88 L655.10,293.86 L655.20,293.83 L655.30,293.81 L655.40,293.77 L655.50,293.72 L655.60,293.67 L655.70,293.59 L655.80,293.49 L655.90,293.35 L656.00,293.17 L656.10,292.91 L656.20,292.55 L656.30,292.02 L656.40,291.25 L656.50,290.11 L656.60,288.46 L656.70,286.20 L656.80,283.48 L656.90,281.01 L657.00,279.97 L657.10,280.68 L657.20,282.49 L657.30,284.73 L657.40,286.86 L657.50,288.62 L657.60,289.96 L657.70,290.96 L657.80,291.68 L657.90,292.21 L658.00,292.59 L658.10,292.88 L658.20,293.09 L658.30,293.25 L658.40,293.37 L658.50,293.47 L658.60,293.54 L658.70,293.60 L658.80,293.64 L658.90,293.67 L659.00,293.70 L659.10,293.72 L659.20,293.73 L659.30,293.74 L659.40,293.74 L659.50,293.74 L659.60,293.74 L659.70,293.73 L659.80,293.72 L659.90,293.71 L660.00,293.69 L660.10,293.66 L660.20,293.63 L660.30,293.59 L660.40,293.55 L660.50,293.49 L660.60,293.42 L660.70,293.34 L660.80,293.23 L660.90,293.11 L661.00,292.94 L661.10,292.74 L661.20,292.48 L661.30,292.14 L661.40,291.69 L661.50,291.10 L661.60,290.30 L661.70,289.20 L661.80,287.67 L661.90,285.52 L662.00,282.47 L662.10,278.18 L662.20,272.29 L662.30,264.73 L662.40,256.26 L662.50,249.07 L662.60,246.16 L662.70,248.21 L662.80,253.56 L662.90,260.49 L663.00,267.38 L663.10,273.36 L663.20,278.13 L663.30,281.80 L663.40,284.56 L663.50,286.62 L663.60,288.16 L663.70,289.32 L663.80,290.20 L663.90,290.87 L664.00,291.39 L664.10,291.80 L664.20,292.11 L664.30,292.36 L664.40,292.56 L664.50,292.71 L664.60,292.83 L664.70,292.92 L664.80,292.99 L664.90,293.05 L665.00,293.08 L665.10,293.10 L665.20,293.11 L665.30,293.10 L665.40,293.08 L665.50,293.04 L665.60,292.99 L665.70,292.92 L665.80,292.84 L665.90,292.73 L666.00,292.59 L666.10,292.43 L666.20,292.23 L666.30,291.98 L666.40,291.67 L666.50,291.29 L666.60,290.81 L666.70,290.21 L666.80,289.44 L666.90,288.44 L667.00,287.15 L667.10,285.45 L667.20,283.18 L667.30,280.11 L667.40,275.93 L667.50,270.20 L667.60,262.34 L667.70,251.72 L667.80,237.84 L667.90,221.02 L668.00,203.27 L668.10,188.96 L668.20,183.35 L668.30,186.42 L668.40,194.85 L668.50,206.70 L668.60,219.80 L668.70,232.47 L668.80,243.75 L668.90,253.26 L669.00,261.04 L669.10,267.27 L669.20,272.23 L669.30,276.16 L669.40,279.26 L669.50,281.74 L669.60,283.71 L669.70,285.29 L669.80,286.56 L669.90,287.60 L670.00,288.44 L670.10,289.13 L670.20,289.69 L670.30,290.16 L670.40,290.54 L670.50,290.85 L670.60,291.10 L670.70,291.31 L670.80,291.46 L670.90,291.58 L671.00,291.67 L671.10,291.72 L671.20,291.74 L671.30,291.72 L671.40,291.68 L671.50,291.60 L671.60,291.48 L671.70,291.31 L671.80,291.10 L671.90,290.83 L672.00,290.49 L672.10,290.07 L672.20,289.55 L672.30,288.89 L672.40,288.08 L672.50,287.07 L672.60,285.80 L672.70,284.20 L672.80,282.19 L672.90,279.65 L673.00,276.43 L673.10,272.38 L673.20,267.32 L673.30,261.13 L673.40,253.79 L673.50,245.54 L673.60,237.01 L673.70,229.30 L673.80,223.82 L673.90,221.82 L674.00,222.77 L674.10,225.49 L674.20,229.65 L674.30,234.83 L674.40,240.55 L674.50,246.40 L674.60,252.08 L674.70,257.37 L674.80,262.17 L674.90,266.42 L675.00,270.14 L675.10,273.35 L675.20,276.11 L675.30,278.48 L675.40,280.49 L675.50,282.22 L675.60,283.69 L675.70,284.94 L675.80,286.02 L675.90,286.95 L676.00,287.74 L676.10,288.43 L676.20,289.02 L676.30,289.54 L676.40,289.99 L676.50,290.39 L676.60,290.73 L676.70,291.03 L676.80,291.30 L676.90,291.54 L677.00,291.75 L677.10,291.93 L677.20,292.09 L677.30,292.24 L677.40,292.37 L677.50,292.49 L677.60,292.59 L677.70,292.69 L677.80,292.77 L677.90,292.84 L678.00,292.91 L678.10,292.96 L678.20,293.01 L678.30,293.06 L678.40,293.09 L678.50,293.12 L678.60,293.15 L678.70,293.17 L678.80,293.18 L678.90,293.18 L679.00,293.18 L679.10,293.17 L679.20,293.15 L679.30,293.11 L679.40,293.07 L679.50,293.01 L679.60,292.93 L679.70,292.82 L679.80,292.69 L679.90,292.52 L680.00,292.30 L680.10,292.01 L680.20,291.65 L680.30,291.18 L680.40,290.57 L680.50,289.79 L680.60,288.79 L680.70,287.53 L680.80,285.99 L680.90,284.21 L681.00,282.31 L681.10,280.53 L681.20,279.24 L681.30,278.77 L681.40,278.94 L681.50,279.41 L681.60,280.16 L681.70,281.10 L681.80,282.15 L681.90,283.26 L682.00,284.37 L682.10,285.42 L682.20,286.39 L682.30,287.27 L682.40,288.06 L682.50,288.74 L682.60,289.34 L682.70,289.85 L682.80,290.29 L682.90,290.65 L683.00,290.95 L683.10,291.20 L683.20,291.40 L683.30,291.54 L683.40,291.64 L683.50,291.70 L683.60,291.70 L683.70,291.65 L683.80,291.54 L683.90,291.36 L684.00,291.10 L684.10,290.74 L684.20,290.28 L684.30,289.69 L684.40,288.96 L684.50,288.11 L684.60,287.16 L684.70,286.21 L684.80,285.37 L684.90,284.79 L685.00,284.60 L685.10,284.69 L685.20,284.90 L685.30,285.22 L685.40,285.63 L685.50,286.11 L685.60,286.64 L685.70,287.18 L685.80,287.73 L685.90,288.28 L686.00,288.79 L686.10,289.28 L686.20,289.73 L686.30,290.15 L686.40,290.53 L686.50,290.87 L686.60,291.18 L686.70,291.46 L686.80,291.70 L686.90,291.92 L687.00,292.12 L687.10,292.29 L687.20,292.45 L687.30,292.59 L687.40,292.72 L687.50,292.83 L687.60,292.93 L687.70,293.02 L687.80,293.10 L687.90,293.17 L688.00,293.23 L688.10,293.29 L688.20,293.34 L688.30,293.39 L688.40,293.44 L688.50,293.48 L688.60,293.51 L688.70,293.54 L688.80,293.57 L688.90,293.60 L689.00,293.63 L689.10,293.65 L689.20,293.67 L689.30,293.69 L689.40,293.71 L689.50,293.73 L689.60,293.74 L689.70,293.76 L689.80,293.77 L689.90,293.78 L690.00,293.79 L690.10,293.80 L690.20,293.81 L690.30,293.82 L690.40,293.83 L690.50,293.84 L690.60,293.85 L690.70,293.85 L690.80,293.86 L690.90,293.87 L691.00,293.87 L691.10,293.88 L691.20,293.88 L691.30,293.89 L691.40,293.89 L691.50,293.90 L691.60,293.90 L691.70,293.90 L691.80,293.91 L691.90,293.91 L692.00,293.91 L692.10,293.92 L692.20,293.92 L692.30,293.92 L692.40,293.93 L692.50,293.93 L692.60,293.93 L692.70,293.93 L692.80,293.94 L692.90,293.94 L693.00,293.94 L693.10,293.94 L693.20,293.94 L693.30,293.95 L693.40,293.95 L693.50,293.95 L693.60,293.95 L693.70,293.95 L693.80,293.95 L693.90,293.95 L694.00,293.96 L694.10,293.96 L694.20,293.96 L694.30,293.96 L694.40,293.96 L694.50,293.96 L694.60,293.96 L694.70,293.96 L694.80,293.97 L694.90,293.97 L695.00,293.97 L695.10,293.97 L695.20,293.97 L695.30,293.97 L695.40,293.97 L695.50,293.97 L695.60,293.97 L695.70,293.97 L695.80,293.97 L695.90,293.97 L696.00,293.97 L696.10,293.97 L696.20,293.98 L696.30,293.98 L696.40,293.98 L696.50,293.98 L696.60,293.98 L696.70,293.98 L696.80,293.98 L696.90,293.98 L697.00,293.98 L697.10,293.98 L697.20,293.98 L697.30,293.98 L697.40,293.98 L697.50,293.98 L697.60,293.98 L697.70,293.98 L697.80,293.98 L697.90,293.98 L698.00,293.98 L698.10,293.98 L698.20,293.98 L698.30,293.98 L698.40,293.98 L698.50,293.98 L698.60,293.99 L698.70,293.99 L698.80,293.99 L698.90,293.99 L699.00,293.99 L699.10,293.99 L699.20,293.99 L699.30,293.99 L699.40,293.99 L699.50,293.99 L699.60,293.99 L699.70,293.99 L699.80,293.99 L699.90,293.99 L700.00,293.99 L700.10,293.99 L700.20,293.99 L700.30,293.99 L700.40,293.99 L700.50,293.99 L700.60,293.99 L700.70,293.99 L700.80,293.99 L700.90,293.99 L701.00,293.99 L701.10,293.99 L701.20,293.99 L701.30,293.99 L701.40,293.99 L701.50,293.99 L701.60,293.99 L701.70,293.99 L701.80,293.99 L701.90,293.99 L702.00,293.99 L702.10,293.99 L702.20,293.99 L702.30,293.99 L702.40,293.99 L702.50,293.99 L702.60,293.99 L702.70,293.99 L702.80,293.99 L702.90,293.99 L703.00,293.99 L703.10,293.99 L703.20,293.99 L703.30,293.99 L703.40,293.99 L703.50,293.99 L703.60,293.99 L703.70,293.99 L703.80,293.99 L703.90,293.99 L704.00,293.99 L704.10,293.99 L704.20,293.99 L704.30,293.99 L704.40,293.99 L704.50,293.99 L704.60,293.99 L704.70,293.99 L704.80,293.99 L704.90,293.99 L705.00,293.99 L705.10,293.99 L705.20,293.99 L705.30,293.99 L705.40,293.99 L705.50,293.99 L705.60,293.99 L705.70,294.00 L705.80,294.00 L705.90,294.00 L706.00,294.00 L706.10,294.00 L706.20,294.00 L706.30,294.00 L706.40,294.00 L706.50,294.00 L706.60,294.00 L706.70,294.00 L706.80,294.00 L706.90,294.00 L707.00,294.00 L707.10,294.00 L707.20,294.00 L707.30,294.00 L707.40,294.00 L707.50,294.00 L707.60,294.00 L707.70,294.00 L707.80,294.00 L707.90,294.00 L708.00,294.00 L708.10,294.00 L708.20,294.00 L708.30,294.00 L708.40,294.00 L708.50,294.00 L708.60,294.00 L708.70,294.00 L708.80,294.00 L708.90,294.00 L709.00,294.00 L709.10,294.00 L709.20,294.00 L709.30,294.00 L709.40,294.00 L709.50,294.00 L709.60,294.00 L709.70,294.00 L709.80,294.00 L709.90,294.00" stroke="#000" stroke-width="1.5" fill="none" stroke-linejoin="round"/>
<path d="M650.00,292.78 L650.40,292.56 L650.80,291.83 L651.20,293.61 L651.60,292.49 L652.00,291.51 L652.40,291.43 L652.80,293.80 L653.20,292.49 L653.60,292.61 L654.00,293.00 L654.40,291.16 L654.80,292.92 L655.20,293.18 L655.60,291.27 L656.00,292.55 L656.40,293.56 L656.80,293.54 L657.20,293.02 L657.60,293.97 L658.00,292.65 L658.40,292.16 L658.80,293.23 L659.20,291.70 L659.60,291.34 L660.00,292.83 L660.40,292.38 L660.80,293.90 L661.20,293.97 L661.60,291.10 L662.00,293.60 L662.40,293.75 L662.80,291.48 L663.20,292.11 L663.60,293.89 L664.00,293.51 L664.40,293.69 L664.80,293.62 L665.20,294.00 L665.60,292.93 L666.00,293.55 L666.40,293.32 L666.80,293.80 L667.20,293.91 L667.60,293.99 L668.00,291.59 L668.40,292.12 L668.80,292.81 L669.20,293.89 L669.60,293.86 L670.00,293.90 L670.40,293.52 L670.80,293.97 L671.20,293.62 L671.60,293.77 L672.00,293.78 L672.40,292.48 L672.80,293.14 L673.20,293.09 L673.60,293.42 L674.00,292.88 L674.40,291.96 L674.80,293.54 L675.20,293.96 L675.60,293.07 L676.00,293.36 L676.40,291.98 L676.80,293.91 L677.20,291.59 L677.60,294.00 L678.00,292.87 L678.40,293.18 L678.80,293.53 L679.20,291.52 L679.60,292.30 L680.00,293.83 L680.40,293.03 L680.80,292.63 L681.20,293.99 L681.60,293.94 L682.00,292.67 L682.40,292.19 L682.80,293.13 L683.20,293.25 L683.60,292.99 L684.00,293.65 L684.40,291.57 L684.80,291.18 L685.20,293.07 L685.60,293.99 L686.00,293.32 L686.40,291.89 L686.80,293.50 L687.20,293.92 L687.60,293.80 L688.00,292.26 L688.40,292.60 L688.80,293.59 L689.20,292.59 L689.60,292.06 L690.00,291.16 L690.40,291.77 L690.80,293.21 L691.20,291.86 L691.60,291.35 L692.00,291.60 L692.40,292.10 L692.80,292.72 L693.20,292.97 L693.60,291.69 L694.00,292.59 L694.40,292.22 L694.80,293.72 L695.20,293.93 L695.60,293.63 L696.00,292.73 L696.40,292.77 L696.80,293.77 L697.20,293.79 L697.60,291.24 L698.00,293.96 L698.40,291.35 L698.80,292.02 L699.20,292.77 L699.60,291.02 L700.00,292.38 L700.40,294.00 L700.80,292.19 L701.20,293.51 L701.60,292.26 L702.00,292.56 L702.40,293.92 L702.80,293.99 L703.20,294.00 L703.60,292.65 L704.00,292.62 L704.40,293.81 L704.80,293.94 L705.20,293.60 L705.60,292.60 L706.00,292.76 L706.40,292.41 L706.80,292.10 L707.20,292.73 L707.60,292.50 L708.00,294.00 L708.40,294.00 L708.80,292.42 L709.20,293.07 L709.60,293.67 L710.00,293.93 L710.40,293.66 L710.80,293.65 L711.20,293.35 L711.60,293.44 L712.00,293.85 L712.40,293.96 L712.80,293.84 L713.20,293.93 L713.60,293.95 L714.00,293.51 L714.40,293.92 L714.80,292.60 L715.20,293.24 L715.60,293.42 L716.00,293.02 L716.40,293.80 L716.80,294.00 L717.20,293.97 L717.60,293.65 L718.00,293.61 L718.40,293.78 L718.80,293.70 L719.20,292.50 L719.60,294.00 L720.00,293.44" stroke="#000" stroke-width="0.9" fill="none" stroke-linejoin="round"/>
<text x="94.45" y="143.65" font-size="14" fill="#2e2a95" font-weight="normal" font-style="normal" text-anchor="start" >10+</text>
<text x="116.18" y="154.1" font-size="14" fill="#2e2a95" font-weight="normal" font-style="normal" text-anchor="start" >9+</text>
<text x="76.82" y="183.45" font-size="14" fill="#2e2a95" font-weight="normal" font-style="normal" text-anchor="start" >11+</text>
<text x="103.32" y="192.52" font-size="14" fill="#2e2a95" font-weight="normal" font-style="normal" text-anchor="start" >10+</text>
<text x="63.2" y="268.65" font-size="14" fill="#2e2a95" font-weight="normal" font-style="normal" text-anchor="start" >12+</text>
<text x="107.28" y="259.77" font-size="14" fill="#2e2a95" font-weight="normal" font-style="normal" text-anchor="start" >9+</text>
<text x="281.9" y="233.15" font-size="14" fill="#2e2a95" font-weight="normal" font-style="normal" text-anchor="start" >9+</text>
<text x="262.95" y="279.65" font-size="14" fill="#2e2a95" font-weight="normal" font-style="normal" text-anchor="start" >10+</text>
<text x="298.68" y="261.77" font-size="14" fill="#2e2a95" font-weight="normal" font-style="normal" text-anchor="start" >8+</text>
<text x="416.82" y="137.07" font-size="14" fill="#2e2a95" font-weight="normal" font-style="normal" text-anchor="start" >11+</text>
<text x="433.32" y="129.52" font-size="14" fill="#2e2a95" font-weight="normal" font-style="normal" text-anchor="start" >10+</text>
<text x="486.6" y="148.3" font-size="14" fill="#2e2a95" font-weight="normal" font-style="normal" text-anchor="start" >18+</text>
<text x="476.25" y="162.55" font-size="14" fill="#2e2a95" font-weight="normal" font-style="normal" text-anchor="start" >19+</text>
<text x="505.5" y="157.98" font-size="14" fill="#2e2a95" font-weight="normal" font-style="normal" text-anchor="start" >17+</text>
<text x="426.2" y="205.15" font-size="14" fill="#2e2a95" font-weight="normal" font-style="normal" text-anchor="start" >19+</text>
<text x="451.7" y="184.15" font-size="14" fill="#2e2a95" font-weight="normal" font-style="normal" text-anchor="start" >18+</text>
<text x="465.08" y="207.58" font-size="14" fill="#2e2a95" font-weight="normal" font-style="normal" text-anchor="start" >17+</text>
<text x="501.7" y="192.02" font-size="14" fill="#2e2a95" font-weight="normal" font-style="normal" text-anchor="start" >18+</text>
<text x="506.95" y="238.45" font-size="14" fill="#2e2a95" font-weight="normal" font-style="normal" text-anchor="start" >17+</text>
<text x="414.55" y="260.18" font-size="14" fill="#2e2a95" font-weight="normal" font-style="normal" text-anchor="start" >11+</text>
<text x="447.88" y="256.0" font-size="14" fill="#2e2a95" font-weight="normal" font-style="normal" text-anchor="start" >9+</text>
<text x="471.32" y="252.65" font-size="14" fill="#2e2a95" font-weight="normal" font-style="normal" text-anchor="start" >19+</text>
<text x="472.5" y="275.52" font-size="14" fill="#2e2a95" font-weight="normal" font-style="normal" text-anchor="start" >20+</text>
<text x="593.95" y="96.02" font-size="14" fill="#2e2a95" font-weight="normal" font-style="normal" text-anchor="start" >10+</text>
<text x="582.58" y="112.82" font-size="14" fill="#2e2a95" font-weight="normal" font-style="normal" text-anchor="start" >11+</text>
<text x="653.15" y="130.4" font-size="14" fill="#2e2a95" font-weight="normal" font-style="normal" text-anchor="start" >18+</text>
<text x="674.15" y="141.23" font-size="14" fill="#2e2a95" font-weight="normal" font-style="normal" text-anchor="start" >17+</text>
<text x="603.95" y="188.35" font-size="14" fill="#2e2a95" font-weight="normal" font-style="normal" text-anchor="start" >10+</text>
<text x="582.95" y="211.82" font-size="14" fill="#2e2a95" font-weight="normal" font-style="normal" text-anchor="start" >11+</text>
<text x="608.65" y="228.78" font-size="14" fill="#2e2a95" font-weight="normal" font-style="normal" text-anchor="start" >9+</text>
<text x="612.3" y="255.52" font-size="14" fill="#2e2a95" font-weight="normal" font-style="normal" text-anchor="start" >8+</text>
<text x="644.83" y="247.15" font-size="14" fill="#2e2a95" font-weight="normal" font-style="normal" text-anchor="start" >19+</text>
<text x="637.38" y="280.52" font-size="14" fill="#2e2a95" font-weight="normal" font-style="normal" text-anchor="start" >20+</text>
<text x="666.08" y="190.28" font-size="14" fill="#2e2a95" font-weight="normal" font-style="normal" text-anchor="start" >18+</text>
<text x="671.7" y="221.2" font-size="14" fill="#2e2a95" font-weight="normal" font-style="normal" text-anchor="start" >17+</text>
</svg>
</body></html>
